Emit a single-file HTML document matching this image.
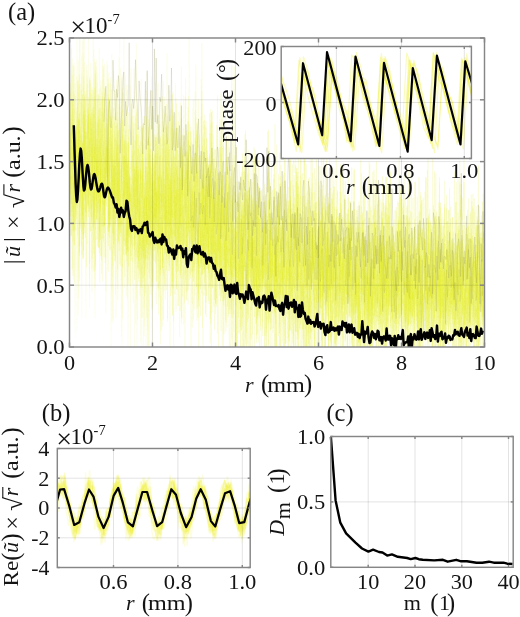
<!DOCTYPE html>
<html><head><meta charset="utf-8"><style>
html,body{margin:0;padding:0;background:#fff;}
svg{display:block;}
</style></head><body>
<svg width="520" height="617" viewBox="0 0 520 617" font-family='"Liberation Serif", "DejaVu Serif", serif'>
<rect x="0" y="0" width="520" height="617" fill="#fff"/>
<defs><clipPath id="ca"><rect x="69.5" y="38.0" width="415.0" height="309.0"/></clipPath></defs>
<g clip-path="url(#ca)" fill="none" stroke-linejoin="round">
<defs><filter id="mb" filterUnits="userSpaceOnUse" x="0" y="0" width="520" height="617"><feGaussianBlur stdDeviation="12"/></filter><mask id="mx" maskUnits="userSpaceOnUse" x="0" y="0" width="520" height="617"><g filter="url(#mb)"><rect x="29.5" y="-2" width="70.5" height="82" fill="#fff" fill-opacity="0.55"/><rect x="100" y="-2" width="50" height="82" fill="#fff" fill-opacity="0.5"/><rect x="150" y="-2" width="50" height="82" fill="#fff" fill-opacity="0.55"/><rect x="200" y="-2" width="80" height="82" fill="#fff" fill-opacity="0.75"/><rect x="280" y="-2" width="100" height="82" fill="#fff" fill-opacity="1"/><rect x="380" y="-2" width="144.5" height="82" fill="#fff" fill-opacity="1"/><rect x="29.5" y="80" width="70.5" height="40" fill="#fff" fill-opacity="0.85"/><rect x="100" y="80" width="50" height="40" fill="#fff" fill-opacity="0.75"/><rect x="150" y="80" width="50" height="40" fill="#fff" fill-opacity="0.75"/><rect x="200" y="80" width="80" height="40" fill="#fff" fill-opacity="0.9"/><rect x="280" y="80" width="100" height="40" fill="#fff" fill-opacity="1"/><rect x="380" y="80" width="144.5" height="40" fill="#fff" fill-opacity="1"/><rect x="29.5" y="120" width="70.5" height="40" fill="#fff" fill-opacity="0.95"/><rect x="100" y="120" width="50" height="40" fill="#fff" fill-opacity="0.9"/><rect x="150" y="120" width="50" height="40" fill="#fff" fill-opacity="0.9"/><rect x="200" y="120" width="80" height="40" fill="#fff" fill-opacity="1"/><rect x="280" y="120" width="100" height="40" fill="#fff" fill-opacity="1"/><rect x="380" y="120" width="144.5" height="40" fill="#fff" fill-opacity="1"/><rect x="29.5" y="160" width="70.5" height="40" fill="#fff" fill-opacity="1"/><rect x="100" y="160" width="50" height="40" fill="#fff" fill-opacity="1"/><rect x="150" y="160" width="50" height="40" fill="#fff" fill-opacity="1"/><rect x="200" y="160" width="80" height="40" fill="#fff" fill-opacity="1"/><rect x="280" y="160" width="100" height="40" fill="#fff" fill-opacity="1"/><rect x="380" y="160" width="144.5" height="40" fill="#fff" fill-opacity="1"/><rect x="29.5" y="200" width="70.5" height="40" fill="#fff" fill-opacity="1"/><rect x="100" y="200" width="50" height="40" fill="#fff" fill-opacity="1"/><rect x="150" y="200" width="50" height="40" fill="#fff" fill-opacity="1"/><rect x="200" y="200" width="80" height="40" fill="#fff" fill-opacity="1"/><rect x="280" y="200" width="100" height="40" fill="#fff" fill-opacity="1"/><rect x="380" y="200" width="144.5" height="40" fill="#fff" fill-opacity="1"/><rect x="29.5" y="240" width="70.5" height="40" fill="#fff" fill-opacity="1"/><rect x="100" y="240" width="50" height="40" fill="#fff" fill-opacity="1"/><rect x="150" y="240" width="50" height="40" fill="#fff" fill-opacity="1"/><rect x="200" y="240" width="80" height="40" fill="#fff" fill-opacity="1"/><rect x="280" y="240" width="100" height="40" fill="#fff" fill-opacity="1"/><rect x="380" y="240" width="144.5" height="40" fill="#fff" fill-opacity="1"/><rect x="29.5" y="280" width="70.5" height="40" fill="#fff" fill-opacity="0.4"/><rect x="100" y="280" width="50" height="40" fill="#fff" fill-opacity="0.6"/><rect x="150" y="280" width="50" height="40" fill="#fff" fill-opacity="0.85"/><rect x="200" y="280" width="80" height="40" fill="#fff" fill-opacity="1"/><rect x="280" y="280" width="100" height="40" fill="#fff" fill-opacity="1"/><rect x="380" y="280" width="144.5" height="40" fill="#fff" fill-opacity="1"/><rect x="29.5" y="320" width="70.5" height="67" fill="#fff" fill-opacity="0.25"/><rect x="100" y="320" width="50" height="67" fill="#fff" fill-opacity="0.4"/><rect x="150" y="320" width="50" height="67" fill="#fff" fill-opacity="0.7"/><rect x="200" y="320" width="80" height="67" fill="#fff" fill-opacity="0.9"/><rect x="280" y="320" width="100" height="67" fill="#fff" fill-opacity="1"/><rect x="380" y="320" width="144.5" height="67" fill="#fff" fill-opacity="1"/></g></mask></defs>
<g mask="url(#mx)" stroke="#e4f028" stroke-opacity="0.14" stroke-width="0.8"><path d="M69.8 184.9l0.6 -37 0.6 75.8 0.6 -29.1 0.6 -33.9 0.6 70.1 0.6 -49.4 0.6 50.4 0.6 -91.5 0.6 -57.7 0.6 15.1 0.6 100.9 0.6 -35.9 0.6 24.8 0.6 1.2 0.6 -64 0.6 127.8 0.6 -102 0.6 45.8 0.6 -62.1 0.6 54.7 0.6 34.3 0.6 -36.4 0.6 -16.8 0.6 26.3 0.6 -15.4 0.6 38.3 0.6 99.3 0.6 -154 0.6 10.4 0.6 19.9 0.6 3.3 0.6 -38.6 0.6 60.1 0.6 11.5 0.6 -21.7 0.6 -55.9 0.6 115.9 0.6 -115.3 0.6 75.7 0.6 23.7 0.6 -102.1 0.6 56.4 0.6 58 0.6 -47.1 0.6 -50.2 0.6 -12.9 0.6 66.4 0.6 -31.6 0.6 -10.9 0.6 52.3 0.6 -39.5 0.6 13.9 0.6 20.3 0.6 -2.2 0.6 -22.3 0.6 1 0.6 23.3 0.6 -6.4 0.6 -64.1 0.6 38.9 0.6 -29.2 0.6 -16.6 0.6 29.5 0.6 -84.4 0.6 138.2 0.6 -67.5 0.6 45.1 0.6 -99.1 0.6 6.7 0.6 172.4 0.6 -56.2 0.6 -67.6 0.6 -7.1 0.6 1.8 0.6 35.2 0.6 -22.8 0.6 -10.6 0.6 32.4 0.6 -52.2 0.6 157.3 0.6 -138.9 0.6 69 0.6 -85.9 0.6 54.4 0.6 24.7 0.6 -50.9 0.6 51.7 0.6 0.1 0.6 30.3 0.6 -62.9 0.6 -25 0.6 -25.8 0.6 55.6 0.6 -56 0.6 51.2 0.6 4.4 0.6 -30.4 0.6 -23.3 0.6 64.3 0.6 -2.8 0.6 -2.2 0.6 -7.7 0.6 38.1 0.6 -81.9 0.6 64.3 0.6 -33.4 0.6 52.9 0.6 -44.6 0.6 0.1 0.6 32.2 0.6 -109.4 0.6 83.3 0.6 -67.6 0.6 42.3 0.6 69.1 0.6 -10.2 0.6 -29 0.6 14.8 0.6 1.8 0.6 14.5 0.6 86.8 0.6 -86.4 0.6 117.4 0.6 -137.6 0.6 47 0.6 0.9 0.6 -21.7 0.6 -18.4 0.6 86.8 0.6 25.2 0.6 -46.6 0.6 64.4 0.6 -68.6 0.6 -113.5 0.6 120.1 0.6 -76.5 0.6 97.9 0.6 -84.5 0.6 25.5 0.6 -11.2 0.6 -23.9 0.6 -54.2 0.6 67.8 0.6 2.4 0.6 50.8 0.6 -68.4 0.6 31.4 0.6 -41.8 0.6 32.3 0.6 -78.4 0.6 188.1 0.6 -101.7 0.6 -47.3 0.6 47.9 0.6 18.7 0.6 -24 0.6 53.1 0.6 -69.3 0.6 -109.3 0.6 62 0.6 96.1 0.6 -12.6 0.6 -20.8 0.6 -60.5 0.6 75.8 0.6 -6.5 0.6 -66.8 0.6 -0.2 0.6 52.1 0.6 29.8 0.6 20.7 0.6 -40.2 0.6 80.2 0.6 -142.7 0.6 57.9 0.6 -46.6 0.6 -68.1 0.6 33 0.6 100.5 0.6 -87.1 0.6 -14.6 0.6 83.8 0.6 7.6 0.6 -31.6 0.6 59.4 0.6 -136.8 0.6 182.7 0.6 -68.9 0.6 -31.2 0.6 -1.5 0.6 -18.8 0.6 -5.1 0.6 23.5 0.6 -65.2 0.6 149.1 0.6 -93.8 0.6 28.7 0.6 -34.5 0.6 -3.9 0.6 46.8 0.6 -9.7 0.6 -63.5 0.6 21.8 0.6 44.2 0.6 -124.8 0.6 -12.5 0.6 170.2 0.6 -72.7 0.6 -105.8 0.6 83.4 0.6 27.5 0.6 20.9 0.6 12.2 0.6 -11.3 0.6 12.4 0.6 -57.3 0.6 52.5 0.6 1.9 0.6 29.5 0.6 -44.1 0.6 32.5 0.6 -25.4 0.6 -58 0.6 32.8 0.6 -6.1 0.6 7.6 0.6 14.7 0.6 9.5 0.6 7 0.6 -48.3 0.6 78.1 0.6 -104.8 0.6 62.9 0.6 30.3 0.6 -9 0.6 7.3 0.6 -32.4 0.6 34.8 0.6 -80.5 0.6 83.8 0.6 74 0.6 -75 0.6 59.5 0.6 -83.4 0.6 -51.7 0.6 20.2 0.6 82.5 0.6 -22.9 0.6 -111.4 0.6 70 0.6 15.6 0.6 -49.2 0.6 -65.4 0.6 55.6 0.6 55.7 0.6 -9.4 0.6 -11.6 0.6 51 0.6 18.2 0.6 -39.8 0.6 36.9 0.6 -31.5 0.6 -4.5 0.6 -105 0.6 140.5 0.6 -25.8 0.6 2.2 0.6 -23.1 0.6 -27.8 0.6 64.6 0.6 13.4 0.6 39.4 0.6 -33.8 0.6 -55.7 0.6 21.1 0.6 40.2 0.6 -24.7 0.6 -13.5 0.6 -18.6 0.6 41.5 0.6 -12.1 0.6 71.3 0.6 -34.9 0.6 -116 0.6 166.7 0.6 -82.3 0.6 -18.6 0.6 20.4 0.6 16.7 0.6 -26.9 0.6 -1.6 0.6 2.9 0.6 79.7 0.6 -76.9 0.6 26.3 0.6 -11.6 0.6 -26.1 0.6 -18.3 0.6 -11.5 0.6 55.5 0.6 -55.9 0.6 -11.2 0.6 2.3 0.6 -11.4 0.6 66 0.6 1.4 0.6 -39.5 0.6 88.4 0.6 -60.1 0.6 25.6 0.6 -5.3 0.6 62.2 0.6 -41.3 0.6 -31.1 0.6 -36.3 0.6 -4 0.6 44.2 0.6 4.2 0.6 24.4 0.6 -42.6 0.6 22 0.6 -29.6 0.6 -52.2 0.6 76.5 0.6 62.8 0.6 -30.3 0.6 30.2 0.6 -12.7 0.6 -99.9 0.6 45.9 0.6 75.1 0.6 -87.7 0.6 -26.8 0.6 63.1 0.6 13.6 0.6 -12.7 0.6 -20.9 0.6 -10.5 0.6 -22.5 0.6 -0.3 0.6 2.3 0.6 -7 0.6 30.7 0.6 83.2 0.6 -55 0.6 -14.8 0.6 26.3 0.6 -43.9 0.6 44.6 0.6 27.1 0.6 -93.2 0.6 31.8 0.6 15.3 0.6 -22.3 0.6 -4.2 0.6 24.1 0.6 64.2 0.6 -22.2 0.6 -9.6 0.6 26.9 0.6 -51.9 0.6 -33.1 0.6 61.3 0.6 28.6 0.6 -126.3 0.6 97.4 0.6 28.9 0.6 -55.6 0.6 -6.2 0.6 46.3 0.6 -57.5 0.6 47.5 0.6 22.2 0.6 -48.8 0.6 -19.5 0.6 53.8 0.6 -39.1 0.6 15.6 0.6 -116.9 0.6 144.3 0.6 -79.1 0.6 50.4 0.6 2.9 0.6 -29.3 0.6 -5.3 0.6 -13.3 0.6 31.3 0.6 36.6 0.6 -3 0.6 -39.6 0.6 -2.3 0.6 -29.4 0.6 34.4 0.6 -19.7 0.6 -20.4 0.6 48.4 0.6 51.3 0.6 0 0.6 0 0.6 -103.5 0.6 93.5 0.6 -77.4 0.6 22.4 0.6 -43.9 0.6 31.6 0.6 35.4 0.6 3.8 0.6 -10.2 0.6 -2.9 0.6 26.9 0.6 -19.3 0.6 -59.1 0.6 102.7 0.6 -52.9 0.6 47.2 0.6 -44.4 0.6 -20 0.6 28.9 0.6 -26.5 0.6 67.7 0.6 -78.2 0.6 59.2 0.6 -43.7 0.6 13.9 0.6 48.8 0.6 -12.1 0.6 -37.8 0.6 -47.7 0.6 45.5 0.6 1 0.6 51.1 0.6 -92.4 0.6 -16.6 0.6 65.1 0.6 8.5 0.6 35.4 0.6 -70.6 0.6 -79.1 0.6 83.5 0.6 -21.1 0.6 25.6 0.6 55.8 0.6 -85.9 0.6 91.8 0.6 -39.2 0.6 -16.3 0.6 -18.7 0.6 13.7 0.6 0.4 0.6 38.8 0.6 21.3 0.6 -51.9 0.6 26.1 0.6 25.8 0.6 -3.2 0.6 -33.2 0.6 36.4 0.6 -2.5 0.6 2.5 0.6 -60.5 0.6 -7.1 0.6 -68.2 0.6 135.3 0.6 -35.2 0.6 -55.3 0.6 38.9 0.6 2.8 0.6 -78.2 0.6 77.6 0.6 28.4 0.6 6.1 0.6 -55.2 0.6 0.6 0.6 55.5 0.6 -15.9 0.6 -50.5 0.6 -2.2 0.6 39.9 0.6 -42.4 0.6 1.9 0.6 83.7 0.6 -54.2 0.6 -23.5 0.6 31.1 0.6 46.6 0.6 -55.7 0.6 -37.3 0.6 -35.5 0.6 128.5 0.6 -172.9 0.6 143.6 0.6 -73.8 0.6 -12 0.6 10.3 0.6 35.1 0.6 40.2 0.6 -61.1 0.6 45.5 0.6 45.1 0.6 -184.7 0.6 89.2 0.6 -47.3 0.6 102.4 0.6 -88.4 0.6 -5.6 0.6 1 0.6 65.7 0.6 35.2 0.6 -31.5 0.6 64 0.6 -14.8 0.6 -60 0.6 33.3 0.6 -24.4 0.6 -1.8 0.6 -85.8 0.6 26.1 0.6 55.6 0.6 -52.8 0.6 74.2 0.6 -12.8 0.6 -50.4 0.6 76.4 0.6 -28.5 0.6 30.4 0.6 -47.1 0.6 -63.4 0.6 92.1 0.6 -34.6 0.6 38.2 0.6 7.2 0.6 2.4 0.6 -100.1 0.6 -37.8 0.6 77.4 0.6 44.4 0.6 -54 0.6 42.7 0.6 -46.9 0.6 21 0.6 0.5 0.6 -13.4 0.6 46.2 0.6 -4.7 0.6 39.9 0.6 -38.5 0.6 28.7 0.6 -39.2 0.6 25.7 0.6 -34.8 0.6 -13.9 0.6 64.1 0.6 -18 0.6 4.1 0.6 -59.7 0.6 -38.5 0.6 35.4 0.6 48 0.6 -71.8 0.6 107.4 0.6 -107.8 0.6 81.8 0.6 52.3 0.6 -179.7 0.6 43.7 0.6 95.3 0.6 -38 0.6 15.2 0.6 -12.5 0.6 49.9 0.6 -24.8 0.6 -40.1 0.6 9.7 0.6 -39.4 0.6 44.9 0.6 -91.4 0.6 116.6 0.6 -33 0.6 72.2 0.6 -23.9 0.6 -91.8 0.6 82.2 0.6 -50.5 0.6 23.5 0.6 29.6 0.6 -19.2 0.6 4.4 0.6 -0.8 0.6 -46.9 0.6 4.1 0.6 45.4 0.6 9.2 0.6 -39.3 0.6 15.6 0.6 -44.8 0.6 -64.7 0.6 72.9 0.6 35.5 0.6 5.9 0.6 19.5 0.6 1.8 0.6 3.2 0.6 -16.7 0.6 1.2 0.6 -42.7 0.6 42.6 0.6 -5 0.6 29.6 0.6 -101.2 0.6 46 0.6 -50.8 0.6 40.2 0.6 -27.3 0.6 67.1 0.6 -35.3 0.6 -79.1 0.6 144.1 0.6 -82.1 0.6 -20.4 0.6 51.5 0.6 -13.4 0.6 -20.1 0.6 69.1 0.6 -33.9 0.6 41 0.6 -5.7 0.6 -1.5 0.6 -13.2 0.6 -8.3 0.6 -12.3 0.6 61.9 0.6 -124.1 0.6 33.8 0.6 17.7 0.6 37.9 0.6 -7.4 0.6 -23.2 0.6 5.5 0.6 71.2 0.6 -84.8 0.6 -89.3 0.6 177.9 0.6 -99.4 0.6 25.5 0.6 16.6 0.6 -58.2 0.6 90.6 0.6 -41.5 0.6 -53.6 0.6 64.3 0.6 6.1 0.6 -15.5 0.6 16.1 0.6 -75.1 0.6 89 0.6 -61.3 0.6 73.2 0.6 -64.6 0.6 29.5 0.6 58.3 0.6 -60.7 0.6 31.8 0.6 -19.2 0.6 -73.9 0.6 95.8 0.6 -1.6 0.6 -88.8 0.6 54.5 0.6 -57.5 0.6 50.7 0.6 37.5 0.6 -24 0.6 -48.7 0.6 12.6 0.6 35.7 0.6 -0.8 0.6 5.1 0.6 14.4 0.6 -91.1 0.6 75 0.6 37.8 0.6 -22.4 0.6 -37.6 0.6 4.3 0.6 24.8 0.6 17.3 0.6 -21 0.6 50 0.6 -2.1 0.6 -71.5 0.6 40.7"/><path d="M69.8 208.1l0.6 28.4 0.6 -61.1 0.6 36.5 0.6 -3.2 0.6 0 0.6 -26 0.6 46.9 0.6 -63.1 0.6 24 0.6 10.9 0.6 3.8 0.6 -18.1 0.6 -18.9 0.6 2.6 0.6 19.6 0.6 -18.2 0.6 26.1 0.6 -47 0.6 50.9 0.6 116.2 0.6 -174.8 0.6 51.2 0.6 55.6 0.6 -45.8 0.6 28.6 0.6 -133.1 0.6 77.6 0.6 89.7 0.6 -93.5 0.6 33.7 0.6 -103.8 0.6 130.3 0.6 73.4 0.6 -119.8 0.6 14.2 0.6 1.8 0.6 88.9 0.6 -122.4 0.6 -62.8 0.6 165 0.6 -142 0.6 74.9 0.6 -135.1 0.6 94 0.6 25.8 0.6 -60.4 0.6 28.1 0.6 45.6 0.6 -55.8 0.6 52.2 0.6 56.2 0.6 -175.4 0.6 112.7 0.6 9.1 0.6 -39 0.6 78.7 0.6 -10 0.6 -34.2 0.6 0.7 0.6 -22.9 0.6 -52.2 0.6 73.5 0.6 -42.2 0.6 -5.3 0.6 71.1 0.6 -52.2 0.6 47.1 0.6 -87.9 0.6 30.6 0.6 22.3 0.6 53.5 0.6 -57.4 0.6 34.8 0.6 -62.8 0.6 40.6 0.6 25.7 0.6 -74.9 0.6 10.9 0.6 57.8 0.6 -77.8 0.6 68.6 0.6 1.2 0.6 -15.2 0.6 33.6 0.6 -10.9 0.6 -9.3 0.6 -78.6 0.6 2.6 0.6 82.2 0.6 -85.4 0.6 79.4 0.6 -16.2 0.6 -23.9 0.6 30.3 0.6 -104.3 0.6 107.9 0.6 59 0.6 -109.3 0.6 76.2 0.6 -3.5 0.6 133.8 0.6 -188.4 0.6 9.7 0.6 1.5 0.6 -8.3 0.6 -34.8 0.6 80.5 0.6 -42.3 0.6 70.7 0.6 -15.7 0.6 -59.7 0.6 33.2 0.6 72.6 0.6 -71.1 0.6 19.8 0.6 26.1 0.6 -48.7 0.6 31.5 0.6 56.6 0.6 -25.4 0.6 -128.6 0.6 150.1 0.6 -75.9 0.6 -17.7 0.6 -1.9 0.6 78 0.6 -39.7 0.6 -17.1 0.6 -31.4 0.6 59.7 0.6 22.1 0.6 -94 0.6 -5.9 0.6 35.2 0.6 38 0.6 -41.7 0.6 13.6 0.6 -36.8 0.6 88.4 0.6 -55.1 0.6 10.9 0.6 35.2 0.6 -54.4 0.6 7.7 0.6 17.4 0.6 -37.4 0.6 75.1 0.6 -55.4 0.6 -24.9 0.6 6.1 0.6 -39.8 0.6 100.2 0.6 12 0.6 -74.2 0.6 -11.5 0.6 -82.1 0.6 72.7 0.6 67.1 0.6 -77.8 0.6 76 0.6 23.8 0.6 -189.6 0.6 110.8 0.6 -19.6 0.6 6.8 0.6 -61.4 0.6 73.9 0.6 -46 0.6 104.4 0.6 13.1 0.6 -129.3 0.6 -2.8 0.6 46.4 0.6 13.4 0.6 2.5 0.6 41.1 0.6 -108.4 0.6 42.5 0.6 7.3 0.6 6.2 0.6 -32.6 0.6 26.3 0.6 -11.6 0.6 89 0.6 -77.4 0.6 -81 0.6 131.3 0.6 -18.5 0.6 -49.1 0.6 -2.8 0.6 16.6 0.6 100 0.6 -93.1 0.6 77.8 0.6 -12.6 0.6 -65.8 0.6 41.4 0.6 -52.8 0.6 -103.2 0.6 105.9 0.6 3.2 0.6 77.5 0.6 -10.6 0.6 17.5 0.6 -21.7 0.6 23.6 0.6 -16.5 0.6 -21.2 0.6 35.8 0.6 15.7 0.6 -1.8 0.6 -79.8 0.6 19.3 0.6 -46 0.6 -0.5 0.6 67 0.6 -48.1 0.6 93.7 0.6 -170.1 0.6 52.8 0.6 68.2 0.6 40.7 0.6 -68 0.6 97 0.6 -40.9 0.6 -71.5 0.6 33 0.6 27.9 0.6 -68 0.6 91.2 0.6 -57.5 0.6 38.4 0.6 14.8 0.6 -58.5 0.6 65.5 0.6 -131.7 0.6 119.4 0.6 -120.9 0.6 141.1 0.6 -72.2 0.6 78.6 0.6 6.8 0.6 -59.3 0.6 -23 0.6 84 0.6 -104.5 0.6 89.4 0.6 -35.6 0.6 -9.9 0.6 -8.3 0.6 103.3 0.6 -148 0.6 52 0.6 43.7 0.6 23.8 0.6 32.6 0.6 -14.9 0.6 -75.9 0.6 37.8 0.6 31.8 0.6 -22.9 0.6 -89.3 0.6 84.2 0.6 10.2 0.6 -80.8 0.6 42.9 0.6 18.1 0.6 23.9 0.6 43.8 0.6 -18.6 0.6 -28 0.6 -8.9 0.6 -19.9 0.6 -8.7 0.6 14.9 0.6 0.5 0.6 45.9 0.6 57.6 0.6 -76.8 0.6 17.6 0.6 -12.2 0.6 -13.7 0.6 39.4 0.6 -6.1 0.6 -38.8 0.6 -7.1 0.6 27.3 0.6 -42.7 0.6 27.3 0.6 30.7 0.6 -39.1 0.6 -83 0.6 108.6 0.6 -74.6 0.6 -9.7 0.6 -5.4 0.6 96.3 0.6 -119.8 0.6 87.2 0.6 12.6 0.6 -0.5 0.6 -31.9 0.6 23.3 0.6 7.9 0.6 -61.7 0.6 81.9 0.6 13.4 0.6 -71 0.6 4.6 0.6 -17.6 0.6 87 0.6 -85.4 0.6 28.4 0.6 -58.9 0.6 125.7 0.6 -54 0.6 16.7 0.6 55.8 0.6 -39.4 0.6 -72.5 0.6 63.9 0.6 9.5 0.6 -60.7 0.6 -5.5 0.6 0.2 0.6 69 0.6 -25.8 0.6 -45.2 0.6 65.8 0.6 3.4 0.6 -60 0.6 -34 0.6 110.1 0.6 39.5 0.6 -26.2 0.6 -19.9 0.6 -31.6 0.6 -29.6 0.6 29.6 0.6 18.6 0.6 -28.5 0.6 37.8 0.6 -31.9 0.6 19.5 0.6 -142 0.6 85.1 0.6 63 0.6 5.8 0.6 -20 0.6 47.5 0.6 -38 0.6 0 0.6 -63.5 0.6 52.7 0.6 12.1 0.6 20.9 0.6 -6.9 0.6 -37.8 0.6 4.6 0.6 -58.3 0.6 71.4 0.6 -68 0.6 36.5 0.6 11.9 0.6 77.3 0.6 -33.5 0.6 -77.4 0.6 -29.6 0.6 54.1 0.6 -25.1 0.6 47.5 0.6 -1.1 0.6 9.4 0.6 -65.2 0.6 28.5 0.6 23.3 0.6 2.8 0.6 -35.9 0.6 10.4 0.6 41.4 0.6 -104.6 0.6 65.5 0.6 10.8 0.6 -66.3 0.6 20.1 0.6 49.6 0.6 -28.4 0.6 59.6 0.6 -14.4 0.6 65.2 0.6 -143 0.6 123.5 0.6 -100.2 0.6 59 0.6 4.5 0.6 -25.5 0.6 -21.1 0.6 -15.8 0.6 -52.2 0.6 62.8 0.6 -23.7 0.6 62 0.6 -55.1 0.6 24.7 0.6 25.9 0.6 -15.5 0.6 -1.9 0.6 -11.6 0.6 -9.7 0.6 39.1 0.6 6.7 0.6 -62.2 0.6 93.3 0.6 -35.3 0.6 -94.7 0.6 167.2 0.6 -70.8 0.6 -58.9 0.6 89.1 0.6 -174.2 0.6 214.4 0.6 -163.2 0.6 -5.5 0.6 28.3 0.6 50.2 0.6 -25.6 0.6 50.8 0.6 -70.8 0.6 77.5 0.6 -29.7 0.6 -55.9 0.6 85.7 0.6 -25.5 0.6 -23.1 0.6 56 0.6 -99.7 0.6 36.4 0.6 69.3 0.6 -51.8 0.6 29.5 0.6 -3.2 0.6 -31 0.6 32.9 0.6 -71 0.6 71.3 0.6 -71.2 0.6 45.2 0.6 -38.7 0.6 61.4 0.6 -0.9 0.6 19.6 0.6 -65.5 0.6 -14.9 0.6 -50.5 0.6 36.9 0.6 46.1 0.6 21 0.6 -25 0.6 19.2 0.6 -63.4 0.6 23.7 0.6 70.3 0.6 -3.5 0.6 -81.2 0.6 47.1 0.6 23.7 0.6 -58.7 0.6 65.1 0.6 -2 0.6 6.3 0.6 56.9 0.6 -104.4 0.6 75.6 0.6 -20.2 0.6 6.8 0.6 -49.4 0.6 31.4 0.6 -1.2 0.6 62.8 0.6 -57.5 0.6 51.5 0.6 -60.5 0.6 -0.5 0.6 12.1 0.6 -79 0.6 65.6 0.6 -1 0.6 13.9 0.6 11.2 0.6 -36.7 0.6 -4.5 0.6 85.5 0.6 -81.4 0.6 19.9 0.6 -14.3 0.6 16.6 0.6 59.2 0.6 0 0.6 -110.4 0.6 58.5 0.6 51.9 0.6 -54.6 0.6 22.4 0.6 32.2 0.6 0 0.6 0 0.6 -53.1 0.6 9.3 0.6 6.1 0.6 -16.8 0.6 -9.2 0.6 63.7 0.6 -37.9 0.6 18.3 0.6 16.6 0.6 -28.6 0.6 -14.6 0.6 3.7 0.6 42.5 0.6 -37.2 0.6 -92.6 0.6 111.1 0.6 18.7 0.6 -63.1 0.6 -12.5 0.6 4.2 0.6 49.3 0.6 -73.9 0.6 59.9 0.6 11.2 0.6 -18.6 0.6 -15.2 0.6 -31.2 0.6 2.7 0.6 24 0.6 -38.8 0.6 34.1 0.6 -34.6 0.6 78.9 0.6 5.6 0.6 -82.3 0.6 73.8 0.6 -33.8 0.6 -6.4 0.6 10.5 0.6 -1.3 0.6 -72.2 0.6 129.7 0.6 -110 0.6 -58.1 0.6 92.5 0.6 1.4 0.6 -30.7 0.6 -45.2 0.6 111.3 0.6 -40.7 0.6 11 0.6 -30.4 0.6 16.2 0.6 -20.3 0.6 42.1 0.6 -17.1 0.6 24 0.6 0 0.6 -15.8 0.6 0.3 0.6 30.8 0.6 -99.5 0.6 69.2 0.6 37.6 0.6 -86.9 0.6 68.2 0.6 -43.6 0.6 21.6 0.6 -10.4 0.6 3.6 0.6 25.4 0.6 -19.4 0.6 -79.5 0.6 152.4 0.6 -72.4 0.6 -14.2 0.6 49 0.6 10.8 0.6 -126.9 0.6 98.1 0.6 -93.7 0.6 62.4 0.6 19.2 0.6 -15.3 0.6 -5.5 0.6 -21 0.6 30.7 0.6 12.5 0.6 -0.3 0.6 -46.1 0.6 22.4 0.6 60.6 0.6 -10.8 0.6 -27.5 0.6 28.6 0.6 -6.6 0.6 18.6 0.6 -20.6 0.6 -19.4 0.6 -22.2 0.6 35.6 0.6 -77.6 0.6 80.6 0.6 -124.5 0.6 87.9 0.6 20.4 0.6 29 0.6 38.2 0.6 -48.2 0.6 -9.1 0.6 -67.1 0.6 117.2 0.6 -117 0.6 78 0.6 -31.3 0.6 77.5 0.6 -57.5 0.6 13 0.6 -32.8 0.6 20.2 0.6 37.3 0.6 -69.5 0.6 9.6 0.6 3.4 0.6 -17 0.6 -4.3 0.6 41.1 0.6 41.3 0.6 0.5 0.6 -95.2 0.6 25 0.6 23.2 0.6 14.1 0.6 -13 0.6 -0.3 0.6 9.3 0.6 9.8 0.6 -105.4 0.6 76.9 0.6 24.5 0.6 21.4 0.6 -18.8 0.6 -49.2 0.6 -2.1 0.6 36.1 0.6 -9 0.6 10.6 0.6 22.6 0.6 -84.8 0.6 36.7 0.6 -84.7 0.6 120.8 0.6 -17.1 0.6 -41.2 0.6 43.6 0.6 33 0.6 -14 0.6 -32.6 0.6 -9.9 0.6 17.4 0.6 -44 0.6 0.4 0.6 26.9 0.6 12 0.6 10.5 0.6 -31 0.6 -14.4 0.6 34.8 0.6 -15.1 0.6 28.9 0.6 32.8 0.6 -12.9 0.6 -59 0.6 13.4 0.6 -45 0.6 62.1 0.6 -31.6 0.6 -17.6 0.6 13.9 0.6 56.5 0.6 -11.1 0.6 -8.6 0.6 32.7 0.6 -45.1 0.6 -21.3"/><path d="M69.8 172.8l0.6 -38.3 0.6 28.9 0.6 -16.7 0.6 122.5 0.6 -147.2 0.6 -56.4 0.6 50.5 0.6 74.3 0.6 20.9 0.6 -40.7 0.6 47.9 0.6 -68.6 0.6 51.2 0.6 -61.3 0.6 -19 0.6 160.3 0.6 -106.1 0.6 36.7 0.6 34.5 0.6 -36 0.6 -14.4 0.6 -52 0.6 113.4 0.6 -112.1 0.6 -47 0.6 71.5 0.6 3.4 0.6 21 0.6 50.4 0.6 -68.3 0.6 5.9 0.6 -14.2 0.6 -90.5 0.6 91.8 0.6 13.3 0.6 -53.8 0.6 130.3 0.6 -11 0.6 -35.2 0.6 11.9 0.6 -52 0.6 38.2 0.6 -90.1 0.6 10.7 0.6 37 0.6 44.8 0.6 -37.9 0.6 -10.2 0.6 77.2 0.6 -57.3 0.6 -16.6 0.6 20.3 0.6 -64.9 0.6 16.8 0.6 86 0.6 -37.1 0.6 35.8 0.6 -57.4 0.6 56.8 0.6 -76.4 0.6 25.3 0.6 -30.3 0.6 49.9 0.6 52.7 0.6 -146.2 0.6 91.7 0.6 -75.2 0.6 45.5 0.6 -13.5 0.6 -58.8 0.6 72.4 0.6 -54.1 0.6 127.3 0.6 -103.9 0.6 53.7 0.6 -6.7 0.6 -8.5 0.6 -18.1 0.6 -66.2 0.6 158.4 0.6 -80.7 0.6 33.3 0.6 -90.9 0.6 78 0.6 -44.4 0.6 41.7 0.6 -53.4 0.6 -17.6 0.6 69.7 0.6 -22.3 0.6 62.3 0.6 -75 0.6 -27.1 0.6 70.3 0.6 -82.7 0.6 144.8 0.6 -10 0.6 -19 0.6 -33.6 0.6 -24.1 0.6 5.9 0.6 0.5 0.6 -38 0.6 60.5 0.6 30.3 0.6 0.5 0.6 -154.5 0.6 211.5 0.6 -95 0.6 -79.1 0.6 50 0.6 59.3 0.6 -31.8 0.6 -40.7 0.6 -15 0.6 96.3 0.6 -70.4 0.6 27 0.6 -40.1 0.6 -12.3 0.6 82.4 0.6 47.7 0.6 -75.6 0.6 -66.4 0.6 55.4 0.6 24 0.6 -105.3 0.6 157.7 0.6 -81.1 0.6 63.5 0.6 -22 0.6 -0.6 0.6 -66.2 0.6 108.4 0.6 -16.3 0.6 52.8 0.6 -90.8 0.6 37 0.6 -32.4 0.6 60.8 0.6 -30.7 0.6 -58.7 0.6 52.5 0.6 -31.4 0.6 5.1 0.6 34.1 0.6 58.5 0.6 -114.3 0.6 37 0.6 -36.8 0.6 144.4 0.6 -24.7 0.6 33.5 0.6 -75.7 0.6 -81.6 0.6 22.7 0.6 24.4 0.6 -6.3 0.6 -29.4 0.6 44.2 0.6 -27.8 0.6 11 0.6 111 0.6 -93.2 0.6 -78.8 0.6 78.1 0.6 -9.7 0.6 16.5 0.6 -5.2 0.6 -72.3 0.6 63.4 0.6 28.4 0.6 99.9 0.6 -118.3 0.6 63.9 0.6 -8.7 0.6 -116 0.6 4 0.6 116.5 0.6 -123.6 0.6 19.1 0.6 52.2 0.6 -65.3 0.6 102.3 0.6 -19.4 0.6 10.9 0.6 -14.2 0.6 -85.2 0.6 95.5 0.6 -7.6 0.6 -7.8 0.6 -45.4 0.6 23.4 0.6 -54.6 0.6 69.2 0.6 24.2 0.6 -30.7 0.6 -19.9 0.6 37.7 0.6 -47.4 0.6 -73.1 0.6 109.8 0.6 -21.9 0.6 -61.8 0.6 89.3 0.6 9.1 0.6 11.8 0.6 -58.8 0.6 -4.2 0.6 29.4 0.6 -5.7 0.6 -55.7 0.6 21 0.6 99.5 0.6 -58.3 0.6 -2.9 0.6 -25.3 0.6 39.6 0.6 18.1 0.6 -6.5 0.6 70.5 0.6 -84.7 0.6 23.7 0.6 -38.9 0.6 61.7 0.6 -25.9 0.6 26.1 0.6 5.9 0.6 -71.8 0.6 45.6 0.6 -33.6 0.6 68.1 0.6 -53.6 0.6 93 0.6 -67.8 0.6 2.1 0.6 -41 0.6 15.2 0.6 14.5 0.6 -36.5 0.6 23.9 0.6 -11.7 0.6 -7.3 0.6 30.9 0.6 10 0.6 -23.7 0.6 30.2 0.6 -31.4 0.6 -27.5 0.6 12.2 0.6 46.9 0.6 48.8 0.6 -61.8 0.6 3.2 0.6 -46.7 0.6 58.2 0.6 -7.2 0.6 -34.5 0.6 46.7 0.6 -13.6 0.6 -76.7 0.6 10.7 0.6 37.4 0.6 12.7 0.6 54.3 0.6 -64.2 0.6 17.8 0.6 -6 0.6 29.5 0.6 -20.9 0.6 6.6 0.6 -18.6 0.6 -46.3 0.6 44.4 0.6 92.9 0.6 -38.6 0.6 35.4 0.6 -45.5 0.6 -52.3 0.6 4.8 0.6 36.6 0.6 -33 0.6 38.3 0.6 32.6 0.6 -2.2 0.6 -28.7 0.6 -94 0.6 115.3 0.6 -109 0.6 -4.9 0.6 62.3 0.6 -5.1 0.6 19.4 0.6 -21.4 0.6 -28.3 0.6 26.2 0.6 -43.6 0.6 -9.5 0.6 38.6 0.6 0.2 0.6 14.8 0.6 -16.6 0.6 54.1 0.6 -57.4 0.6 9.2 0.6 37.9 0.6 -128.3 0.6 132.8 0.6 -3.7 0.6 -41.2 0.6 91.3 0.6 -51.7 0.6 31.2 0.6 -23.4 0.6 -28.5 0.6 -16.6 0.6 -35.3 0.6 14.7 0.6 -16.5 0.6 28.6 0.6 40.9 0.6 -62.9 0.6 65.4 0.6 5.5 0.6 -86.3 0.6 35.5 0.6 25.7 0.6 -21.4 0.6 -4.6 0.6 90.1 0.6 -50.3 0.6 43.7 0.6 -49 0.6 29 0.6 -78.5 0.6 39.3 0.6 47.8 0.6 -29 0.6 49.4 0.6 -50.1 0.6 -15.7 0.6 9.5 0.6 77 0.6 -55.8 0.6 -27.9 0.6 6.6 0.6 -33.9 0.6 98 0.6 -70.8 0.6 40.7 0.6 -30.6 0.6 -6.9 0.6 -10.3 0.6 43.1 0.6 -27 0.6 51.1 0.6 11.1 0.6 -76.5 0.6 19.4 0.6 64 0.6 -37.6 0.6 -31.4 0.6 -66.2 0.6 21.8 0.6 9.7 0.6 101.9 0.6 -68.4 0.6 -23.7 0.6 2.1 0.6 -2.7 0.6 24.1 0.6 -88.1 0.6 11.1 0.6 69.4 0.6 27.2 0.6 -127.4 0.6 111.4 0.6 -75.5 0.6 -33.4 0.6 118.6 0.6 -47.9 0.6 27.7 0.6 -39.8 0.6 7.9 0.6 -73.8 0.6 60.5 0.6 26.4 0.6 -51.3 0.6 62.5 0.6 4.1 0.6 -117 0.6 132.7 0.6 -10.3 0.6 -23.8 0.6 41.7 0.6 38.9 0.6 -125.3 0.6 78.6 0.6 -7.1 0.6 -6.9 0.6 20.5 0.6 3 0.6 -46.9 0.6 -99.7 0.6 74.1 0.6 -0.5 0.6 87.5 0.6 -53.2 0.6 42.4 0.6 -78 0.6 44.5 0.6 -12 0.6 5.6 0.6 21.7 0.6 29 0.6 -80.6 0.6 75.9 0.6 -6.5 0.6 -30.7 0.6 16.5 0.6 -41.3 0.6 -33.1 0.6 33.8 0.6 2.4 0.6 7.9 0.6 -36.7 0.6 104.5 0.6 -82.1 0.6 52.8 0.6 9.4 0.6 -44.8 0.6 17.8 0.6 -42.1 0.6 -22.1 0.6 134.6 0.6 -81.8 0.6 -88.5 0.6 48.7 0.6 -24.6 0.6 59.8 0.6 55.2 0.6 -9.4 0.6 -69.5 0.6 -9.7 0.6 69.6 0.6 -13.5 0.6 -21.9 0.6 72.8 0.6 -44.9 0.6 -82.8 0.6 -23.2 0.6 101.4 0.6 -82.8 0.6 97.6 0.6 9.9 0.6 49 0.6 -111.5 0.6 53 0.6 -109.2 0.6 88.9 0.6 7.9 0.6 70.9 0.6 -123.6 0.6 72.7 0.6 -4.8 0.6 55.7 0.6 -91.3 0.6 -0.8 0.6 56.3 0.6 -21.1 0.6 -7.4 0.6 -19.7 0.6 30.3 0.6 -59.6 0.6 72.9 0.6 14.3 0.6 -4.1 0.6 30.2 0.6 -14.3 0.6 -60.3 0.6 23.6 0.6 40.3 0.6 -41.6 0.6 52.3 0.6 -30.5 0.6 -25.8 0.6 -4.8 0.6 51.2 0.6 -57 0.6 -39.5 0.6 81.8 0.6 -37.8 0.6 62.4 0.6 0 0.6 -59.7 0.6 16.6 0.6 -5.5 0.6 26.2 0.6 -11.5 0.6 -34 0.6 -38.8 0.6 67.9 0.6 38.8 0.6 -91 0.6 25.7 0.6 -2.8 0.6 13.3 0.6 -84.3 0.6 86 0.6 -13 0.6 66.1 0.6 -34.7 0.6 2.9 0.6 -21.5 0.6 -11.2 0.6 32.5 0.6 -90.5 0.6 100.5 0.6 -22 0.6 -20.4 0.6 47.1 0.6 -61.2 0.6 -3.5 0.6 30.2 0.6 -85 0.6 73.3 0.6 -7.5 0.6 37.2 0.6 26.7 0.6 -38.6 0.6 -9.6 0.6 3.2 0.6 -44.5 0.6 96.6 0.6 -33.1 0.6 26 0.6 -116.2 0.6 71.1 0.6 -1.8 0.6 17.2 0.6 -70.5 0.6 49.4 0.6 -22.5 0.6 77.5 0.6 -117.3 0.6 31.5 0.6 -6.8 0.6 -28.4 0.6 58.4 0.6 -1.3 0.6 -36.4 0.6 11.8 0.6 27 0.6 -11.5 0.6 18.5 0.6 -45.9 0.6 -8.9 0.6 37.9 0.6 -76.3 0.6 124.9 0.6 -38.8 0.6 -79 0.6 84.1 0.6 36 0.6 -107 0.6 34.5 0.6 58.9 0.6 -68.1 0.6 62.8 0.6 9.9 0.6 -35.3 0.6 10.1 0.6 17.3 0.6 -20.6 0.6 17.6 0.6 -33.8 0.6 3.1 0.6 -31.2 0.6 45.9 0.6 24.9 0.6 -0.7 0.6 -31.6 0.6 -71.8 0.6 27.2 0.6 55.6 0.6 -60.3 0.6 74.1 0.6 -77.9 0.6 55.6 0.6 -46.7 0.6 5.5 0.6 35.7 0.6 -24.6 0.6 47.7 0.6 -32.3 0.6 -46.7 0.6 -121.1 0.6 135.9 0.6 24.5 0.6 37.3 0.6 -76.3 0.6 95.7 0.6 -25.1 0.6 -42.3 0.6 53.7 0.6 -100.7 0.6 18.1 0.6 65.5 0.6 -0.2 0.6 21.5 0.6 2.8 0.6 -62.2 0.6 -6.9 0.6 11.3 0.6 3.9 0.6 31.4 0.6 -34.3 0.6 61.4 0.6 -46.1 0.6 -58.2 0.6 6.7 0.6 70.3 0.6 -2.9 0.6 -67.4 0.6 -15.6 0.6 118.9 0.6 -31.2 0.6 -22.6 0.6 -38.6 0.6 74.6 0.6 -49.5 0.6 36 0.6 -103.5 0.6 79.1 0.6 22 0.6 5.9 0.6 -50.3 0.6 15.9 0.6 58.3 0.6 -38.4 0.6 48.5 0.6 -19 0.6 18.4 0.6 1.6 0.6 -21 0.6 9.7 0.6 -47.1 0.6 -10.4 0.6 36.2 0.6 27.3 0.6 -62.9 0.6 87 0.6 0 0.6 -83.4 0.6 2.9 0.6 -12.7 0.6 42 0.6 33.1 0.6 -24.8 0.6 -34 0.6 41.6 0.6 -2.1 0.6 24.1 0.6 -8.9 0.6 -66.6 0.6 15.4 0.6 50.4 0.6 -3.1 0.6 -16.6 0.6 -35.6 0.6 54.5 0.6 -30.6 0.6 54.4 0.6 -21.5 0.6 -53.3 0.6 -19.5 0.6 68.3 0.6 -12.7 0.6 -52.7 0.6 41.1 0.6 4 0.6 -35 0.6 12.6 0.6 -37.2 0.6 12.4 0.6 46.8 0.6 -12.7 0.6 -1.8 0.6 38.3 0.6 -13.1 0.6 -66.8"/><path d="M69.8 210.5l0.6 -78.8 0.6 4.7 0.6 -51.3 0.6 -26.6 0.6 63.6 0.6 44.7 0.6 22.1 0.6 -13.7 0.6 -40.3 0.6 87.8 0.6 -90.9 0.6 3.7 0.6 -33.1 0.6 48.1 0.6 -22 0.6 41.2 0.6 -13.7 0.6 51.7 0.6 -81.1 0.6 -70.8 0.6 68.8 0.6 -10 0.6 64.9 0.6 -117.5 0.6 109.3 0.6 -77.5 0.6 34.9 0.6 51.5 0.6 -96.2 0.6 50.8 0.6 -7.4 0.6 -12.9 0.6 24.3 0.6 18.5 0.6 -41 0.6 44.2 0.6 -22.3 0.6 37.4 0.6 30.8 0.6 -28.3 0.6 -7.7 0.6 -24.1 0.6 -56.8 0.6 130 0.6 -75.1 0.6 102 0.6 -48.5 0.6 -18 0.6 73.2 0.6 -18.5 0.6 -83.1 0.6 5.3 0.6 11.1 0.6 29.4 0.6 -138.5 0.6 116.6 0.6 28 0.6 -115.7 0.6 54.5 0.6 47.7 0.6 -72.8 0.6 53.2 0.6 -22.4 0.6 22 0.6 51.6 0.6 -84.6 0.6 42 0.6 46.4 0.6 -8.7 0.6 -72 0.6 59.8 0.6 -13.6 0.6 -26.5 0.6 25.9 0.6 71.5 0.6 -92.2 0.6 -13.6 0.6 4.8 0.6 -36 0.6 63.1 0.6 -19.4 0.6 -39.3 0.6 84.5 0.6 -90.2 0.6 0.8 0.6 47.8 0.6 -51.8 0.6 49.5 0.6 72.2 0.6 -85.6 0.6 38.5 0.6 -2.9 0.6 9.4 0.6 -55.3 0.6 40.1 0.6 48.6 0.6 -45.5 0.6 -12.3 0.6 58.7 0.6 -12.5 0.6 -2.4 0.6 8.7 0.6 -36.1 0.6 -33.6 0.6 -44 0.6 33.8 0.6 7.7 0.6 -6.8 0.6 -10.4 0.6 75.8 0.6 -45.9 0.6 17.4 0.6 17.6 0.6 11.2 0.6 1.2 0.6 -9.3 0.6 38 0.6 -74.2 0.6 25.8 0.6 -6.9 0.6 -12.2 0.6 -19.7 0.6 57.5 0.6 -17.6 0.6 60.1 0.6 34.5 0.6 -17.5 0.6 -159.2 0.6 152.4 0.6 -100.3 0.6 -49.4 0.6 91.3 0.6 -98.6 0.6 -10.5 0.6 44.5 0.6 -69.8 0.6 86.3 0.6 59.4 0.6 -53.9 0.6 44.1 0.6 33.8 0.6 -0.8 0.6 -163.3 0.6 135.3 0.6 -20 0.6 25.1 0.6 -32.4 0.6 17.7 0.6 6.3 0.6 30.9 0.6 9 0.6 -27.2 0.6 -43.3 0.6 -87.2 0.6 50 0.6 -37.7 0.6 65.2 0.6 27.7 0.6 48.2 0.6 -53.2 0.6 93.8 0.6 -80.2 0.6 -94.2 0.6 62.8 0.6 -39.5 0.6 72.5 0.6 36.9 0.6 -34.3 0.6 -3.4 0.6 -78.6 0.6 -38.1 0.6 127.7 0.6 -15.5 0.6 -11.1 0.6 9.2 0.6 34.2 0.6 -57 0.6 -13.7 0.6 -1.8 0.6 69.2 0.6 -46.2 0.6 66.6 0.6 -117.6 0.6 88.8 0.6 -32.2 0.6 8 0.6 6.1 0.6 18.6 0.6 27 0.6 -158.5 0.6 71.2 0.6 -0.5 0.6 -88.7 0.6 106.4 0.6 -31.4 0.6 25.9 0.6 -55.9 0.6 33.5 0.6 9.5 0.6 28.1 0.6 -25.1 0.6 -41.8 0.6 145.1 0.6 -81 0.6 15 0.6 -4.6 0.6 70 0.6 -117.3 0.6 74.6 0.6 -25.9 0.6 14.7 0.6 46.3 0.6 -46.3 0.6 56.7 0.6 -35.3 0.6 -23.4 0.6 -13.5 0.6 -1.4 0.6 10.7 0.6 -107.7 0.6 83.1 0.6 71 0.6 -21.8 0.6 2.7 0.6 -17.2 0.6 17.4 0.6 10.2 0.6 -111.2 0.6 78 0.6 17.5 0.6 -2 0.6 -0.3 0.6 -74.9 0.6 44.7 0.6 -29.8 0.6 178 0.6 -138 0.6 -34 0.6 -42.7 0.6 93.5 0.6 72.3 0.6 -97.3 0.6 50.1 0.6 53.8 0.6 -51.6 0.6 -70.9 0.6 -6 0.6 23.8 0.6 73.3 0.6 -156.4 0.6 163.6 0.6 -40.7 0.6 55.9 0.6 -117.2 0.6 42.5 0.6 -19.8 0.6 37.5 0.6 6.3 0.6 -7.4 0.6 92.1 0.6 -127.7 0.6 4.8 0.6 54.1 0.6 -12.7 0.6 -9.9 0.6 -58.7 0.6 54.6 0.6 14.9 0.6 20.6 0.6 46.7 0.6 -42.1 0.6 -23.8 0.6 11.8 0.6 -11.1 0.6 -26.7 0.6 14.9 0.6 6 0.6 -16 0.6 19.4 0.6 7.5 0.6 -17.8 0.6 93.8 0.6 -130.6 0.6 105.8 0.6 -86.6 0.6 34 0.6 -47.2 0.6 46.2 0.6 36 0.6 -81.7 0.6 40.1 0.6 1.8 0.6 0.9 0.6 -41.7 0.6 7.9 0.6 26.7 0.6 68.7 0.6 -47.6 0.6 -17.7 0.6 -79.8 0.6 64.9 0.6 19.9 0.6 -59.7 0.6 59.2 0.6 -4.1 0.6 -9.6 0.6 61.9 0.6 -101.1 0.6 23.8 0.6 31.1 0.6 28.6 0.6 -52.6 0.6 -55.9 0.6 89.5 0.6 13.7 0.6 -60 0.6 79.2 0.6 28 0.6 -69.5 0.6 7.5 0.6 -16.3 0.6 11.1 0.6 -40.6 0.6 25.1 0.6 15.9 0.6 -6.2 0.6 -50.8 0.6 -15.7 0.6 2.1 0.6 9.1 0.6 151 0.6 -78.8 0.6 -26.8 0.6 -24.2 0.6 71.6 0.6 -127.9 0.6 51.4 0.6 42.5 0.6 -35.9 0.6 23.6 0.6 18 0.6 -56.7 0.6 44.4 0.6 34.4 0.6 -25.3 0.6 -23.3 0.6 38.6 0.6 -100.5 0.6 101.7 0.6 -123.1 0.6 40.1 0.6 79.7 0.6 -43.5 0.6 -47.2 0.6 63.4 0.6 37.7 0.6 -49.8 0.6 -84.6 0.6 146.9 0.6 -79.4 0.6 25.9 0.6 7 0.6 13.7 0.6 -1.9 0.6 -60.3 0.6 21.4 0.6 64.3 0.6 -105.2 0.6 117.8 0.6 -74.4 0.6 23 0.6 -44.5 0.6 39.5 0.6 -30.3 0.6 50.2 0.6 -43.7 0.6 29.7 0.6 -80.1 0.6 120.1 0.6 -74.4 0.6 34.1 0.6 14.1 0.6 25.4 0.6 -35.5 0.6 71.5 0.6 -3.8 0.6 -77 0.6 86.7 0.6 -118 0.6 70.9 0.6 -16.6 0.6 6.5 0.6 -13.6 0.6 24.7 0.6 2.9 0.6 -7.5 0.6 -48.4 0.6 -4 0.6 -6.7 0.6 40.1 0.6 20.1 0.6 53.9 0.6 -88.5 0.6 -9.8 0.6 48.3 0.6 -48.9 0.6 -22.6 0.6 52 0.6 -44.1 0.6 32 0.6 73.1 0.6 -45.2 0.6 -2.8 0.6 -40.8 0.6 52.5 0.6 -13.7 0.6 14.7 0.6 -34.3 0.6 -6.3 0.6 -41.4 0.6 6.5 0.6 26.8 0.6 -4.5 0.6 4.8 0.6 -1.1 0.6 -64.1 0.6 160.8 0.6 -86 0.6 -22 0.6 -36.4 0.6 92.8 0.6 -58.5 0.6 -22.6 0.6 57.8 0.6 49.9 0.6 -53 0.6 30.7 0.6 -73.7 0.6 64.5 0.6 -112.1 0.6 73 0.6 40.1 0.6 -9.2 0.6 19.6 0.6 -55.6 0.6 -46.4 0.6 76.3 0.6 -48 0.6 75.2 0.6 -44.4 0.6 -84.8 0.6 148.9 0.6 -98.1 0.6 4.7 0.6 118.4 0.6 -16.7 0.6 -14.8 0.6 -69.4 0.6 55.2 0.6 -6.3 0.6 -31.6 0.6 26.1 0.6 -1.9 0.6 17.1 0.6 -52 0.6 69.5 0.6 -90 0.6 77.7 0.6 16.7 0.6 -45.7 0.6 8.6 0.6 68.4 0.6 -60.3 0.6 58.1 0.6 -21.9 0.6 -52.7 0.6 55.3 0.6 -39.9 0.6 23 0.6 -85.1 0.6 76.5 0.6 41.2 0.6 -3.1 0.6 -8.6 0.6 -36 0.6 3.9 0.6 -32.1 0.6 26.7 0.6 0.9 0.6 -5.8 0.6 13.1 0.6 -12.8 0.6 -16.6 0.6 -0.6 0.6 41.7 0.6 35.1 0.6 -26.9 0.6 -35.1 0.6 62 0.6 -40.6 0.6 -27.7 0.6 29.3 0.6 19.4 0.6 -106.1 0.6 14.7 0.6 60 0.6 -58.9 0.6 0.1 0.6 85.8 0.6 -145.3 0.6 136.9 0.6 -21.8 0.6 26.1 0.6 -36.6 0.6 43.6 0.6 -42.1 0.6 -44 0.6 35.7 0.6 14.2 0.6 -71 0.6 89.1 0.6 -66.1 0.6 47.6 0.6 -17.4 0.6 7.2 0.6 -4.5 0.6 6.6 0.6 20.3 0.6 -6.5 0.6 -35.1 0.6 21.8 0.6 30.8 0.6 -14.5 0.6 -0.5 0.6 -18.5 0.6 -9.8 0.6 3.4 0.6 23.2 0.6 -20.5 0.6 42.8 0.6 28.9 0.6 -69 0.6 50.5 0.6 -24.2 0.6 8.2 0.6 -62.2 0.6 62.7 0.6 -47.7 0.6 26.5 0.6 22.8 0.6 12.4 0.6 -67.6 0.6 3.6 0.6 -15.2 0.6 -42.4 0.6 64.3 0.6 0.4 0.6 15.6 0.6 -6.7 0.6 14.1 0.6 16.6 0.6 -104.4 0.6 141.7 0.6 -68.9 0.6 -6.6 0.6 12.4 0.6 33.3 0.6 -22.5 0.6 8.6 0.6 20.8 0.6 -30.9 0.6 11.1 0.6 5.3 0.6 -37.1 0.6 56.5 0.6 -44.7 0.6 31 0.6 -29 0.6 10.4 0.6 -3.9 0.6 39.7 0.6 -6.8 0.6 3.9 0.6 -32.2 0.6 -15.5 0.6 -12.5 0.6 50.2 0.6 -17.7 0.6 45.1 0.6 0 0.6 -12.3 0.6 -7.5 0.6 19.8 0.6 0 0.6 -56.2 0.6 41.9 0.6 14.3 0.6 -124.5 0.6 77.8 0.6 14.4 0.6 -28.6 0.6 43.3 0.6 -79.5 0.6 97.1 0.6 0 0.6 -40.5 0.6 19.9 0.6 -73.1 0.6 93.7 0.6 -24.1 0.6 -30 0.6 -9.4 0.6 -18.6 0.6 23.2 0.6 -73.2 0.6 94.5 0.6 -19.1 0.6 -25 0.6 37 0.6 -1.5 0.6 4.1 0.6 4.6 0.6 15.1 0.6 -19.4 0.6 33.5 0.6 -63.1 0.6 62.8 0.6 -131.9 0.6 13.5 0.6 22.8 0.6 48.1 0.6 9.6 0.6 -65.2 0.6 40.7 0.6 -15.9 0.6 41.7 0.6 -63.5 0.6 64.6 0.6 -27.9 0.6 57.6 0.6 -35.3 0.6 -40.2 0.6 33.8 0.6 -0.6 0.6 -46.6 0.6 33.8 0.6 -53 0.6 122.5 0.6 -96.7 0.6 2 0.6 67.6 0.6 -8.4 0.6 -75.4 0.6 67.9 0.6 -12.2 0.6 -45.7 0.6 36.8 0.6 -32.6 0.6 46.9 0.6 -40.2 0.6 -31.6 0.6 30 0.6 85.5 0.6 -98.8 0.6 23.5 0.6 31.7 0.6 -85.1 0.6 110.7 0.6 -130.1 0.6 96.9 0.6 -85.1 0.6 64.3 0.6 40.1 0.6 -45.8 0.6 -9.5 0.6 -8.5 0.6 -20.7 0.6 71.9 0.6 -49.3 0.6 -9.7 0.6 40.2 0.6 20 0.6 0.6 0.6 -60.8 0.6 -1.7 0.6 59.5 0.6 14.9 0.6 -90.9 0.6 98.5 0.6 -54.5 0.6 32.9"/><path d="M69.8 182.1l0.6 -22.1 0.6 14.8 0.6 28.7 0.6 -2.2 0.6 -43.6 0.6 -23.8 0.6 96.2 0.6 -65.8 0.6 -27.9 0.6 19.7 0.6 43.4 0.6 -87.9 0.6 96.6 0.6 -77.3 0.6 -46.4 0.6 162.1 0.6 -96.4 0.6 -2.7 0.6 4.2 0.6 40.6 0.6 -15.4 0.6 39.4 0.6 -60.1 0.6 -19.8 0.6 52.6 0.6 9.1 0.6 -15.6 0.6 -19.8 0.6 -3.4 0.6 7.9 0.6 -8.5 0.6 54 0.6 74.6 0.6 -155.6 0.6 -39.4 0.6 124.3 0.6 -27.9 0.6 -42.6 0.6 -32.2 0.6 14.4 0.6 -31 0.6 64.5 0.6 -23.2 0.6 -0.2 0.6 40.7 0.6 -79.7 0.6 27.9 0.6 -17.4 0.6 66.5 0.6 -69 0.6 93.4 0.6 -61.9 0.6 135.2 0.6 -73.7 0.6 -76.5 0.6 58.4 0.6 -29.4 0.6 74.1 0.6 -138.8 0.6 47.5 0.6 31.5 0.6 -20 0.6 5.8 0.6 -51.1 0.6 60.1 0.6 69.5 0.6 -43.9 0.6 -71.4 0.6 36.9 0.6 45 0.6 -42.3 0.6 26.4 0.6 -21.4 0.6 94.9 0.6 -29.5 0.6 -60.1 0.6 38.7 0.6 -17.8 0.6 -75.1 0.6 102.8 0.6 -17.7 0.6 32.2 0.6 5.5 0.6 -19.9 0.6 69.7 0.6 52.6 0.6 -174.3 0.6 61.7 0.6 -45.1 0.6 40.2 0.6 0.9 0.6 -17.5 0.6 -0.1 0.6 93.6 0.6 -108.2 0.6 98.2 0.6 -57.8 0.6 -100 0.6 108.5 0.6 -61.9 0.6 85.7 0.6 -41.3 0.6 24.6 0.6 -14.6 0.6 67.9 0.6 5.7 0.6 -67.4 0.6 113.1 0.6 -48 0.6 -76 0.6 61.6 0.6 17.8 0.6 15.5 0.6 -74.5 0.6 24.8 0.6 -26.1 0.6 15.1 0.6 -85.7 0.6 96.2 0.6 79.3 0.6 -108.7 0.6 3.5 0.6 -8.1 0.6 100.2 0.6 -139.2 0.6 41.6 0.6 -1.5 0.6 81.9 0.6 -105.2 0.6 18 0.6 -60.2 0.6 69.7 0.6 36.6 0.6 -61.9 0.6 39.1 0.6 -53.2 0.6 55.5 0.6 -40.7 0.6 1.4 0.6 -8.7 0.6 14.9 0.6 8.9 0.6 -28.8 0.6 16.2 0.6 -31.5 0.6 17.2 0.6 81.6 0.6 -95.7 0.6 -71.1 0.6 49.7 0.6 -15.7 0.6 5.3 0.6 42.6 0.6 30.8 0.6 -93.2 0.6 -12 0.6 23 0.6 6.8 0.6 1.8 0.6 20.6 0.6 -13.4 0.6 13.5 0.6 -13.5 0.6 56.3 0.6 -9.6 0.6 -53 0.6 44.8 0.6 90.5 0.6 -107.8 0.6 105.8 0.6 -184.6 0.6 58.7 0.6 5.1 0.6 58.5 0.6 20.2 0.6 -31.5 0.6 -5.6 0.6 30.5 0.6 -30.7 0.6 -21.3 0.6 7.1 0.6 67 0.6 69.3 0.6 -105.7 0.6 27.7 0.6 -38.7 0.6 -51.2 0.6 2.7 0.6 60 0.6 -30.3 0.6 -22.5 0.6 67.1 0.6 -6.6 0.6 -18.5 0.6 33.5 0.6 21.7 0.6 14.2 0.6 -33.4 0.6 29.6 0.6 -56.7 0.6 44.9 0.6 -70.1 0.6 12.4 0.6 110.6 0.6 -104.5 0.6 57.5 0.6 -69.7 0.6 32.3 0.6 21.5 0.6 -27.3 0.6 50.1 0.6 -38.2 0.6 -2.4 0.6 20.2 0.6 -21.3 0.6 61.1 0.6 -68.6 0.6 77.8 0.6 -81.9 0.6 4.1 0.6 -9 0.6 45.8 0.6 -154 0.6 137.4 0.6 -15.2 0.6 33.5 0.6 -89.5 0.6 74.4 0.6 -58.2 0.6 74.3 0.6 -47.5 0.6 22 0.6 -52.9 0.6 47.7 0.6 19.8 0.6 -50.2 0.6 61.2 0.6 -10.7 0.6 -68.3 0.6 107.8 0.6 -108.9 0.6 47.1 0.6 17.7 0.6 -42.9 0.6 -17.7 0.6 48.6 0.6 -13.4 0.6 -42.5 0.6 2.5 0.6 36.7 0.6 24.6 0.6 6.8 0.6 -11.6 0.6 -49.8 0.6 5.6 0.6 13.3 0.6 -47.6 0.6 72.8 0.6 3.6 0.6 1.3 0.6 -95.6 0.6 170.1 0.6 -94.5 0.6 -5.3 0.6 16.9 0.6 -97.6 0.6 53.9 0.6 19.8 0.6 63.8 0.6 -47.5 0.6 31.3 0.6 -12.4 0.6 -3.5 0.6 25.1 0.6 -35.9 0.6 -42.2 0.6 28.4 0.6 32 0.6 89.4 0.6 -117.8 0.6 2.2 0.6 46.4 0.6 12.6 0.6 -38.7 0.6 56.3 0.6 -58.4 0.6 74.9 0.6 -7.1 0.6 -39.2 0.6 68.8 0.6 -67 0.6 -17.7 0.6 80.2 0.6 -92.1 0.6 53 0.6 -41.2 0.6 10.8 0.6 24.7 0.6 2.1 0.6 47.2 0.6 -41.6 0.6 2.2 0.6 -92.7 0.6 26.2 0.6 91.6 0.6 -84.7 0.6 17.7 0.6 19.1 0.6 -28.4 0.6 -13.7 0.6 45.3 0.6 -11.4 0.6 -15 0.6 38.4 0.6 -40.7 0.6 7.3 0.6 18.7 0.6 4.7 0.6 -38.4 0.6 -25.9 0.6 22.6 0.6 38.5 0.6 -58.5 0.6 24.3 0.6 -19.1 0.6 -25.4 0.6 77.4 0.6 -24.4 0.6 13.7 0.6 8.8 0.6 -113.6 0.6 45.9 0.6 101.8 0.6 -79.6 0.6 35.3 0.6 -66 0.6 46 0.6 9.2 0.6 -11 0.6 -10 0.6 15.7 0.6 8 0.6 -1.9 0.6 -24.9 0.6 57.5 0.6 -35 0.6 4 0.6 11.6 0.6 -43.8 0.6 72.7 0.6 -30.7 0.6 16.2 0.6 -46.7 0.6 35.5 0.6 -14.8 0.6 -11.5 0.6 69.9 0.6 -71.4 0.6 39.5 0.6 -15.2 0.6 -3.8 0.6 -33.6 0.6 3.4 0.6 -43.3 0.6 66.2 0.6 19.6 0.6 1 0.6 -38.9 0.6 -40.2 0.6 53.5 0.6 28.1 0.6 -25.3 0.6 0.8 0.6 6.4 0.6 23.5 0.6 53.3 0.6 -60 0.6 -57.2 0.6 35.2 0.6 82 0.6 -76.2 0.6 65.8 0.6 -146.7 0.6 75.5 0.6 43.3 0.6 -69.2 0.6 54.4 0.6 -44.6 0.6 20.8 0.6 37.4 0.6 -62.5 0.6 68.5 0.6 -96.6 0.6 52.6 0.6 33.1 0.6 31.2 0.6 -127.5 0.6 7.2 0.6 98.1 0.6 -105.6 0.6 62.1 0.6 11.2 0.6 -3.5 0.6 5.4 0.6 -64.4 0.6 53.2 0.6 67.7 0.6 -147.9 0.6 50.4 0.6 67.2 0.6 -22.9 0.6 16.6 0.6 -28 0.6 -13.1 0.6 6.3 0.6 25 0.6 6.1 0.6 -56.4 0.6 36.3 0.6 -94.2 0.6 114.8 0.6 -53.9 0.6 29.9 0.6 23.3 0.6 -75.9 0.6 51.5 0.6 29.7 0.6 -16.6 0.6 -47.9 0.6 77.4 0.6 -90.6 0.6 29.5 0.6 33.5 0.6 -59.2 0.6 -15.2 0.6 48.1 0.6 16.5 0.6 -65.9 0.6 15.3 0.6 85 0.6 -21.8 0.6 0.8 0.6 6.2 0.6 39.4 0.6 -81.1 0.6 28.9 0.6 -0.1 0.6 -47.9 0.6 68 0.6 -14.8 0.6 -8.8 0.6 20.4 0.6 -9.2 0.6 -27 0.6 24.5 0.6 -46.9 0.6 70.1 0.6 -28.3 0.6 55.1 0.6 -45.8 0.6 18.3 0.6 -68.9 0.6 25.3 0.6 8.9 0.6 -53 0.6 16.6 0.6 29.7 0.6 42.6 0.6 30 0.6 -49.9 0.6 9.8 0.6 9.6 0.6 -11.2 0.6 45.1 0.6 -105 0.6 90.2 0.6 -17.2 0.6 -36.1 0.6 68.1 0.6 -80.9 0.6 -0.6 0.6 38.4 0.6 26.6 0.6 -21.5 0.6 38 0.6 -99.7 0.6 45.8 0.6 24.3 0.6 6 0.6 -44.5 0.6 -36.8 0.6 95.2 0.6 -26.1 0.6 35.8 0.6 -72.8 0.6 14.9 0.6 -79 0.6 86.2 0.6 8.8 0.6 8.3 0.6 -48.8 0.6 82.4 0.6 -79.5 0.6 16.6 0.6 20.5 0.6 12.1 0.6 -64 0.6 -32.7 0.6 80.9 0.6 -29.2 0.6 -48.8 0.6 81.7 0.6 -10.9 0.6 29.5 0.6 -33.3 0.6 -2.2 0.6 8.7 0.6 8.7 0.6 28.4 0.6 -9.7 0.6 -12.9 0.6 -51.6 0.6 36.9 0.6 9.5 0.6 -48.6 0.6 3.3 0.6 41.5 0.6 -3.8 0.6 -42.4 0.6 11.5 0.6 36.6 0.6 -31.7 0.6 9.9 0.6 -44.1 0.6 67.1 0.6 -57.5 0.6 18 0.6 44.6 0.6 -68 0.6 6.2 0.6 73.4 0.6 -114 0.6 109.5 0.6 -6.6 0.6 -16.4 0.6 -35.5 0.6 8.3 0.6 23.1 0.6 -51.9 0.6 38.6 0.6 -37.8 0.6 -54.5 0.6 101.3 0.6 61.2 0.6 -42.5 0.6 20.5 0.6 -34.3 0.6 0.2 0.6 41.3 0.6 -2.3 0.6 -28.3 0.6 -1.6 0.6 47 0.6 -83.8 0.6 31.1 0.6 1.2 0.6 -8 0.6 39 0.6 -29.9 0.6 -35.9 0.6 -1.7 0.6 23.6 0.6 19.5 0.6 16 0.6 -70.4 0.6 30.3 0.6 26.5 0.6 42.5 0.6 -30.2 0.6 30.2 0.6 -101 0.6 39.5 0.6 24.8 0.6 -13.9 0.6 -106.6 0.6 52.7 0.6 84.2 0.6 -36.8 0.6 31.2 0.6 17.3 0.6 -60.3 0.6 -88.4 0.6 32.5 0.6 58.5 0.6 11.6 0.6 -18.9 0.6 -33 0.6 83.3 0.6 15.4 0.6 -132.3 0.6 62.8 0.6 -51.8 0.6 54 0.6 -48.3 0.6 75.3 0.6 -35.9 0.6 -40.9 0.6 21.5 0.6 52.9 0.6 -46.4 0.6 53.3 0.6 25.3 0.6 -61.2 0.6 -33.5 0.6 22.9 0.6 69.9 0.6 -68.3 0.6 8.8 0.6 36.9 0.6 42.9 0.6 -89.5 0.6 6.2 0.6 16.5 0.6 66.8 0.6 -0.3 0.6 -84.1 0.6 9 0.6 12.7 0.6 20.4 0.6 -17.3 0.6 26.7 0.6 -7 0.6 18.1 0.6 -34.1 0.6 18.9 0.6 -43.5 0.6 8.8 0.6 46.5 0.6 -91.9 0.6 102.2 0.6 -48.4 0.6 -25.9 0.6 -8.7 0.6 97.9 0.6 -88.4 0.6 -9.6 0.6 -9.6 0.6 107.6 0.6 -36.6 0.6 -17.2 0.6 9 0.6 -63.7 0.6 69.1 0.6 -66.6 0.6 25.6 0.6 64.8 0.6 -17.1 0.6 -16.2 0.6 -16.6 0.6 -36.7 0.6 43.8 0.6 -42.2 0.6 83.6 0.6 17 0.6 -56.6 0.6 -29.3 0.6 28.9 0.6 17.7 0.6 -47.3 0.6 -61 0.6 80.9 0.6 17.6 0.6 3.1 0.6 -104.7 0.6 80 0.6 -26.3 0.6 -24.3 0.6 5.7 0.6 71.3 0.6 -66 0.6 4.8 0.6 14.7 0.6 -20.3 0.6 58.3 0.6 -13.8 0.6 13.7 0.6 -45.5 0.6 50.2 0.6 -33.8 0.6 48.3 0.6 -26.9"/><path d="M69.8 188.6l0.6 -13.5 0.6 -49.7 0.6 9.5 0.6 25.7 0.6 -51.2 0.6 54.8 0.6 45.3 0.6 36 0.6 -47.7 0.6 -22.5 0.6 -21.9 0.6 -34.3 0.6 73.2 0.6 8.3 0.6 -67.5 0.6 -20.6 0.6 75.6 0.6 -34.4 0.6 -51.9 0.6 52.3 0.6 18.5 0.6 86.5 0.6 -155.3 0.6 33.9 0.6 25.8 0.6 24.1 0.6 29.9 0.6 -42.4 0.6 0.6 0.6 -59.6 0.6 100.9 0.6 -117.5 0.6 70.2 0.6 -57 0.6 95.7 0.6 -53.4 0.6 -43.2 0.6 55.2 0.6 63.5 0.6 -44.4 0.6 -39.7 0.6 81.1 0.6 2 0.6 -68.5 0.6 47.6 0.6 -70.2 0.6 78.8 0.6 30.2 0.6 -46.3 0.6 -105 0.6 107.3 0.6 -34.3 0.6 -13.3 0.6 49.2 0.6 -93 0.6 44.5 0.6 -14.2 0.6 90 0.6 2.3 0.6 56.7 0.6 -121.3 0.6 1 0.6 -48.4 0.6 -38.9 0.6 85.3 0.6 -0.3 0.6 -36.8 0.6 -54.7 0.6 113.5 0.6 -70.7 0.6 42.4 0.6 3.4 0.6 -58 0.6 78.7 0.6 9.3 0.6 -83 0.6 33.5 0.6 11.2 0.6 -7.1 0.6 -31.9 0.6 42.6 0.6 -56.9 0.6 17.1 0.6 -53.3 0.6 10.5 0.6 20.2 0.6 52.6 0.6 -15.9 0.6 35.5 0.6 -134.9 0.6 117 0.6 -38.2 0.6 -39.3 0.6 129.8 0.6 -20.1 0.6 -20.6 0.6 29.5 0.6 10.4 0.6 -31 0.6 -88.7 0.6 29.4 0.6 35.6 0.6 1.7 0.6 74.1 0.6 -104.3 0.6 15 0.6 71.1 0.6 -56.9 0.6 21.6 0.6 17.8 0.6 19.4 0.6 -9.8 0.6 10.9 0.6 -61.9 0.6 6.5 0.6 3.9 0.6 26.6 0.6 12.4 0.6 -118.9 0.6 180.7 0.6 -135.9 0.6 43 0.6 15.4 0.6 26 0.6 -9.4 0.6 37.1 0.6 9.7 0.6 -48.9 0.6 63.5 0.6 -108.6 0.6 -12.8 0.6 210.2 0.6 -91.2 0.6 -75.8 0.6 3.4 0.6 5.4 0.6 -14.9 0.6 -15.7 0.6 -5.6 0.6 -45.1 0.6 86.6 0.6 -41 0.6 108.9 0.6 -60 0.6 41.2 0.6 -115.9 0.6 -46.1 0.6 87.8 0.6 77.9 0.6 -45.8 0.6 -7 0.6 -8.2 0.6 -43.6 0.6 6.6 0.6 175.7 0.6 -196 0.6 87 0.6 2.2 0.6 -92.1 0.6 81.6 0.6 41.8 0.6 -2.1 0.6 -56.1 0.6 -41.7 0.6 -29.3 0.6 81.1 0.6 12.2 0.6 -100.3 0.6 99.5 0.6 -92.2 0.6 59 0.6 -0.6 0.6 22.5 0.6 -26.3 0.6 36.2 0.6 7.3 0.6 -24.1 0.6 22.5 0.6 -44.7 0.6 10.2 0.6 16.5 0.6 -3.4 0.6 1 0.6 -95.6 0.6 84.4 0.6 28.1 0.6 -14.6 0.6 -46.6 0.6 41.7 0.6 -2.5 0.6 5 0.6 -20.3 0.6 -10.9 0.6 -2.5 0.6 89.8 0.6 -21.7 0.6 71.9 0.6 -156.6 0.6 -14.6 0.6 -9 0.6 56 0.6 -48.1 0.6 57.4 0.6 4.3 0.6 58.9 0.6 -27.9 0.6 -7.3 0.6 -72.3 0.6 -35.2 0.6 102.7 0.6 -40 0.6 5.2 0.6 49.3 0.6 36.7 0.6 -36.4 0.6 25.8 0.6 -43.9 0.6 -7.6 0.6 2.6 0.6 0.3 0.6 -30.4 0.6 64 0.6 -81.6 0.6 112 0.6 -70.7 0.6 -14.7 0.6 53.7 0.6 31.6 0.6 -94.4 0.6 61 0.6 -65.9 0.6 1.6 0.6 38 0.6 0.8 0.6 -46.1 0.6 30.2 0.6 56.4 0.6 -44.2 0.6 -17.2 0.6 17.9 0.6 1.9 0.6 17.3 0.6 0 0.6 31.6 0.6 21.3 0.6 -107.6 0.6 78.9 0.6 -33.1 0.6 70.4 0.6 -64.4 0.6 38.9 0.6 -168.5 0.6 178.6 0.6 -0.8 0.6 -77.4 0.6 -7.5 0.6 148.1 0.6 -103.2 0.6 -27.7 0.6 87.7 0.6 -75.2 0.6 49.2 0.6 20.4 0.6 -24.3 0.6 5.4 0.6 42.4 0.6 -156.4 0.6 117.6 0.6 12.9 0.6 -61.1 0.6 37.8 0.6 -57.4 0.6 66.6 0.6 -20.5 0.6 9.7 0.6 -1.6 0.6 14.3 0.6 -2.9 0.6 -73 0.6 97.6 0.6 -5 0.6 -7.5 0.6 -31.6 0.6 6.1 0.6 -20.5 0.6 95.6 0.6 -69.2 0.6 15.6 0.6 4.3 0.6 -16.2 0.6 84.6 0.6 -88.4 0.6 4.2 0.6 68.5 0.6 -60.6 0.6 -67.6 0.6 77.5 0.6 -34.4 0.6 27.5 0.6 22.3 0.6 4 0.6 -21.7 0.6 -68.5 0.6 21.6 0.6 56.7 0.6 -66.8 0.6 44.7 0.6 19.3 0.6 -40.5 0.6 47.5 0.6 28.9 0.6 -119.1 0.6 130.3 0.6 -97.6 0.6 79.4 0.6 -56.8 0.6 4.8 0.6 7 0.6 74.9 0.6 -87.1 0.6 -3.3 0.6 27.7 0.6 -28.6 0.6 -49.7 0.6 69.7 0.6 -38.1 0.6 51.6 0.6 -59.2 0.6 -12.7 0.6 -84.7 0.6 71 0.6 20.8 0.6 -45.1 0.6 100.3 0.6 -86.2 0.6 71 0.6 2 0.6 -75.4 0.6 38.7 0.6 -49.8 0.6 113.2 0.6 -65.9 0.6 35.4 0.6 -11.1 0.6 59 0.6 -113.5 0.6 32.9 0.6 47.4 0.6 12.1 0.6 -15.5 0.6 -96.6 0.6 67.8 0.6 10.9 0.6 -36.8 0.6 22.2 0.6 -9.3 0.6 -22.4 0.6 19.2 0.6 -23.7 0.6 83.3 0.6 -45.1 0.6 19.6 0.6 -19.6 0.6 7.5 0.6 23.3 0.6 -7.9 0.6 -56.3 0.6 63.9 0.6 23.3 0.6 -68.3 0.6 -15.7 0.6 55.3 0.6 -15.5 0.6 34.7 0.6 -18.8 0.6 -55.9 0.6 14.6 0.6 30.1 0.6 16.5 0.6 48.5 0.6 -69.1 0.6 -5.2 0.6 -25.2 0.6 -41.3 0.6 73.5 0.6 -24.5 0.6 77.8 0.6 -86.5 0.6 15.9 0.6 -20.8 0.6 31.3 0.6 10.7 0.6 -44.1 0.6 82.9 0.6 -44.7 0.6 -18.5 0.6 69 0.6 14.3 0.6 -53 0.6 11.3 0.6 -18 0.6 -1.2 0.6 48.2 0.6 -34.1 0.6 -34.1 0.6 55.3 0.6 -1.9 0.6 29.5 0.6 -68.3 0.6 -49 0.6 127.8 0.6 -75.9 0.6 -6.1 0.6 51.6 0.6 -6 0.6 23.1 0.6 -9.7 0.6 -29.3 0.6 -19 0.6 20.4 0.6 -29.3 0.6 26.7 0.6 44.2 0.6 -96.9 0.6 11.5 0.6 68.7 0.6 -94.2 0.6 55.9 0.6 12.8 0.6 -75.3 0.6 146 0.6 -11.6 0.6 -82.9 0.6 34.3 0.6 21.9 0.6 -91 0.6 43.6 0.6 59 0.6 -21.6 0.6 -53.2 0.6 -40.3 0.6 141.8 0.6 -76.5 0.6 19.3 0.6 49.3 0.6 -55.6 0.6 49 0.6 -38.1 0.6 -82.1 0.6 47 0.6 -11.1 0.6 7.9 0.6 10.6 0.6 -25.9 0.6 75.5 0.6 -25.8 0.6 -43.5 0.6 55.2 0.6 -8.6 0.6 -60.3 0.6 -13.4 0.6 79.7 0.6 7 0.6 -45.4 0.6 13.7 0.6 28.1 0.6 -40.9 0.6 2.3 0.6 17.5 0.6 -116.6 0.6 66.8 0.6 23.4 0.6 -8.3 0.6 -80.6 0.6 78.6 0.6 63.1 0.6 -30.3 0.6 7.2 0.6 19.3 0.6 -23.8 0.6 0.5 0.6 8.8 0.6 13.2 0.6 -42.8 0.6 86.2 0.6 -85.3 0.6 28.2 0.6 -7.1 0.6 64.6 0.6 -119.8 0.6 119.8 0.6 -28.6 0.6 -47.1 0.6 38.7 0.6 -6.1 0.6 43.1 0.6 -41.6 0.6 -18.7 0.6 -14.5 0.6 29.6 0.6 -14.4 0.6 -5.7 0.6 33.5 0.6 3 0.6 -96.5 0.6 100.7 0.6 -70.2 0.6 40.9 0.6 -50.4 0.6 72.6 0.6 -34.3 0.6 5.1 0.6 15.8 0.6 -15.4 0.6 32.8 0.6 -22.2 0.6 9.3 0.6 -36 0.6 26.2 0.6 45.6 0.6 -38 0.6 -8.5 0.6 25.1 0.6 -76.8 0.6 36.8 0.6 -18.2 0.6 51.2 0.6 -12 0.6 -47.7 0.6 83.1 0.6 -58.2 0.6 7.6 0.6 16.2 0.6 -16.9 0.6 34.8 0.6 -38.9 0.6 43.2 0.6 1.9 0.6 -93.3 0.6 73.1 0.6 40.3 0.6 -97 0.6 58.4 0.6 38.6 0.6 -59.2 0.6 -36.4 0.6 23.1 0.6 -55.1 0.6 70.1 0.6 -25.1 0.6 51 0.6 -33.6 0.6 -54.9 0.6 41.2 0.6 13.7 0.6 65.2 0.6 -50.5 0.6 28.7 0.6 -67.7 0.6 49.7 0.6 -32.8 0.6 41.4 0.6 -101.8 0.6 107.9 0.6 -38.2 0.6 -98.4 0.6 96.3 0.6 31.1 0.6 -46.5 0.6 -14.7 0.6 5 0.6 90.5 0.6 -64.1 0.6 64.1 0.6 -130.4 0.6 70.6 0.6 14.5 0.6 -36.2 0.6 7.4 0.6 51.9 0.6 -96.6 0.6 67.9 0.6 50.9 0.6 -109.6 0.6 -5.2 0.6 11 0.6 28 0.6 44.2 0.6 -59.5 0.6 -36.3 0.6 41.3 0.6 -31.1 0.6 82.1 0.6 -59.1 0.6 3.2 0.6 81 0.6 5.5 0.6 -32.8 0.6 -22.5 0.6 -13.4 0.6 21 0.6 -4.6 0.6 0.9 0.6 -5.6 0.6 -19.5 0.6 2.9 0.6 19.1 0.6 -11 0.6 20.8 0.6 -43.3 0.6 43.9 0.6 -78.6 0.6 65.1 0.6 -11.9 0.6 31.2 0.6 -11.7 0.6 -16.3 0.6 5.5 0.6 17.7 0.6 16 0.6 -35.1 0.6 -4.5 0.6 -15.7 0.6 -27.7 0.6 58.5 0.6 56.1 0.6 -60.3 0.6 54.7 0.6 -21 0.6 -77.8 0.6 18.8 0.6 40.2 0.6 0.1 0.6 -14.4 0.6 53.9 0.6 -73.6 0.6 27.9 0.6 -80.6 0.6 102.8 0.6 -68.1 0.6 57.4 0.6 -56.5 0.6 67.1 0.6 -54.1 0.6 38.8 0.6 12.3 0.6 -19.1 0.6 -18.3 0.6 3.8 0.6 -45.8 0.6 31.1 0.6 80.7 0.6 -40.5 0.6 40.5 0.6 -39.6 0.6 -28.9 0.6 64.3 0.6 -5.8 0.6 -42.5 0.6 12.6 0.6 -63.6 0.6 47.3 0.6 -5.3 0.6 -47.3 0.6 77.3 0.6 -14.8 0.6 32.9 0.6 -39.7 0.6 -25.9 0.6 -13.2 0.6 47.4 0.6 21.4 0.6 1.9 0.6 21.5 0.6 -49.4 0.6 -42.9 0.6 92.3 0.6 0 0.6 -94.8 0.6 94.8 0.6 -56.3 0.6 51.9 0.6 -67.4 0.6 -0.6 0.6 19 0.6 -22.1 0.6 24.3 0.6 -15.5 0.6 -51.2 0.6 28 0.6 56.8"/><path d="M69.8 177l0.6 -23.6 0.6 -22.6 0.6 29.4 0.6 48 0.6 -26.4 0.6 -58 0.6 -15.5 0.6 99.9 0.6 -38.2 0.6 50.8 0.6 -42.8 0.6 -142 0.6 112.8 0.6 20.5 0.6 9.5 0.6 22.4 0.6 27.6 0.6 -76.6 0.6 11.2 0.6 -89.7 0.6 142.4 0.6 -91.4 0.6 -47 0.6 150.3 0.6 -117.9 0.6 100.6 0.6 -96.2 0.6 -49.6 0.6 73.7 0.6 -16.1 0.6 48.5 0.6 -51.1 0.6 -44 0.6 65.5 0.6 -3.3 0.6 -28 0.6 -22.9 0.6 114.3 0.6 -77.3 0.6 37.1 0.6 -60.5 0.6 -27.9 0.6 36.3 0.6 -50 0.6 115.5 0.6 -29.7 0.6 29.4 0.6 -53.2 0.6 -1.7 0.6 15.1 0.6 50.2 0.6 -55.6 0.6 18.9 0.6 -52.3 0.6 45.1 0.6 -71.9 0.6 48.1 0.6 95.7 0.6 -73.2 0.6 58.5 0.6 -114.3 0.6 -22.6 0.6 75.2 0.6 -22.6 0.6 89.3 0.6 35 0.6 -69.8 0.6 -13.8 0.6 55.6 0.6 -70.2 0.6 -9.7 0.6 -15.1 0.6 -44.4 0.6 39.2 0.6 61.4 0.6 -22.2 0.6 -23.4 0.6 78.4 0.6 -111.7 0.6 23.4 0.6 59 0.6 19.9 0.6 -158.7 0.6 89.9 0.6 -3.3 0.6 -41.9 0.6 43.2 0.6 40.7 0.6 -23.5 0.6 74.2 0.6 -71.7 0.6 101.7 0.6 -84 0.6 -5.4 0.6 94.7 0.6 -161.1 0.6 144.1 0.6 -97.2 0.6 73.9 0.6 -34.3 0.6 41.2 0.6 -149.6 0.6 75.2 0.6 -38.5 0.6 53 0.6 5.2 0.6 28.4 0.6 15.5 0.6 -37.5 0.6 23.2 0.6 12.4 0.6 52.4 0.6 -46.1 0.6 -40 0.6 46.6 0.6 -33.3 0.6 21.3 0.6 35.6 0.6 -5.6 0.6 -6.9 0.6 -17.5 0.6 -1.1 0.6 -65.2 0.6 98.3 0.6 52.9 0.6 -130 0.6 50.7 0.6 -12.5 0.6 -133.1 0.6 54.4 0.6 43.8 0.6 -18.4 0.6 41.3 0.6 -42.8 0.6 71.4 0.6 3.6 0.6 -9.7 0.6 -98.9 0.6 0.4 0.6 102.2 0.6 -83.9 0.6 65.5 0.6 -62.9 0.6 68.5 0.6 -64.3 0.6 52.8 0.6 8 0.6 -14.1 0.6 -9.8 0.6 33.9 0.6 30.1 0.6 -143 0.6 104.2 0.6 57.9 0.6 24 0.6 35 0.6 -109 0.6 -97.7 0.6 137.6 0.6 -53.8 0.6 63.1 0.6 -134.6 0.6 37 0.6 2.1 0.6 -51.3 0.6 -14.7 0.6 30.9 0.6 80.6 0.6 28.3 0.6 -10.7 0.6 29.6 0.6 -165.2 0.6 100.1 0.6 -15.5 0.6 -2.9 0.6 -90.5 0.6 129.5 0.6 -86.6 0.6 44.5 0.6 23.3 0.6 76.4 0.6 -128.5 0.6 80.6 0.6 -10.5 0.6 -33.4 0.6 7.1 0.6 -50.5 0.6 87.4 0.6 -38.3 0.6 -5 0.6 13.2 0.6 -31.8 0.6 47.3 0.6 -71.8 0.6 92.1 0.6 29.7 0.6 -57.6 0.6 -60 0.6 83.2 0.6 4.6 0.6 -9.9 0.6 -24.7 0.6 17.6 0.6 -23.5 0.6 89.2 0.6 -146.9 0.6 45.9 0.6 65.3 0.6 -103.3 0.6 46.1 0.6 -50.2 0.6 121.6 0.6 -130.1 0.6 80.1 0.6 94.2 0.6 -128.8 0.6 52.3 0.6 27 0.6 -31 0.6 74.4 0.6 -113.6 0.6 39.5 0.6 2.8 0.6 -83 0.6 68.2 0.6 30.4 0.6 11.1 0.6 -36.2 0.6 -55.3 0.6 78.4 0.6 17.2 0.6 -87.9 0.6 42.7 0.6 4.4 0.6 -103.4 0.6 152.5 0.6 -59.1 0.6 85 0.6 -59.6 0.6 -43.2 0.6 -25.9 0.6 107.3 0.6 -92.4 0.6 3 0.6 44.7 0.6 -126.2 0.6 120.8 0.6 36.6 0.6 -56.7 0.6 99.6 0.6 -154.4 0.6 28.2 0.6 67.6 0.6 -48.7 0.6 4.1 0.6 -67.9 0.6 121.2 0.6 25.7 0.6 35.3 0.6 -72.2 0.6 49.7 0.6 -54.8 0.6 -27.9 0.6 40.8 0.6 18.4 0.6 -95.5 0.6 68.3 0.6 -20.4 0.6 -34.3 0.6 98.5 0.6 -14.5 0.6 -157.4 0.6 129.4 0.6 33.8 0.6 -28.2 0.6 12 0.6 24.6 0.6 -29.6 0.6 -17 0.6 0 0.6 -26.5 0.6 96.5 0.6 -10.8 0.6 -97.1 0.6 57.8 0.6 -78 0.6 44.3 0.6 70.2 0.6 -81 0.6 65.7 0.6 -52 0.6 -46.6 0.6 -42.3 0.6 105.2 0.6 -36.8 0.6 19.3 0.6 -23.3 0.6 153.2 0.6 -96.6 0.6 -31.8 0.6 -8.2 0.6 53.3 0.6 -69.6 0.6 -12.8 0.6 50.2 0.6 14.9 0.6 6.4 0.6 -22.5 0.6 -48.9 0.6 -14.3 0.6 92.3 0.6 16.6 0.6 -4 0.6 -76 0.6 37.7 0.6 -2.4 0.6 -7.4 0.6 6.3 0.6 25 0.6 33 0.6 -14.4 0.6 -26.1 0.6 -11.5 0.6 32.2 0.6 2.5 0.6 -77 0.6 80.6 0.6 -23.8 0.6 20.6 0.6 20.4 0.6 30.5 0.6 -40.4 0.6 11.6 0.6 -64.6 0.6 80.7 0.6 -28.2 0.6 -39.3 0.6 31.1 0.6 -20.7 0.6 -14.6 0.6 107.1 0.6 -56.8 0.6 23.7 0.6 -91.8 0.6 61.2 0.6 -19 0.6 -53.6 0.6 85 0.6 -14.2 0.6 -9.9 0.6 24.5 0.6 -57 0.6 21.7 0.6 -7.3 0.6 35.1 0.6 15.6 0.6 1.4 0.6 1.2 0.6 43.2 0.6 -68.6 0.6 -14 0.6 27.8 0.6 19.7 0.6 -21 0.6 -6.4 0.6 -3.4 0.6 -59.7 0.6 107.2 0.6 -49 0.6 -10.6 0.6 19.8 0.6 11 0.6 34.7 0.6 -21.3 0.6 -46.4 0.6 -33.8 0.6 80.4 0.6 -41.1 0.6 -2.2 0.6 -20.8 0.6 27.9 0.6 -6.9 0.6 -19.5 0.6 77 0.6 -47.8 0.6 67 0.6 0 0.6 -40.3 0.6 30.6 0.6 -80 0.6 -23.9 0.6 49.5 0.6 -6.5 0.6 1.6 0.6 -0.5 0.6 -15 0.6 -11.7 0.6 29 0.6 9 0.6 -9.7 0.6 -56.3 0.6 50.8 0.6 -83.6 0.6 74.5 0.6 -74.2 0.6 102.8 0.6 -16.8 0.6 -50.8 0.6 -2 0.6 27.5 0.6 -99.8 0.6 86.9 0.6 -10.9 0.6 37.4 0.6 -100.6 0.6 35 0.6 19.1 0.6 79.2 0.6 -78.1 0.6 36.6 0.6 -38.6 0.6 -23.4 0.6 74 0.6 -42.9 0.6 -29.1 0.6 32.2 0.6 22.3 0.6 29.5 0.6 -13.1 0.6 20.4 0.6 -92.2 0.6 40.1 0.6 52.5 0.6 -45.6 0.6 49.3 0.6 55.8 0.6 -155.4 0.6 2.8 0.6 105.9 0.6 -22.2 0.6 -37.5 0.6 27.1 0.6 16.9 0.6 -9.1 0.6 -10.3 0.6 13.1 0.6 -30.3 0.6 20.7 0.6 18.3 0.6 -26.9 0.6 59 0.6 -118.4 0.6 123.9 0.6 -54.5 0.6 -17 0.6 -1.9 0.6 8 0.6 -42.3 0.6 91.3 0.6 -31.5 0.6 -7.7 0.6 21.6 0.6 3.7 0.6 -71.3 0.6 76.6 0.6 -6.5 0.6 -5.3 0.6 -1.2 0.6 -10.1 0.6 11.1 0.6 -18.4 0.6 9.7 0.6 -12.8 0.6 -37.5 0.6 81.8 0.6 -92.6 0.6 80.4 0.6 -37.1 0.6 19.9 0.6 13.4 0.6 52.6 0.6 -125.2 0.6 87.6 0.6 1 0.6 -65.1 0.6 38.6 0.6 -74.6 0.6 9.1 0.6 41.1 0.6 18.7 0.6 -21.7 0.6 71.6 0.6 -48.4 0.6 0.4 0.6 17.5 0.6 -21.7 0.6 55.9 0.6 -84.1 0.6 -16.6 0.6 92.7 0.6 -45.4 0.6 -59.2 0.6 47 0.6 46.6 0.6 -1.7 0.6 -64 0.6 -41.2 0.6 108 0.6 -33.7 0.6 23.3 0.6 -14.4 0.6 -19.7 0.6 13.1 0.6 18.5 0.6 -105.7 0.6 90.9 0.6 0.8 0.6 -49.4 0.6 44.6 0.6 6.2 0.6 -42.7 0.6 68.7 0.6 -59.4 0.6 -11.1 0.6 15.8 0.6 30.2 0.6 -4.3 0.6 58.8 0.6 -54.6 0.6 -12 0.6 -23.2 0.6 28.8 0.6 15.1 0.6 14.3 0.6 -23.2 0.6 -4.6 0.6 -41.3 0.6 45.4 0.6 14.9 0.6 -11.1 0.6 11.2 0.6 -7 0.6 49.9 0.6 -0.9 0.6 -16.6 0.6 -52 0.6 16.2 0.6 -6.1 0.6 -37.9 0.6 74.5 0.6 -73.6 0.6 30.6 0.6 31.5 0.6 -76.3 0.6 102.2 0.6 -12.2 0.6 -29.6 0.6 -17.9 0.6 17 0.6 51.1 0.6 -48.8 0.6 -6.2 0.6 -101.2 0.6 46.4 0.6 48.1 0.6 35.3 0.6 -43.9 0.6 45.4 0.6 -41.1 0.6 -7.1 0.6 23.1 0.6 -19.7 0.6 16.9 0.6 6.3 0.6 -76.1 0.6 37.3 0.6 30.4 0.6 12.4 0.6 -28.2 0.6 -15.8 0.6 -11.6 0.6 -24.8 0.6 39.9 0.6 49.9 0.6 -112 0.6 34.3 0.6 13.2 0.6 -19.8 0.6 97.4 0.6 -33.8 0.6 4.1 0.6 -60.1 0.6 80.9 0.6 -24.7 0.6 -67.3 0.6 35 0.6 35.3 0.6 -82.6 0.6 112.9 0.6 -55.2 0.6 22.5 0.6 -23.5 0.6 25.6 0.6 16.6 0.6 -28.8 0.6 46.1 0.6 -57.7 0.6 26.6 0.6 -41.4 0.6 45.4 0.6 6.7 0.6 -31 0.6 -32.9 0.6 101.3 0.6 -59.3 0.6 -18.3 0.6 65.7 0.6 -19.6 0.6 -47.7 0.6 45.3 0.6 -6.1 0.6 -83 0.6 91.5 0.6 -3 0.6 34.5 0.6 -28.1 0.6 4.1 0.6 -102.8 0.6 18.9 0.6 83.2 0.6 -114.1 0.6 46.5 0.6 34.3 0.6 -37.1 0.6 16.2 0.6 35.4 0.6 32.8 0.6 -29.5 0.6 -25.9 0.6 9.9 0.6 10 0.6 -60 0.6 68.8 0.6 -66.3 0.6 49.4 0.6 -19.1 0.6 36.9 0.6 -32.5 0.6 22.5 0.6 31 0.6 -53.2 0.6 1.3 0.6 -34.7 0.6 21.6 0.6 40.9 0.6 -11.2 0.6 50.8 0.6 -35.8 0.6 -83.3 0.6 -8.1 0.6 30.2 0.6 18.7 0.6 -10.6 0.6 4.6 0.6 73.3 0.6 -28.9 0.6 -70.1 0.6 0.8 0.6 37.7 0.6 17.7 0.6 2.5 0.6 4.8 0.6 11.7 0.6 34.8 0.6 -64 0.6 16.8 0.6 -6.1 0.6 -70.7 0.6 44.8 0.6 40.7 0.6 -39.3 0.6 67.9 0.6 -85.8 0.6 31.4 0.6 12.7 0.6 -24.4 0.6 -34.9 0.6 67 0.6 16.1 0.6 -109.1 0.6 79.8"/><path d="M69.8 70.8l0.6 111.4 0.6 -45.8 0.6 98.7 0.6 -19.8 0.6 -32.6 0.6 -8.8 0.6 45.6 0.6 -32.2 0.6 -49.8 0.6 51 0.6 -10.8 0.6 26.8 0.6 -103.2 0.6 -20.7 0.6 79.4 0.6 14.9 0.6 -90.4 0.6 59.5 0.6 49.2 0.6 26.7 0.6 -30.8 0.6 -136.2 0.6 134.9 0.6 -151.8 0.6 125 0.6 9.5 0.6 -79.6 0.6 78.5 0.6 -33.1 0.6 61.7 0.6 6.9 0.6 -19.7 0.6 -46.5 0.6 42.2 0.6 50.7 0.6 -109.8 0.6 31.3 0.6 4.6 0.6 15.7 0.6 66.6 0.6 -180.9 0.6 104.3 0.6 -52.2 0.6 -44.8 0.6 12.7 0.6 46.5 0.6 9.3 0.6 -15.5 0.6 -30.9 0.6 16.5 0.6 52.2 0.6 -45.6 0.6 3.8 0.6 -15.8 0.6 25.3 0.6 -58.7 0.6 60.1 0.6 -34.2 0.6 43.8 0.6 32.4 0.6 18.4 0.6 -37.5 0.6 -34.3 0.6 -36.1 0.6 70.3 0.6 23.2 0.6 0.9 0.6 -90.1 0.6 61.7 0.6 32.5 0.6 -61.6 0.6 96.5 0.6 -61.5 0.6 9.8 0.6 6.4 0.6 44.2 0.6 -97.6 0.6 -33.9 0.6 142.6 0.6 -59.7 0.6 -25 0.6 -80.3 0.6 135.8 0.6 21.2 0.6 -36.7 0.6 -101 0.6 100.5 0.6 -8.3 0.6 -75.4 0.6 190.4 0.6 3.7 0.6 -146.1 0.6 7.9 0.6 96.8 0.6 -81.8 0.6 25.1 0.6 -8.2 0.6 41.8 0.6 -13.3 0.6 17.3 0.6 -35.1 0.6 10.7 0.6 -92.9 0.6 53.9 0.6 98.6 0.6 -87.4 0.6 -51.5 0.6 58.5 0.6 -40.7 0.6 55.9 0.6 -36.5 0.6 71.3 0.6 -75.4 0.6 96 0.6 -121.6 0.6 128.6 0.6 36.3 0.6 -126 0.6 33.4 0.6 -12 0.6 -15.7 0.6 23.1 0.6 32.9 0.6 -44.1 0.6 -6.5 0.6 -7 0.6 -75 0.6 128.3 0.6 -30.5 0.6 -24.3 0.6 45 0.6 31.8 0.6 -26.1 0.6 -73.6 0.6 63.6 0.6 -39.2 0.6 58.4 0.6 -48.4 0.6 47.5 0.6 7.7 0.6 -35.7 0.6 2.9 0.6 -69.3 0.6 145.3 0.6 -94.7 0.6 -54.3 0.6 13.7 0.6 80.7 0.6 13.1 0.6 -6.7 0.6 -29.2 0.6 5.3 0.6 -5.4 0.6 -11.3 0.6 71.8 0.6 4.2 0.6 6.5 0.6 7.7 0.6 -56.6 0.6 -14.3 0.6 -108.5 0.6 101 0.6 20.6 0.6 -63.1 0.6 95.9 0.6 -42.6 0.6 -28.8 0.6 9.9 0.6 18 0.6 29.2 0.6 44.4 0.6 -51.7 0.6 18.8 0.6 -52 0.6 32.8 0.6 -26.6 0.6 101.6 0.6 -122.7 0.6 78 0.6 39.5 0.6 -12.5 0.6 -39.1 0.6 -76.5 0.6 19.4 0.6 80.6 0.6 -54.5 0.6 6.3 0.6 66.7 0.6 -31.9 0.6 59.8 0.6 -67.3 0.6 91.7 0.6 -96.8 0.6 5.2 0.6 -6.8 0.6 0.3 0.6 -89 0.6 69.1 0.6 -25.6 0.6 -26.3 0.6 -8 0.6 10.2 0.6 54.7 0.6 21.1 0.6 -13.4 0.6 -11.8 0.6 -20.1 0.6 4.1 0.6 -58.5 0.6 58.9 0.6 -93.4 0.6 37.6 0.6 71.4 0.6 -62.7 0.6 179.8 0.6 -204.5 0.6 47.9 0.6 1.3 0.6 91.2 0.6 -194 0.6 136.3 0.6 -3.9 0.6 -61.3 0.6 65.2 0.6 25.2 0.6 -64.5 0.6 72.9 0.6 -74.7 0.6 30.7 0.6 -47.2 0.6 103.7 0.6 -107.1 0.6 47.6 0.6 -80.9 0.6 121.1 0.6 -113.1 0.6 57.4 0.6 -3.1 0.6 65.4 0.6 -52 0.6 -4.4 0.6 63.3 0.6 15.2 0.6 -16 0.6 -97.2 0.6 64.1 0.6 -37 0.6 32.2 0.6 8.1 0.6 -3.5 0.6 23.5 0.6 -70.8 0.6 50.8 0.6 -1.5 0.6 66.1 0.6 -69.2 0.6 37.4 0.6 -6.6 0.6 -65 0.6 90.4 0.6 -35.7 0.6 -34.2 0.6 -25.1 0.6 71.6 0.6 -31.1 0.6 1.8 0.6 55.2 0.6 58 0.6 -14 0.6 -114.1 0.6 23 0.6 57.4 0.6 -30.5 0.6 -8.8 0.6 -1.3 0.6 -11.2 0.6 -104.5 0.6 132.7 0.6 -33 0.6 33.4 0.6 -5.1 0.6 10.6 0.6 -24 0.6 12.2 0.6 -32.9 0.6 7.2 0.6 41 0.6 -121.1 0.6 134.8 0.6 -58.3 0.6 -85.9 0.6 126.7 0.6 -84.7 0.6 -3.6 0.6 52.4 0.6 96.8 0.6 -146.9 0.6 60.6 0.6 23.3 0.6 -75.2 0.6 83.1 0.6 -72.2 0.6 65.8 0.6 -40.1 0.6 62.5 0.6 -27.8 0.6 20.5 0.6 -8.6 0.6 -32.1 0.6 11.8 0.6 -12.2 0.6 -51.3 0.6 60.7 0.6 76.2 0.6 -71.1 0.6 -12.8 0.6 -44 0.6 -1.7 0.6 2.9 0.6 50.4 0.6 -38.2 0.6 82.9 0.6 -115.8 0.6 39.3 0.6 -4.5 0.6 36.6 0.6 -17.8 0.6 25.8 0.6 -52.3 0.6 74.7 0.6 -96.1 0.6 19 0.6 -70.7 0.6 96 0.6 1.6 0.6 -14.4 0.6 6.5 0.6 5.9 0.6 36.8 0.6 -0.4 0.6 -18.2 0.6 -12.3 0.6 32.1 0.6 -1.2 0.6 -32.5 0.6 -48.2 0.6 43.5 0.6 -40.6 0.6 -13.7 0.6 9.7 0.6 55.8 0.6 -0.5 0.6 53.7 0.6 -41.8 0.6 -51 0.6 65.1 0.6 -104.9 0.6 -2.9 0.6 84.9 0.6 -59 0.6 97.2 0.6 -12.2 0.6 -21.2 0.6 -16.4 0.6 10.5 0.6 25 0.6 -121.5 0.6 79.2 0.6 2 0.6 -16.4 0.6 25.3 0.6 18.8 0.6 11.7 0.6 43.3 0.6 -127 0.6 100.6 0.6 33.5 0.6 -34.5 0.6 35.4 0.6 -148.3 0.6 76.9 0.6 -46.2 0.6 -0.2 0.6 42.5 0.6 1.6 0.6 47 0.6 -21.2 0.6 19.3 0.6 -21.2 0.6 27.2 0.6 -73.9 0.6 24.3 0.6 31.1 0.6 57.9 0.6 -82.1 0.6 -8.1 0.6 34 0.6 50.9 0.6 -65.6 0.6 -23.5 0.6 94.4 0.6 -73.3 0.6 73.3 0.6 -56.9 0.6 -65.5 0.6 66.1 0.6 -11.9 0.6 27.3 0.6 -10.8 0.6 -95.1 0.6 46.5 0.6 60.6 0.6 2.8 0.6 -14.2 0.6 -87 0.6 80.9 0.6 -31.8 0.6 51.8 0.6 37.2 0.6 -98.8 0.6 50.9 0.6 27.1 0.6 -4.3 0.6 -1.3 0.6 -3 0.6 29.4 0.6 -95.7 0.6 31.4 0.6 -22.3 0.6 45 0.6 -22.8 0.6 5 0.6 -39 0.6 15.3 0.6 16.3 0.6 32.2 0.6 22.2 0.6 -18.1 0.6 -7.1 0.6 -4.1 0.6 26.9 0.6 -113.4 0.6 59.3 0.6 68.9 0.6 -24.6 0.6 9.8 0.6 -55.3 0.6 -36.4 0.6 74.9 0.6 -56.4 0.6 31.5 0.6 -56 0.6 -9.9 0.6 46.2 0.6 -18.2 0.6 28.6 0.6 10.9 0.6 27.1 0.6 -49.9 0.6 13.7 0.6 9.5 0.6 -9 0.6 3.3 0.6 28.2 0.6 -17.2 0.6 -62.4 0.6 54 0.6 -64 0.6 96.2 0.6 8.9 0.6 -49.8 0.6 -25.3 0.6 50.5 0.6 -42.1 0.6 -12.4 0.6 -5.1 0.6 45.2 0.6 -1 0.6 56.5 0.6 -57.2 0.6 -6.7 0.6 -44.7 0.6 101.4 0.6 -17.2 0.6 7.4 0.6 -64.7 0.6 81.7 0.6 -10.1 0.6 -118.4 0.6 60.8 0.6 67.7 0.6 -45.2 0.6 -27 0.6 10 0.6 24.3 0.6 22.2 0.6 -53 0.6 25.2 0.6 -23.8 0.6 12.1 0.6 28.7 0.6 -66 0.6 67.5 0.6 -30.7 0.6 35.7 0.6 -15.2 0.6 0.4 0.6 14.9 0.6 -31.3 0.6 -37.9 0.6 -24 0.6 17.1 0.6 55.2 0.6 -58.1 0.6 38.9 0.6 -55.6 0.6 112.6 0.6 -101.9 0.6 72.4 0.6 -61.6 0.6 54.7 0.6 -47.5 0.6 39.3 0.6 47.6 0.6 -27.6 0.6 -24.8 0.6 -8.7 0.6 61.1 0.6 -25.5 0.6 -17.2 0.6 -16.4 0.6 -16 0.6 31.4 0.6 22.6 0.6 -62.1 0.6 22.3 0.6 -49.4 0.6 53 0.6 -45.4 0.6 54.2 0.6 -40.7 0.6 6.4 0.6 -15.7 0.6 48.8 0.6 -26.5 0.6 23.3 0.6 -22.4 0.6 -32.5 0.6 -97.4 0.6 121.7 0.6 -27.8 0.6 25.2 0.6 -41.5 0.6 28.3 0.6 -23.2 0.6 29.3 0.6 -82.8 0.6 43.1 0.6 112.4 0.6 -65.6 0.6 10.5 0.6 75.6 0.6 -43.7 0.6 -10.3 0.6 9 0.6 -24.4 0.6 65.5 0.6 -86.8 0.6 0.8 0.6 19.1 0.6 22.2 0.6 -7.9 0.6 14.7 0.6 -53.3 0.6 27.8 0.6 -58.2 0.6 86.4 0.6 -60.8 0.6 70.3 0.6 -11.5 0.6 31.9 0.6 -49.2 0.6 17.3 0.6 -18 0.6 -31.7 0.6 52.4 0.6 -11.8 0.6 -13.6 0.6 27.8 0.6 17.3 0.6 -28.6 0.6 -3.6 0.6 -7.2 0.6 -1.2 0.6 47.6 0.6 -36.8 0.6 -24.5 0.6 53.4 0.6 -26.8 0.6 32.3 0.6 -27.1 0.6 -53.5 0.6 52.5 0.6 40.3 0.6 -46.3 0.6 3.1 0.6 -28.6 0.6 73.7 0.6 -9.1 0.6 -30.5 0.6 39.6 0.6 -80.4 0.6 80.4 0.6 -18.8 0.6 18.8 0.6 -27.6 0.6 -46.4 0.6 6.6 0.6 -14.5 0.6 11.5 0.6 70.4 0.6 -61.9 0.6 61.9 0.6 -41.7 0.6 -4.2 0.6 3.4 0.6 -33.3 0.6 39.5 0.6 -91.5 0.6 44.4 0.6 -24.3 0.6 16.1 0.6 -6.2 0.6 36.1 0.6 -80.5 0.6 108.2 0.6 -49.2 0.6 17.9 0.6 6.5 0.6 -19.9 0.6 33.9 0.6 -56.5 0.6 3.2 0.6 27.5 0.6 -25.7 0.6 59.7 0.6 27.6 0.6 -40.9 0.6 -9.2 0.6 -107.4 0.6 107.2 0.6 -48.4 0.6 7.6 0.6 -50.5 0.6 80.1 0.6 -21.3 0.6 32.4 0.6 19 0.6 4.6 0.6 -6.4 0.6 -78.5 0.6 46.4 0.6 15.8 0.6 -4.1 0.6 16.2 0.6 -13.9 0.6 0.6 0.6 -25.3 0.6 -9.6 0.6 88.1 0.6 -59.4 0.6 -45 0.6 83.2 0.6 -22.8 0.6 -10.8 0.6 -35.7 0.6 20.9 0.6 26.7 0.6 -21.6 0.6 -20.9 0.6 26.4 0.6 -58.3 0.6 57.9 0.6 45 0.6 -8.9 0.6 -19.3 0.6 2.2 0.6 -25 0.6 10.2 0.6 -53.5 0.6 36.5"/><path d="M69.8 200l0.6 -117 0.6 120.4 0.6 -42.3 0.6 -62.5 0.6 29.5 0.6 4.7 0.6 25.3 0.6 -23.1 0.6 53.9 0.6 -90 0.6 -22.1 0.6 2.8 0.6 38.7 0.6 -58.7 0.6 36.9 0.6 -22.3 0.6 27.8 0.6 18.1 0.6 38.7 0.6 73.6 0.6 -137.5 0.6 37.2 0.6 -96.1 0.6 173.8 0.6 -119.1 0.6 85.7 0.6 -43 0.6 42.9 0.6 -56.9 0.6 19.4 0.6 -41.5 0.6 35.9 0.6 -14.2 0.6 -36.3 0.6 37.3 0.6 32.2 0.6 -63.5 0.6 65.2 0.6 -23.2 0.6 35.7 0.6 15.9 0.6 105.6 0.6 -165.7 0.6 79.4 0.6 -79 0.6 -49.5 0.6 137 0.6 -91.4 0.6 46.9 0.6 -25.1 0.6 68 0.6 -46.3 0.6 -5.1 0.6 -59.3 0.6 -32.9 0.6 87.1 0.6 32.1 0.6 -120.5 0.6 110.4 0.6 -1.8 0.6 -6.9 0.6 -16.6 0.6 -11.1 0.6 56.7 0.6 -17.2 0.6 -93.6 0.6 13.4 0.6 54.8 0.6 8.4 0.6 24 0.6 -59.1 0.6 69.3 0.6 -26.4 0.6 24.8 0.6 5.8 0.6 -26 0.6 1.8 0.6 23.5 0.6 -19.5 0.6 -5.9 0.6 22.8 0.6 6.7 0.6 -18.1 0.6 -38.9 0.6 -18.3 0.6 44.2 0.6 21.2 0.6 -9 0.6 -90.5 0.6 48.2 0.6 78.7 0.6 -30.5 0.6 17.5 0.6 -4.6 0.6 54.3 0.6 -65.2 0.6 52.9 0.6 -29.3 0.6 -89.1 0.6 26.1 0.6 77.8 0.6 8.3 0.6 -3.6 0.6 50.3 0.6 -44.2 0.6 -26.2 0.6 32.3 0.6 -69.5 0.6 33.5 0.6 19 0.6 -94.2 0.6 50.7 0.6 25.5 0.6 -75.8 0.6 26.7 0.6 83.1 0.6 -37.8 0.6 29.2 0.6 50.7 0.6 -145.4 0.6 20 0.6 120.4 0.6 -74.4 0.6 100.7 0.6 -122 0.6 43.5 0.6 10.3 0.6 -59.4 0.6 49.2 0.6 11.5 0.6 -41.9 0.6 45.2 0.6 -42.5 0.6 31.4 0.6 -28.8 0.6 7.2 0.6 -5.2 0.6 75.3 0.6 -124 0.6 84.1 0.6 -78.2 0.6 97.3 0.6 -14.5 0.6 -0.6 0.6 -54.6 0.6 61.1 0.6 -32.9 0.6 94.3 0.6 -60.5 0.6 -28.2 0.6 11.8 0.6 93.9 0.6 -117 0.6 58.2 0.6 -124.6 0.6 89 0.6 -106 0.6 73.7 0.6 7.1 0.6 33.2 0.6 -14.5 0.6 -20.4 0.6 108.6 0.6 -135.5 0.6 88 0.6 -38.8 0.6 116.6 0.6 -143.5 0.6 -14.3 0.6 20.8 0.6 -2 0.6 24.2 0.6 -18.4 0.6 -48.2 0.6 68.3 0.6 -35.3 0.6 -10.5 0.6 39.4 0.6 -16.1 0.6 1 0.6 25.4 0.6 -128 0.6 126.5 0.6 -91.7 0.6 30.5 0.6 140.9 0.6 -101.8 0.6 -35.7 0.6 10.6 0.6 69.3 0.6 -42.5 0.6 57 0.6 -6.8 0.6 -31.3 0.6 -14.3 0.6 -63.9 0.6 59 0.6 -32.2 0.6 94.3 0.6 -1.4 0.6 -28.1 0.6 -94.3 0.6 133.9 0.6 14.3 0.6 -66.6 0.6 -52.4 0.6 124.4 0.6 -63.7 0.6 49.8 0.6 -119.7 0.6 35.9 0.6 17.7 0.6 11.8 0.6 7.5 0.6 -12.9 0.6 30.4 0.6 11.1 0.6 11.7 0.6 -46.5 0.6 32.8 0.6 -65.3 0.6 138.9 0.6 -123.3 0.6 1.8 0.6 -30.6 0.6 59.6 0.6 60.5 0.6 -30.6 0.6 -83 0.6 57.3 0.6 4.6 0.6 7.6 0.6 -20.1 0.6 6.4 0.6 64.9 0.6 -49.4 0.6 -62.3 0.6 -20.2 0.6 64.5 0.6 15.6 0.6 -75 0.6 62.2 0.6 44.2 0.6 -45.7 0.6 -29.2 0.6 -39.8 0.6 83.3 0.6 -36.7 0.6 30.6 0.6 -57.6 0.6 36.7 0.6 0 0.6 48.5 0.6 -28 0.6 0.1 0.6 83.1 0.6 -127.9 0.6 33.3 0.6 6.9 0.6 5.4 0.6 -13.8 0.6 -7.4 0.6 61.4 0.6 -57.8 0.6 0.2 0.6 2.7 0.6 62.1 0.6 -56.9 0.6 45.4 0.6 -62.4 0.6 -44.8 0.6 19.9 0.6 47.1 0.6 6.8 0.6 0.4 0.6 -32.8 0.6 35.5 0.6 -5.2 0.6 81.9 0.6 -71.4 0.6 -3 0.6 -9.2 0.6 -72.8 0.6 103.2 0.6 -1.8 0.6 -75.1 0.6 60.3 0.6 -28.2 0.6 -14 0.6 6.8 0.6 26.9 0.6 -68.6 0.6 -26.6 0.6 102.8 0.6 -24.7 0.6 -53.2 0.6 51.2 0.6 26.4 0.6 -19.2 0.6 -53.6 0.6 72.8 0.6 -46.4 0.6 -5.6 0.6 40.7 0.6 -48.6 0.6 -4.4 0.6 -14.7 0.6 3.2 0.6 96.1 0.6 -93.7 0.6 14.5 0.6 -17.5 0.6 74.3 0.6 -70.1 0.6 24.5 0.6 57.5 0.6 -97.1 0.6 84.7 0.6 8.4 0.6 -52.5 0.6 39.4 0.6 -36.8 0.6 26.3 0.6 -21.8 0.6 -23.4 0.6 38.6 0.6 -40 0.6 1.5 0.6 66.4 0.6 -65.6 0.6 11.2 0.6 22.3 0.6 -43.3 0.6 -23.3 0.6 40.8 0.6 85.3 0.6 -69.8 0.6 24.6 0.6 4.8 0.6 -22.6 0.6 25.6 0.6 -81.2 0.6 61.2 0.6 11.3 0.6 -32.2 0.6 0.2 0.6 -16.1 0.6 25.3 0.6 27.7 0.6 -4.6 0.6 85.9 0.6 -27.7 0.6 -94.8 0.6 53.4 0.6 -85.9 0.6 1.3 0.6 120.4 0.6 -53 0.6 -113 0.6 149.4 0.6 -38.1 0.6 20.3 0.6 0.8 0.6 1.7 0.6 -7.7 0.6 -28.3 0.6 55.4 0.6 -43 0.6 40.2 0.6 -40.1 0.6 8.1 0.6 35.7 0.6 -29.9 0.6 28.9 0.6 4.5 0.6 -73.3 0.6 114.7 0.6 -87.4 0.6 -6.2 0.6 44.1 0.6 -60.3 0.6 8.1 0.6 80.7 0.6 -63.6 0.6 2.7 0.6 38.4 0.6 -42.9 0.6 -7.6 0.6 50.1 0.6 43.9 0.6 -79.2 0.6 36.2 0.6 43 0.6 -55.2 0.6 55.2 0.6 -56.5 0.6 -69.6 0.6 126.1 0.6 -80.7 0.6 44.7 0.6 -17.8 0.6 17.5 0.6 -51.7 0.6 22.2 0.6 25.1 0.6 21.3 0.6 -32.9 0.6 -56.7 0.6 86.4 0.6 -53.9 0.6 2.6 0.6 73.9 0.6 -104.3 0.6 42.7 0.6 -90.2 0.6 21.9 0.6 76.2 0.6 -2.5 0.6 30.4 0.6 16.7 0.6 -76.8 0.6 34.8 0.6 5.5 0.6 -7 0.6 -25.6 0.6 -10.6 0.6 32.4 0.6 6.5 0.6 -8.7 0.6 -76.7 0.6 135.3 0.6 -12.5 0.6 -55.8 0.6 9.5 0.6 -39.3 0.6 -3.7 0.6 -28.7 0.6 102.8 0.6 -44.9 0.6 24.7 0.6 -40.8 0.6 27.4 0.6 -24.9 0.6 53.6 0.6 -29.4 0.6 20.3 0.6 -8.7 0.6 5.5 0.6 19.8 0.6 -76.2 0.6 32.5 0.6 -33.2 0.6 72.4 0.6 29.6 0.6 -43.3 0.6 -15.8 0.6 -34.8 0.6 -12.3 0.6 -8 0.6 -14.6 0.6 33.3 0.6 24.9 0.6 24.7 0.6 -51 0.6 41.5 0.6 8.3 0.6 -48.8 0.6 14.4 0.6 -27.8 0.6 56.6 0.6 -71.8 0.6 33.3 0.6 21.2 0.6 16 0.6 9.2 0.6 8.8 0.6 -103 0.6 103.6 0.6 -72.6 0.6 36.2 0.6 9.4 0.6 -3.1 0.6 -14 0.6 -42.3 0.6 14.1 0.6 23.4 0.6 44.3 0.6 14.2 0.6 -136.8 0.6 111.2 0.6 17.9 0.6 -97.9 0.6 95.6 0.6 -79.5 0.6 -7.6 0.6 28.7 0.6 -29.4 0.6 85.2 0.6 -5.1 0.6 -30.9 0.6 -7.5 0.6 3.9 0.6 -22.3 0.6 44.2 0.6 48.6 0.6 -88.6 0.6 26.7 0.6 -42.4 0.6 -51.7 0.6 83 0.6 -20.1 0.6 52 0.6 -64.5 0.6 23.9 0.6 4.2 0.6 -26.9 0.6 72.3 0.6 -56.9 0.6 4.8 0.6 -45.9 0.6 123.7 0.6 -54.2 0.6 -92.7 0.6 102.3 0.6 1.1 0.6 -85.2 0.6 -29 0.6 98 0.6 25.4 0.6 -3 0.6 -5.1 0.6 13.3 0.6 -0.7 0.6 -28.9 0.6 6 0.6 -17.2 0.6 18.4 0.6 36.7 0.6 -64.1 0.6 20.4 0.6 25.1 0.6 -8.4 0.6 -18.5 0.6 9.6 0.6 5.7 0.6 -32.4 0.6 -11.9 0.6 49.6 0.6 -7.8 0.6 31.7 0.6 -27.9 0.6 -22.1 0.6 -15.8 0.6 27.7 0.6 7.5 0.6 17.2 0.6 -27.6 0.6 38.7 0.6 -35.9 0.6 3.7 0.6 25.4 0.6 -38.2 0.6 18.3 0.6 -29.9 0.6 36.6 0.6 -32.6 0.6 -43.3 0.6 54.5 0.6 -24.6 0.6 49 0.6 -8 0.6 48.7 0.6 -54.5 0.6 26.8 0.6 -37.7 0.6 70.9 0.6 -42 0.6 -28.8 0.6 -12.4 0.6 65.6 0.6 -37.4 0.6 -114.3 0.6 69.3 0.6 24.4 0.6 78.4 0.6 -45.1 0.6 -48.2 0.6 11 0.6 -8.8 0.6 -19.9 0.6 33.7 0.6 -29.5 0.6 88.9 0.6 -153.5 0.6 109.4 0.6 9.2 0.6 -78.8 0.6 35.5 0.6 -14.1 0.6 57.6 0.6 -29.5 0.6 -16.3 0.6 61.6 0.6 -24.7 0.6 1.1 0.6 1.7 0.6 11.3 0.6 17.2 0.6 -52.3 0.6 8.2 0.6 -34.7 0.6 47.9 0.6 16.7 0.6 25.7 0.6 -44.5 0.6 11.1 0.6 -84.5 0.6 -9.8 0.6 29 0.6 85.6 0.6 18.1 0.6 -36 0.6 20.1 0.6 -76.4 0.6 49 0.6 14.9 0.6 -10.2 0.6 -43.4 0.6 72.9 0.6 -40.9 0.6 57.1 0.6 -37.2 0.6 14.4 0.6 -27.4 0.6 4.8 0.6 -34.7 0.6 20.6 0.6 37.7 0.6 27.8 0.6 -19.8 0.6 -12.7 0.6 -5.8 0.6 17.4 0.6 -57.4 0.6 6 0.6 36 0.6 7.1 0.6 -8 0.6 -5.6 0.6 -0.6 0.6 44 0.6 -32 0.6 32 0.6 -46 0.6 -17.2 0.6 53 0.6 -39.9 0.6 22.9 0.6 2.4 0.6 -90.5 0.6 41.5 0.6 13.8 0.6 24.9 0.6 -24 0.6 15.7 0.6 -17.9 0.6 38.7 0.6 -26.1 0.6 8.4 0.6 34.4 0.6 -107.9 0.6 33.1 0.6 49 0.6 23.3 0.6 -27.2 0.6 2.5 0.6 -7.9 0.6 29.3 0.6 -24.8 0.6 -25.4 0.6 -14.5 0.6 76.4 0.6 -62.9 0.6 25.9 0.6 0.6 0.6 -21 0.6 8.8 0.6 -48.5 0.6 -1.4 0.6 37.3 0.6 8.1"/><path d="M69.8 137.2l0.6 79 0.6 -101.9 0.6 21.8 0.6 -71.5 0.6 2.3 0.6 39.4 0.6 -43.3 0.6 70.9 0.6 -1.1 0.6 39.5 0.6 -25.6 0.6 -25.1 0.6 -40.9 0.6 88 0.6 -74.4 0.6 -58.3 0.6 156.2 0.6 -44.2 0.6 -12.9 0.6 -47.3 0.6 -47.2 0.6 37.7 0.6 63 0.6 38.5 0.6 -35.7 0.6 0.1 0.6 -12.9 0.6 52.9 0.6 -113.6 0.6 109.2 0.6 -66 0.6 23.9 0.6 57.4 0.6 -48 0.6 3.5 0.6 11.4 0.6 -47.3 0.6 63.9 0.6 -142.6 0.6 67.2 0.6 93.8 0.6 74.4 0.6 -169.6 0.6 50.7 0.6 10 0.6 43.2 0.6 20.1 0.6 21.7 0.6 -199.9 0.6 48.8 0.6 100.5 0.6 -110.6 0.6 169.9 0.6 -108.9 0.6 1.3 0.6 66.3 0.6 -13.9 0.6 24.1 0.6 -39.2 0.6 -59.6 0.6 17.1 0.6 29.7 0.6 -33.1 0.6 131.6 0.6 -173.5 0.6 98 0.6 53.4 0.6 -39.6 0.6 11.4 0.6 -26.8 0.6 -6.8 0.6 136 0.6 -179.5 0.6 -21.9 0.6 122.3 0.6 -107.8 0.6 11.8 0.6 13.1 0.6 -29.4 0.6 137.2 0.6 -90.5 0.6 72.1 0.6 -151 0.6 151.2 0.6 14.8 0.6 -101.6 0.6 25.4 0.6 21.9 0.6 -3.2 0.6 -16.2 0.6 -52.8 0.6 107.2 0.6 -6.3 0.6 1.7 0.6 -20.8 0.6 -2.5 0.6 65.1 0.6 -74.6 0.6 75.5 0.6 -49.6 0.6 -1.8 0.6 0.5 0.6 -71.7 0.6 -7 0.6 28.3 0.6 -24.4 0.6 79.7 0.6 -70 0.6 60.9 0.6 -10.7 0.6 -1.3 0.6 81.6 0.6 -42.8 0.6 -20.7 0.6 -20.6 0.6 19.4 0.6 35 0.6 17.9 0.6 -58.7 0.6 59.5 0.6 -0.9 0.6 -54.8 0.6 -11.5 0.6 44.2 0.6 61 0.6 -110.5 0.6 -20.5 0.6 47 0.6 -2.1 0.6 108.7 0.6 -160.9 0.6 84.7 0.6 -77.5 0.6 50.6 0.6 -19.1 0.6 1 0.6 82.7 0.6 -219.7 0.6 201.1 0.6 -77.9 0.6 35.8 0.6 -24.4 0.6 -72.2 0.6 151.1 0.6 -84.4 0.6 -26.1 0.6 15.6 0.6 -12.4 0.6 44.3 0.6 42.9 0.6 -18.2 0.6 -39.1 0.6 -49.1 0.6 31.2 0.6 -73.7 0.6 73 0.6 -4.2 0.6 -0.3 0.6 83.5 0.6 -101.5 0.6 70.1 0.6 -29.2 0.6 -125.7 0.6 162.4 0.6 -52.9 0.6 -7.3 0.6 8.4 0.6 5.2 0.6 21.6 0.6 -113.8 0.6 190.8 0.6 -54.1 0.6 -108.4 0.6 46.7 0.6 53.5 0.6 7.1 0.6 -25.5 0.6 -131.4 0.6 105.5 0.6 62.8 0.6 -50.4 0.6 34.4 0.6 -90.1 0.6 56.9 0.6 -42.6 0.6 49.5 0.6 -84.5 0.6 77.6 0.6 5.7 0.6 56.8 0.6 -27.5 0.6 -30.4 0.6 35.6 0.6 -131.5 0.6 113 0.6 33.5 0.6 -71.7 0.6 61.9 0.6 -37 0.6 19.3 0.6 28.2 0.6 -89.4 0.6 54.9 0.6 -39.9 0.6 57.8 0.6 58.7 0.6 -11.7 0.6 -38.5 0.6 -14.3 0.6 -9.4 0.6 -16.7 0.6 78.8 0.6 -68.5 0.6 66.6 0.6 -28.9 0.6 -144.5 0.6 61.8 0.6 67.6 0.6 -93 0.6 17.7 0.6 25.1 0.6 -28 0.6 72.3 0.6 -5 0.6 31.2 0.6 -57.5 0.6 77.2 0.6 -36.8 0.6 -36.2 0.6 35.6 0.6 -32.1 0.6 -69.3 0.6 121.6 0.6 -102.3 0.6 87.7 0.6 10.8 0.6 -45.7 0.6 -36.6 0.6 71.3 0.6 0.2 0.6 -11.9 0.6 10.8 0.6 -33.9 0.6 32.9 0.6 -17.8 0.6 -22.7 0.6 28.2 0.6 -66.9 0.6 76.4 0.6 3.6 0.6 -122.6 0.6 25.1 0.6 66.7 0.6 -34.6 0.6 23.3 0.6 32.1 0.6 -47.7 0.6 17.9 0.6 -45.9 0.6 138.6 0.6 -115.2 0.6 30.7 0.6 30.7 0.6 -9.1 0.6 -0.4 0.6 38.3 0.6 -31 0.6 -54 0.6 96.6 0.6 -48.1 0.6 88 0.6 -79.4 0.6 -34.8 0.6 17.6 0.6 -2.4 0.6 45.2 0.6 -65.1 0.6 57.4 0.6 -71.3 0.6 32 0.6 21.4 0.6 -77.5 0.6 79.6 0.6 -55.8 0.6 39.9 0.6 4.3 0.6 -40.3 0.6 27.2 0.6 15.5 0.6 4.5 0.6 -10.6 0.6 4.9 0.6 15.1 0.6 30.2 0.6 42.4 0.6 -78.7 0.6 5.1 0.6 -57.7 0.6 35.1 0.6 -30.8 0.6 -27.5 0.6 77.8 0.6 28.8 0.6 -63.2 0.6 52.9 0.6 -12.9 0.6 -69.1 0.6 41 0.6 -25.6 0.6 99.8 0.6 -56.8 0.6 -45.3 0.6 96.6 0.6 -57.6 0.6 -7.8 0.6 95.9 0.6 -152.8 0.6 93.8 0.6 -21 0.6 -79.9 0.6 146.8 0.6 -93 0.6 32.9 0.6 -16.9 0.6 28 0.6 -91 0.6 100.1 0.6 -56.6 0.6 -9.7 0.6 27.7 0.6 5.1 0.6 -1.3 0.6 -59.5 0.6 24.9 0.6 23.2 0.6 34.8 0.6 -48.4 0.6 -18.3 0.6 24.9 0.6 -68.4 0.6 137.8 0.6 -187.8 0.6 122.2 0.6 34.5 0.6 21.8 0.6 -105.9 0.6 13.3 0.6 35.9 0.6 -7.8 0.6 -10.1 0.6 27.1 0.6 -72 0.6 24.2 0.6 34.3 0.6 56.3 0.6 -123.6 0.6 84.8 0.6 18.9 0.6 -98.3 0.6 36.7 0.6 99.7 0.6 -13.9 0.6 -42.8 0.6 29.4 0.6 -38.6 0.6 -124.8 0.6 -15.5 0.6 138.2 0.6 -37.2 0.6 -2.9 0.6 46.9 0.6 48.6 0.6 -100.2 0.6 57.9 0.6 -27.3 0.6 -10.3 0.6 61.3 0.6 -102.9 0.6 74.1 0.6 -5.5 0.6 26.1 0.6 -45.5 0.6 -12.4 0.6 64.5 0.6 -42.9 0.6 40.7 0.6 28.4 0.6 -30.1 0.6 -35.7 0.6 3.6 0.6 -22.7 0.6 68.8 0.6 -11.2 0.6 -10.7 0.6 -22.4 0.6 29.4 0.6 28.4 0.6 26.1 0.6 -105.5 0.6 5.7 0.6 65.9 0.6 -82.9 0.6 64.6 0.6 -17.4 0.6 -35.4 0.6 67.4 0.6 10.7 0.6 42.6 0.6 -76.4 0.6 -5.7 0.6 -18 0.6 11.8 0.6 18.9 0.6 -42.7 0.6 81.1 0.6 -47 0.6 -5.3 0.6 21.4 0.6 -75.1 0.6 57.3 0.6 -40.3 0.6 20.2 0.6 40.3 0.6 -86.1 0.6 36.6 0.6 43.8 0.6 4.2 0.6 31.3 0.6 -30.2 0.6 2.7 0.6 -13.1 0.6 19.1 0.6 -33.3 0.6 23 0.6 55.8 0.6 -42.6 0.6 13.5 0.6 15 0.6 -36.5 0.6 -43.2 0.6 73.1 0.6 26.4 0.6 -59 0.6 -131.6 0.6 145 0.6 -26.1 0.6 20.3 0.6 -45.7 0.6 -25.4 0.6 63.5 0.6 -52 0.6 83.3 0.6 -41.7 0.6 49.5 0.6 -48.6 0.6 24.4 0.6 -25.6 0.6 44.2 0.6 -43.7 0.6 3.5 0.6 20.8 0.6 8 0.6 14.6 0.6 -27.9 0.6 -24.5 0.6 16.8 0.6 -8.3 0.6 -45.6 0.6 59.8 0.6 -17.9 0.6 -22.6 0.6 13.5 0.6 5.5 0.6 9.8 0.6 -76.4 0.6 80.7 0.6 9.1 0.6 -32.9 0.6 -45.2 0.6 9.1 0.6 55.7 0.6 -31.4 0.6 13.8 0.6 15.6 0.6 -23.1 0.6 0.9 0.6 19.4 0.6 -67.7 0.6 81.7 0.6 -68.9 0.6 -30.7 0.6 -1.2 0.6 77.7 0.6 15.2 0.6 46.8 0.6 -51.3 0.6 -105.9 0.6 153.4 0.6 -1.7 0.6 -86.1 0.6 8.5 0.6 86.7 0.6 -59.8 0.6 -17.6 0.6 62.5 0.6 -90.2 0.6 82.1 0.6 -90.7 0.6 38.5 0.6 31.3 0.6 28.9 0.6 -39.5 0.6 -10 0.6 1.2 0.6 15.3 0.6 -12.4 0.6 -45.5 0.6 66.6 0.6 -21.4 0.6 -28 0.6 20.2 0.6 -36.9 0.6 -28.6 0.6 79.6 0.6 -23.2 0.6 89.5 0.6 -65.8 0.6 -41.5 0.6 64.2 0.6 -90.7 0.6 118.5 0.6 -118.3 0.6 74.3 0.6 14.9 0.6 -15.1 0.6 -5.7 0.6 21.6 0.6 12.1 0.6 -25.9 0.6 -56.1 0.6 22.6 0.6 -38.5 0.6 75 0.6 -7 0.6 -0.5 0.6 -17.8 0.6 -13.2 0.6 -53.3 0.6 43.2 0.6 21.9 0.6 -49.1 0.6 80 0.6 16 0.6 -68.7 0.6 20 0.6 1.5 0.6 -33.7 0.6 50.9 0.6 -9.4 0.6 -20.6 0.6 -11.6 0.6 -14.2 0.6 34.7 0.6 -6.6 0.6 91.9 0.6 -132.1 0.6 99.8 0.6 -49.5 0.6 -105.2 0.6 115.4 0.6 37.8 0.6 -117.3 0.6 87.1 0.6 -16.2 0.6 -0.4 0.6 -36.6 0.6 -2 0.6 36 0.6 -49.9 0.6 77.1 0.6 -59.9 0.6 52 0.6 -53.1 0.6 54.5 0.6 -9 0.6 -76.8 0.6 98 0.6 1.5 0.6 -62.9 0.6 34 0.6 6.8 0.6 -11.1 0.6 -90.3 0.6 121.1 0.6 -24.3 0.6 -16.9 0.6 39.7 0.6 -30.4 0.6 -20.1 0.6 51.1 0.6 -75 0.6 82.6 0.6 -30.5 0.6 -18.5 0.6 -113.2 0.6 184.1 0.6 -66.3 0.6 -88.8 0.6 122 0.6 -62.9 0.6 36 0.6 53.5 0.6 -58.8 0.6 43.6 0.6 -29.2 0.6 50.3 0.6 -74 0.6 97.2 0.6 -60.3 0.6 -55.9 0.6 32 0.6 30.9 0.6 -2.4 0.6 5.9 0.6 -118.2 0.6 109.6 0.6 -0.4 0.6 21 0.6 -7 0.6 -33.8 0.6 39.2 0.6 6.9 0.6 -7.3 0.6 -5.1 0.6 -13.8 0.6 19 0.6 -7.9 0.6 17.6 0.6 -65.5 0.6 42 0.6 11.9 0.6 -16.2 0.6 9.6 0.6 48.2 0.6 -43.4 0.6 -63.5 0.6 45.6 0.6 -25.5 0.6 60.6 0.6 26.2 0.6 -24.6 0.6 -67.7 0.6 79.4 0.6 -7.7 0.6 -61.4 0.6 43.5 0.6 -1.6 0.6 -16.3 0.6 8 0.6 11.2 0.6 -16.1 0.6 29.3 0.6 -21.5 0.6 -20 0.6 53.3 0.6 -29.4 0.6 31.7 0.6 -61.4 0.6 4.5 0.6 -13.8 0.6 -4.4 0.6 -0.6 0.6 11.4 0.6 45.5 0.6 -56.2 0.6 59 0.6 -117 0.6 80.4 0.6 -12.9 0.6 57.3 0.6 -78.6 0.6 -5.1 0.6 93.9 0.6 -35.8 0.6 -3.2 0.6 4.5 0.6 -72.6 0.6 -32.3 0.6 115.7 0.6 -72.8 0.6 48.2"/><path d="M69.8 184.2l0.6 -91.3 0.6 64.7 0.6 -28.2 0.6 87.3 0.6 -13.2 0.6 -0.2 0.6 -110 0.6 190 0.6 -31.5 0.6 -112.5 0.6 31.4 0.6 160.8 0.6 -142 0.6 -3 0.6 -67.1 0.6 136.6 0.6 -61.2 0.6 -67.9 0.6 14.9 0.6 68.2 0.6 -22.6 0.6 47.5 0.6 -120.7 0.6 79.2 0.6 -73.8 0.6 23.4 0.6 68.6 0.6 -26.2 0.6 -33.5 0.6 10.5 0.6 -51.7 0.6 20.3 0.6 38.7 0.6 -17 0.6 56.1 0.6 -3.8 0.6 -46.4 0.6 13.4 0.6 55 0.6 -38.3 0.6 26.6 0.6 -8.9 0.6 -77.6 0.6 93.9 0.6 -11.1 0.6 -46.2 0.6 21.3 0.6 -2.6 0.6 64.5 0.6 -57.1 0.6 12.5 0.6 17.3 0.6 -9.3 0.6 -9.3 0.6 -45.4 0.6 -49.4 0.6 82.3 0.6 -62 0.6 62.9 0.6 66.8 0.6 -63.8 0.6 -53.5 0.6 -5 0.6 96 0.6 -134.6 0.6 129.9 0.6 0.6 0.6 -7.7 0.6 -81.5 0.6 50 0.6 -22.3 0.6 153.5 0.6 -113.3 0.6 2.9 0.6 -28.9 0.6 44.2 0.6 -66.1 0.6 77.2 0.6 36.9 0.6 16.5 0.6 -130.1 0.6 25.2 0.6 60.3 0.6 -75.1 0.6 50.8 0.6 -1.1 0.6 66.6 0.6 -47.5 0.6 -25.5 0.6 -2.8 0.6 31.3 0.6 -59.8 0.6 -20.6 0.6 94.6 0.6 -49.2 0.6 93.2 0.6 -92.4 0.6 59.8 0.6 -37.3 0.6 -12.2 0.6 16.9 0.6 -48.2 0.6 74.2 0.6 -14.5 0.6 -31.5 0.6 13.9 0.6 -10.6 0.6 18.5 0.6 28.1 0.6 -60.3 0.6 21.3 0.6 -29 0.6 -20.3 0.6 67.2 0.6 18.2 0.6 -13.7 0.6 9.1 0.6 86.1 0.6 -181.9 0.6 52.4 0.6 -85.6 0.6 123.8 0.6 -44.8 0.6 10.9 0.6 12.5 0.6 -39.9 0.6 36.4 0.6 2.8 0.6 -9.2 0.6 129.1 0.6 -94.5 0.6 0.3 0.6 -100.3 0.6 48.9 0.6 -9.1 0.6 6.8 0.6 28.7 0.6 -78.2 0.6 78 0.6 54.7 0.6 -86.1 0.6 -26.5 0.6 45.2 0.6 -9.2 0.6 -27.2 0.6 -27.4 0.6 44.1 0.6 -52.2 0.6 63.7 0.6 -84.2 0.6 150.7 0.6 -97.5 0.6 30 0.6 5.4 0.6 54.9 0.6 -98.4 0.6 53.4 0.6 30.2 0.6 -15.2 0.6 -15 0.6 -11.9 0.6 36.1 0.6 0 0.6 -52.2 0.6 20 0.6 -94.3 0.6 105.3 0.6 -49.8 0.6 -47.6 0.6 87.9 0.6 -54.5 0.6 30.9 0.6 10.7 0.6 -73.6 0.6 111 0.6 -14.8 0.6 45.9 0.6 -65.6 0.6 -52.6 0.6 56.8 0.6 -51.1 0.6 68 0.6 -84.7 0.6 57.8 0.6 15.8 0.6 -98.7 0.6 76.2 0.6 -27.7 0.6 20.6 0.6 -27.5 0.6 26.7 0.6 53.6 0.6 -61.5 0.6 -9.2 0.6 4.1 0.6 28.5 0.6 -94.6 0.6 116.3 0.6 -37.7 0.6 -3.9 0.6 54.4 0.6 4.1 0.6 -78.5 0.6 -0.2 0.6 25.3 0.6 70.6 0.6 -49.7 0.6 -23.8 0.6 -16.9 0.6 -25.4 0.6 34.7 0.6 -22.6 0.6 -31.2 0.6 174.9 0.6 -142.1 0.6 67 0.6 -41.3 0.6 13.8 0.6 50.8 0.6 -3.2 0.6 -54.3 0.6 29.7 0.6 -40.6 0.6 51.6 0.6 -114 0.6 111.6 0.6 -105.5 0.6 124.9 0.6 -52.8 0.6 -24.6 0.6 101.6 0.6 -12.3 0.6 -52.3 0.6 -32.6 0.6 -8.7 0.6 38.4 0.6 -21.3 0.6 90.8 0.6 -26.4 0.6 -78.8 0.6 85.2 0.6 -9.8 0.6 61.7 0.6 -61.7 0.6 56.4 0.6 -75.9 0.6 -49.6 0.6 53.6 0.6 7.5 0.6 19.7 0.6 -35.4 0.6 63.8 0.6 -24.3 0.6 -110.3 0.6 145.3 0.6 -29.4 0.6 35 0.6 -105.7 0.6 61 0.6 41 0.6 -0.2 0.6 -93.3 0.6 20.4 0.6 -4.9 0.6 34.9 0.6 -38 0.6 -18.1 0.6 29.9 0.6 91.7 0.6 22 0.6 -28 0.6 -66.4 0.6 69.4 0.6 -19.3 0.6 -41.1 0.6 33.3 0.6 18.1 0.6 -87.3 0.6 21.5 0.6 -13.1 0.6 -5.7 0.6 -23.4 0.6 61.4 0.6 4.9 0.6 67.3 0.6 -65.4 0.6 12.3 0.6 -63.1 0.6 16.5 0.6 -36.3 0.6 16.8 0.6 -4.7 0.6 29.1 0.6 15.7 0.6 16.5 0.6 -12 0.6 31.8 0.6 -47.9 0.6 17.6 0.6 79.6 0.6 11.6 0.6 -70.4 0.6 -9 0.6 -5.5 0.6 -66.4 0.6 76.8 0.6 23.5 0.6 -60.3 0.6 -27.9 0.6 -29 0.6 106.3 0.6 -25.4 0.6 5.3 0.6 -81.3 0.6 35.9 0.6 29.7 0.6 -31.4 0.6 44.2 0.6 -5 0.6 -6.6 0.6 15.4 0.6 -7.9 0.6 -25.7 0.6 4.7 0.6 -55.2 0.6 27.3 0.6 41.2 0.6 80.1 0.6 -32.1 0.6 -33.3 0.6 -3.6 0.6 30.2 0.6 -30.4 0.6 -19.6 0.6 27.5 0.6 -16.2 0.6 -2 0.6 20.7 0.6 5.1 0.6 -24 0.6 -17.3 0.6 47.4 0.6 39.2 0.6 -41.7 0.6 -54.6 0.6 78.3 0.6 -96.2 0.6 61.6 0.6 -26.2 0.6 32.4 0.6 -51.7 0.6 23.5 0.6 -13.7 0.6 85.8 0.6 -100.6 0.6 89.7 0.6 -44.7 0.6 -35.4 0.6 31 0.6 -29.8 0.6 14.5 0.6 3.5 0.6 31.3 0.6 -70.7 0.6 -5 0.6 67.7 0.6 10.9 0.6 -38.8 0.6 34.5 0.6 -31.7 0.6 -29.3 0.6 6.6 0.6 -35.1 0.6 43.7 0.6 54.6 0.6 -5.8 0.6 -51.9 0.6 -58.7 0.6 96.2 0.6 16.5 0.6 -90.4 0.6 65.1 0.6 -34.8 0.6 -16.2 0.6 79.1 0.6 -18.2 0.6 5.8 0.6 -42.5 0.6 -5.2 0.6 46.4 0.6 -42.1 0.6 83.9 0.6 -75.1 0.6 0.2 0.6 14.4 0.6 47.8 0.6 -43.9 0.6 31.3 0.6 -97.5 0.6 73.1 0.6 -4 0.6 -4.5 0.6 -28 0.6 18.9 0.6 -19.9 0.6 54.9 0.6 -80 0.6 66.1 0.6 -53.1 0.6 21.1 0.6 -35.7 0.6 47.3 0.6 47 0.6 -10 0.6 -32.7 0.6 -67.9 0.6 74.7 0.6 -20.4 0.6 -50.5 0.6 75.1 0.6 -36.7 0.6 0.6 0.6 36.3 0.6 -34.9 0.6 -34.2 0.6 -0.3 0.6 57.2 0.6 -134.9 0.6 106.1 0.6 25.8 0.6 18.4 0.6 9.9 0.6 -73.6 0.6 136.6 0.6 -96.4 0.6 44.2 0.6 -43.2 0.6 -5.5 0.6 47.3 0.6 -8.6 0.6 -91.4 0.6 75.3 0.6 -21.9 0.6 13.2 0.6 -46.5 0.6 -15.4 0.6 13 0.6 15.6 0.6 0.2 0.6 66.9 0.6 -96 0.6 77 0.6 12.4 0.6 -18.4 0.6 16.9 0.6 -47.4 0.6 -11.8 0.6 -21.8 0.6 56.9 0.6 21.3 0.6 -11.9 0.6 29.2 0.6 -11.2 0.6 -107.6 0.6 109.7 0.6 -8.2 0.6 -43.2 0.6 16 0.6 -19.8 0.6 60.8 0.6 6.2 0.6 -86.8 0.6 77 0.6 -18.5 0.6 -11.9 0.6 67.7 0.6 -50.3 0.6 14.2 0.6 -42.1 0.6 33.6 0.6 62.4 0.6 -105.8 0.6 113 0.6 -66.3 0.6 7.5 0.6 -2.1 0.6 -19.5 0.6 -38.5 0.6 65.1 0.6 -7.1 0.6 -49.8 0.6 9.3 0.6 -8.4 0.6 15.2 0.6 22.8 0.6 7.4 0.6 -0.5 0.6 -53 0.6 -23.6 0.6 -19.4 0.6 110.8 0.6 -23.2 0.6 -9.7 0.6 6.5 0.6 28.4 0.6 -121.4 0.6 26.5 0.6 66.1 0.6 10.6 0.6 -16.8 0.6 37.2 0.6 -24 0.6 -43.8 0.6 -34.6 0.6 30.4 0.6 -15.8 0.6 84.1 0.6 49.6 0.6 -136 0.6 47.2 0.6 10.8 0.6 -68.4 0.6 95.8 0.6 0.2 0.6 -5.4 0.6 -86.3 0.6 27 0.6 92.4 0.6 -118.8 0.6 65.2 0.6 -15.4 0.6 40.4 0.6 -95.4 0.6 57.2 0.6 -33.4 0.6 80.5 0.6 -54.5 0.6 24.6 0.6 10.9 0.6 16.4 0.6 -2.4 0.6 14.6 0.6 -14.3 0.6 -16.2 0.6 -21.5 0.6 69 0.6 -17.3 0.6 -11.9 0.6 35.1 0.6 -42.6 0.6 0 0.6 -1.3 0.6 -16.7 0.6 -19.7 0.6 6.4 0.6 20.3 0.6 -10.6 0.6 41.3 0.6 5.4 0.6 -46.6 0.6 3.8 0.6 -62.1 0.6 85.5 0.6 23.8 0.6 -36.6 0.6 20.4 0.6 14.4 0.6 -71.9 0.6 -21.1 0.6 58.1 0.6 28.7 0.6 -25.2 0.6 8.4 0.6 44.7 0.6 -70.4 0.6 16 0.6 -31.6 0.6 56.7 0.6 -15.4 0.6 2.8 0.6 45 0.6 -136.5 0.6 136.5 0.6 -12.1 0.6 -26.3 0.6 38.4 0.6 -59.5 0.6 23.6 0.6 -15.2 0.6 -4.4 0.6 3.8 0.6 -1 0.6 6.2 0.6 -15.3 0.6 -14.5 0.6 31.4 0.6 4.9 0.6 -1.7 0.6 -19.1 0.6 17.3 0.6 -0.1 0.6 36.8 0.6 -117.2 0.6 105.6 0.6 -97.3 0.6 33.1 0.6 -9.2 0.6 28.7 0.6 -9.4 0.6 7.3 0.6 -12 0.6 -9.9 0.6 -26.5 0.6 83 0.6 -44.1 0.6 -43.5 0.6 8.2 0.6 79.6 0.6 -38.5 0.6 1.2 0.6 1.1 0.6 66.6 0.6 -90.5 0.6 80.3 0.6 -131.2 0.6 58.9 0.6 25.8 0.6 -24.8 0.6 18.8 0.6 17.7 0.6 -11.6 0.6 -13.5 0.6 33.2 0.6 -47 0.6 -15.3 0.6 1.8 0.6 -3.8 0.6 -4.4 0.6 23.1 0.6 -23 0.6 46.4 0.6 -11.2 0.6 -38.8 0.6 -19.9 0.6 81.3 0.6 35.3 0.6 -124 0.6 38.3 0.6 -25.7 0.6 35.7 0.6 25.6 0.6 23.5 0.6 10.1 0.6 -80.1 0.6 18.1 0.6 25.8 0.6 41.3 0.6 -18.4 0.6 2.7 0.6 -9 0.6 48.5 0.6 -62.5 0.6 -52 0.6 72 0.6 -15.5 0.6 -7.6 0.6 35.9 0.6 -42.9 0.6 36.3 0.6 -11.2 0.6 -20 0.6 9 0.6 -4.4 0.6 27.2 0.6 -53.2 0.6 57.1 0.6 -63.2 0.6 44.7 0.6 19.9 0.6 -31.2 0.6 26 0.6 -15.4 0.6 -10.4 0.6 -36.2 0.6 -1.2 0.6 11.6 0.6 27.4 0.6 35.4 0.6 -37.7 0.6 2.1 0.6 -6.4"/><path d="M69.8 174.6l0.6 5.7 0.6 4.5 0.6 51.4 0.6 -135 0.6 83.7 0.6 -61.1 0.6 121.4 0.6 -88.2 0.6 68.8 0.6 5.3 0.6 -60.7 0.6 -37.9 0.6 -16.7 0.6 1.7 0.6 72 0.6 -45.2 0.6 57 0.6 -2.2 0.6 -28.4 0.6 13.3 0.6 -43.6 0.6 118.3 0.6 -132.9 0.6 74.5 0.6 -91.6 0.6 16.4 0.6 98.3 0.6 -41.8 0.6 -33.5 0.6 60.4 0.6 -1.9 0.6 -15.9 0.6 -45.8 0.6 -8 0.6 58.3 0.6 -54.2 0.6 -31.8 0.6 27.5 0.6 70.6 0.6 4.6 0.6 -42.9 0.6 -26.1 0.6 19.9 0.6 33.7 0.6 21.3 0.6 -94.5 0.6 66.7 0.6 -94.4 0.6 134.8 0.6 -31.7 0.6 12.5 0.6 -110 0.6 31.2 0.6 76.3 0.6 72.8 0.6 -140.7 0.6 48.9 0.6 51.7 0.6 21.7 0.6 -79 0.6 22.7 0.6 -11.3 0.6 -7.4 0.6 29.4 0.6 -2.4 0.6 -33 0.6 29.4 0.6 7.9 0.6 -32.3 0.6 134.3 0.6 -160.3 0.6 35.9 0.6 50.8 0.6 -25.6 0.6 -55.8 0.6 30.1 0.6 121 0.6 -51.1 0.6 -54.7 0.6 -69.1 0.6 49.1 0.6 36.3 0.6 -29.4 0.6 20.9 0.6 13.3 0.6 -27 0.6 143.2 0.6 -167.9 0.6 18.7 0.6 38.2 0.6 19.9 0.6 19.4 0.6 -69 0.6 4.2 0.6 -1.5 0.6 -68.3 0.6 204.4 0.6 -100 0.6 2 0.6 -71.3 0.6 47.2 0.6 30.8 0.6 -48.8 0.6 -7.4 0.6 -57.1 0.6 61.8 0.6 26 0.6 2.2 0.6 13.2 0.6 -50.9 0.6 -16.6 0.6 41.7 0.6 -3.8 0.6 -67 0.6 57.9 0.6 -15.6 0.6 63.4 0.6 -21.9 0.6 85.3 0.6 -50.1 0.6 -72.2 0.6 -43.3 0.6 66.1 0.6 39.1 0.6 -52.2 0.6 -49 0.6 57.9 0.6 -47.3 0.6 43.6 0.6 47.7 0.6 -15.1 0.6 -25.6 0.6 -117.3 0.6 82.8 0.6 34.2 0.6 -19.6 0.6 4 0.6 23.7 0.6 -12 0.6 5.5 0.6 -42.1 0.6 -39.6 0.6 11.5 0.6 73.4 0.6 -35.4 0.6 51.4 0.6 16.1 0.6 -45.3 0.6 -24.1 0.6 29.3 0.6 -39.7 0.6 0.1 0.6 3.5 0.6 39.9 0.6 49.9 0.6 -140.5 0.6 102.3 0.6 -51 0.6 11.5 0.6 34 0.6 -99.8 0.6 55.1 0.6 31.7 0.6 13.8 0.6 20.5 0.6 12 0.6 -77.2 0.6 43 0.6 -0.3 0.6 -42.6 0.6 37.5 0.6 -46.7 0.6 55.6 0.6 -5 0.6 -66.6 0.6 70.9 0.6 -58.2 0.6 4.1 0.6 22.9 0.6 66.8 0.6 -15.4 0.6 -8.9 0.6 6.9 0.6 -94.3 0.6 77.8 0.6 13.2 0.6 -27.1 0.6 -20.1 0.6 63.2 0.6 -97.8 0.6 -6 0.6 62.6 0.6 -67.3 0.6 102.4 0.6 -37.9 0.6 -18.7 0.6 -11.1 0.6 -51.4 0.6 70.6 0.6 28.4 0.6 -53.9 0.6 3.3 0.6 -13.5 0.6 37.8 0.6 -23.4 0.6 36 0.6 -53 0.6 58.6 0.6 -0.6 0.6 -83.5 0.6 90.2 0.6 -32.6 0.6 -25.4 0.6 43.3 0.6 -56.4 0.6 70.2 0.6 -72.6 0.6 112.3 0.6 -7.1 0.6 -54.8 0.6 -62.4 0.6 -6.6 0.6 111.1 0.6 -29.7 0.6 19.7 0.6 75.8 0.6 -124.6 0.6 49.8 0.6 -75.7 0.6 53.6 0.6 33 0.6 7.9 0.6 -16.5 0.6 -23.6 0.6 37.9 0.6 -143.7 0.6 122.5 0.6 54.3 0.6 -46.7 0.6 -43.9 0.6 35 0.6 28.4 0.6 15 0.6 7.2 0.6 21.1 0.6 -30.1 0.6 -28.1 0.6 32.6 0.6 -89 0.6 55.2 0.6 31.4 0.6 -15.5 0.6 -60.3 0.6 146.2 0.6 -94.2 0.6 -107.2 0.6 78.3 0.6 76.3 0.6 -42.7 0.6 13.3 0.6 -129.9 0.6 147.6 0.6 -16.9 0.6 1.9 0.6 51.9 0.6 23.5 0.6 -80.3 0.6 -26.5 0.6 32.7 0.6 -33 0.6 -12.5 0.6 1.6 0.6 101.1 0.6 -140.7 0.6 29 0.6 1.5 0.6 31.4 0.6 -0.4 0.6 17.8 0.6 -36.1 0.6 -24.7 0.6 58.7 0.6 -56.7 0.6 50.9 0.6 -43.5 0.6 30.9 0.6 -46.2 0.6 -50.7 0.6 77.1 0.6 27.5 0.6 -3 0.6 -46.5 0.6 47.2 0.6 -65.8 0.6 30.4 0.6 -28.9 0.6 63.9 0.6 12.9 0.6 -7.4 0.6 -48.6 0.6 49.5 0.6 -63.7 0.6 112 0.6 -52.1 0.6 -20.2 0.6 62.7 0.6 -43.2 0.6 31 0.6 -52.3 0.6 8.9 0.6 -43.9 0.6 67.8 0.6 29.7 0.6 -37.1 0.6 -26.4 0.6 3.5 0.6 -1.4 0.6 -46.1 0.6 71.4 0.6 -3 0.6 22.4 0.6 -6.7 0.6 -64.5 0.6 33.7 0.6 104.9 0.6 -138.1 0.6 138 0.6 -68.3 0.6 -50.9 0.6 37.1 0.6 -12.9 0.6 -11.5 0.6 24.7 0.6 62.7 0.6 -61.4 0.6 40.1 0.6 40.5 0.6 -52.8 0.6 -27.1 0.6 15.4 0.6 5.3 0.6 -64.9 0.6 58.2 0.6 -19.5 0.6 19.6 0.6 -48.9 0.6 76.7 0.6 -54.1 0.6 -28.3 0.6 84.1 0.6 -49.3 0.6 85.6 0.6 -62.3 0.6 -13.8 0.6 60.5 0.6 15.6 0.6 -54.5 0.6 13.7 0.6 -19.9 0.6 -4.4 0.6 -17.7 0.6 -32.8 0.6 43.3 0.6 72.3 0.6 -81.8 0.6 7.5 0.6 6.4 0.6 -58.5 0.6 52.3 0.6 18.9 0.6 -27.4 0.6 76.9 0.6 -102.2 0.6 33.6 0.6 -70.2 0.6 42.8 0.6 11.8 0.6 6.5 0.6 44.1 0.6 -38.1 0.6 -16.1 0.6 -32 0.6 23.1 0.6 -13 0.6 -0.7 0.6 47 0.6 -32 0.6 21.6 0.6 32.5 0.6 9.2 0.6 -88.5 0.6 -27 0.6 0.6 0.6 91.7 0.6 -94.7 0.6 -2.2 0.6 94.9 0.6 -46.6 0.6 -53.2 0.6 71.8 0.6 -47.3 0.6 73.5 0.6 -7.8 0.6 -49.7 0.6 45.9 0.6 -11.1 0.6 2.5 0.6 37.2 0.6 -96.6 0.6 70.6 0.6 6.4 0.6 4.2 0.6 -14.8 0.6 31.6 0.6 -64.8 0.6 47.5 0.6 -42.5 0.6 60.7 0.6 5.5 0.6 -2.9 0.6 -36 0.6 51.8 0.6 -77.5 0.6 44.3 0.6 -45.9 0.6 48 0.6 -43.6 0.6 65.3 0.6 2.9 0.6 -57.7 0.6 39.6 0.6 -59.2 0.6 64.3 0.6 -39.8 0.6 44.4 0.6 37.5 0.6 -121 0.6 65 0.6 -44.5 0.6 33.8 0.6 66.6 0.6 -74.7 0.6 -29.3 0.6 -8.9 0.6 -14.6 0.6 53.9 0.6 16.3 0.6 -4.7 0.6 40.1 0.6 -65.2 0.6 0.9 0.6 16.4 0.6 34.8 0.6 -46.7 0.6 39.9 0.6 -65 0.6 67.4 0.6 -2.3 0.6 -6.1 0.6 24.2 0.6 -4.7 0.6 -19.8 0.6 52.7 0.6 -140.5 0.6 69.5 0.6 2.4 0.6 36.2 0.6 -33.3 0.6 5.6 0.6 -3.1 0.6 54.4 0.6 -48.7 0.6 57.5 0.6 -55.7 0.6 21.5 0.6 -9.8 0.6 -9.2 0.6 -41.7 0.6 -16.9 0.6 46.9 0.6 33.5 0.6 -94.5 0.6 104.9 0.6 -30.2 0.6 -10.6 0.6 14.4 0.6 -78.2 0.6 37.7 0.6 -29.8 0.6 53.6 0.6 -47.8 0.6 41.4 0.6 -1.8 0.6 -20.2 0.6 -5.4 0.6 -9 0.6 31.5 0.6 39.1 0.6 -37.4 0.6 73.7 0.6 -77.5 0.6 16.8 0.6 -65.2 0.6 125.9 0.6 -177.1 0.6 97 0.6 39.4 0.6 -72.6 0.6 -3.2 0.6 2.2 0.6 -73.3 0.6 123.1 0.6 -45.3 0.6 5.9 0.6 34.4 0.6 -40.3 0.6 -40 0.6 85.8 0.6 -51.7 0.6 -22.6 0.6 15.1 0.6 82 0.6 -65.4 0.6 28.4 0.6 -65.6 0.6 56.6 0.6 -85.1 0.6 123.7 0.6 -61.6 0.6 52.8 0.6 -103 0.6 9.3 0.6 97.2 0.6 -61.5 0.6 33.6 0.6 51.8 0.6 -17.6 0.6 -36.8 0.6 -16 0.6 36.4 0.6 -25.2 0.6 0.3 0.6 2.1 0.6 48.9 0.6 -40.7 0.6 -15 0.6 68.6 0.6 -107.5 0.6 4.2 0.6 53.4 0.6 -77.2 0.6 108.1 0.6 4.9 0.6 -9 0.6 3.1 0.6 -93.5 0.6 73.2 0.6 3.4 0.6 -15.1 0.6 -48.9 0.6 57.8 0.6 16.2 0.6 -19.4 0.6 -39.2 0.6 54.8 0.6 -60 0.6 44.8 0.6 15.4 0.6 -22 0.6 -59 0.6 83.7 0.6 -58.9 0.6 32.9 0.6 16.1 0.6 3.1 0.6 -28.1 0.6 8.6 0.6 10.2 0.6 -10.9 0.6 48 0.6 -6.1 0.6 11.6 0.6 -19.7 0.6 -3.3 0.6 4.7 0.6 -26.4 0.6 45.2 0.6 -21.1 0.6 -35.6 0.6 -31.8 0.6 60.4 0.6 -40.3 0.6 -6.2 0.6 80.2 0.6 -37.5 0.6 39.4 0.6 -21.5 0.6 -21.5 0.6 52.5 0.6 -55.9 0.6 18.7 0.6 3.1 0.6 -21.1 0.6 39.7 0.6 24.3 0.6 -49.9 0.6 22.5 0.6 -16 0.6 29.9 0.6 -6.1 0.6 3.5 0.6 10 0.6 -17.8 0.6 -1 0.6 -24.6 0.6 -116.9 0.6 135.9 0.6 30.5 0.6 -64.6 0.6 56.5 0.6 -13.1 0.6 -17.9 0.6 -10.9 0.6 -0.9 0.6 -4.7 0.6 9.7 0.6 -40.1 0.6 10.4 0.6 42 0.6 -9.9 0.6 39.3 0.6 -64.7 0.6 25 0.6 -73.9 0.6 88.2 0.6 -72.9 0.6 81.2 0.6 21.3 0.6 -23.2 0.6 -35.1 0.6 -23.9 0.6 60.1 0.6 -57.6 0.6 46.4 0.6 0 0.6 -6.2 0.6 -65.6 0.6 52.7 0.6 -3 0.6 55.4 0.6 -50.9 0.6 -2.6 0.6 -47.6 0.6 83.9 0.6 -5.3 0.6 8.5 0.6 -9.1 0.6 -37.9 0.6 44.5 0.6 -65.7 0.6 39.9 0.6 32.4 0.6 -9.4 0.6 19.3 0.6 0 0.6 -73.5 0.6 10.9 0.6 59.1 0.6 -20 0.6 -65.9 0.6 76.6 0.6 -31 0.6 -7.7 0.6 20.6 0.6 -0.4 0.6 4.8 0.6 -14.4 0.6 40.9 0.6 -39.4 0.6 -4.3 0.6 43.7 0.6 -52.1 0.6 43.9 0.6 8.2 0.6 0 0.6 -45.2 0.6 -13.3 0.6 26.9 0.6 31.6 0.6 -41.9 0.6 -34.2"/><path d="M69.8 142.7l0.6 -41.5 0.6 83.6 0.6 0.7 0.6 -51.1 0.6 106.9 0.6 -35.3 0.6 3.5 0.6 63.6 0.6 64.6 0.6 -143.9 0.6 -54.9 0.6 10.9 0.6 -29.8 0.6 195.3 0.6 -133.2 0.6 -68.3 0.6 92.5 0.6 16.9 0.6 -65 0.6 15.1 0.6 -31.2 0.6 30.1 0.6 -61.4 0.6 25.5 0.6 20.2 0.6 26.3 0.6 -50 0.6 58.5 0.6 -72.6 0.6 -10.2 0.6 9 0.6 93.8 0.6 -71 0.6 2.6 0.6 -25 0.6 102.4 0.6 -35.5 0.6 -22.9 0.6 -71.9 0.6 93.6 0.6 -70.4 0.6 35.7 0.6 -86.8 0.6 77.4 0.6 79.9 0.6 -50.9 0.6 -25.9 0.6 -49 0.6 29.4 0.6 46 0.6 37.8 0.6 -52.4 0.6 7.9 0.6 -69.9 0.6 20.2 0.6 101.8 0.6 42.8 0.6 -77.2 0.6 -32.3 0.6 53.7 0.6 -14.9 0.6 -80.2 0.6 23 0.6 106 0.6 -84.7 0.6 10.5 0.6 19 0.6 -35.8 0.6 0.5 0.6 -90.7 0.6 111.2 0.6 40.4 0.6 -6.9 0.6 -52 0.6 -57.1 0.6 66.4 0.6 5.3 0.6 15.2 0.6 29.3 0.6 -16.6 0.6 51.1 0.6 -78.7 0.6 15.3 0.6 14.8 0.6 40.6 0.6 -21.8 0.6 13.5 0.6 -30.5 0.6 22.5 0.6 -21.7 0.6 -24 0.6 -14.7 0.6 98.9 0.6 -29.5 0.6 36.5 0.6 -98.9 0.6 89.2 0.6 -91.5 0.6 77.6 0.6 -59.8 0.6 63.5 0.6 -12.9 0.6 -12.8 0.6 1.8 0.6 9.7 0.6 -29.5 0.6 -23.5 0.6 16.4 0.6 51.8 0.6 81.8 0.6 -106 0.6 130.5 0.6 -150.7 0.6 1.7 0.6 78.7 0.6 -77.8 0.6 47.9 0.6 -80.2 0.6 84 0.6 2.6 0.6 -9 0.6 -35.6 0.6 52.4 0.6 -146.3 0.6 115 0.6 -92.3 0.6 87.7 0.6 0.7 0.6 15.3 0.6 1.5 0.6 -45.8 0.6 -37.4 0.6 48.3 0.6 37.8 0.6 -42.4 0.6 36.8 0.6 107.1 0.6 -142.2 0.6 80.6 0.6 -53.9 0.6 -25.2 0.6 15.7 0.6 -5.3 0.6 -81.7 0.6 27.9 0.6 -27.2 0.6 62.1 0.6 -1.1 0.6 -74.1 0.6 105.7 0.6 -37.5 0.6 9.3 0.6 -7.8 0.6 -14.6 0.6 22.7 0.6 -33 0.6 69 0.6 -53.9 0.6 62.1 0.6 -89.4 0.6 5 0.6 54.2 0.6 11 0.6 -16.5 0.6 -26.5 0.6 86.1 0.6 -22.2 0.6 -80.4 0.6 52.1 0.6 42.3 0.6 53 0.6 -85.4 0.6 58.6 0.6 -77.4 0.6 8.2 0.6 -87.5 0.6 134.6 0.6 -75.9 0.6 75.1 0.6 -6.6 0.6 -31.2 0.6 24.9 0.6 -113.9 0.6 85.8 0.6 26.6 0.6 -132.8 0.6 136.3 0.6 -15.6 0.6 -5.1 0.6 22.6 0.6 -52.7 0.6 -26.8 0.6 105.8 0.6 -34.6 0.6 -3.4 0.6 46.6 0.6 -3.4 0.6 -41.4 0.6 22.6 0.6 -45.8 0.6 -21.5 0.6 26.9 0.6 -3 0.6 47 0.6 -13.4 0.6 -35.9 0.6 -7.2 0.6 24.5 0.6 -22.5 0.6 29.1 0.6 39.7 0.6 -59.1 0.6 26.7 0.6 63.3 0.6 -112 0.6 20.3 0.6 -14.9 0.6 46 0.6 -80.8 0.6 46.6 0.6 -23 0.6 64.5 0.6 -13.3 0.6 -65.6 0.6 55.2 0.6 -1.8 0.6 -63.5 0.6 15.1 0.6 41 0.6 -76.2 0.6 145.3 0.6 -59.6 0.6 17.2 0.6 -84.1 0.6 -5.2 0.6 85.7 0.6 -21.9 0.6 -35.8 0.6 18.6 0.6 11.2 0.6 -34 0.6 -44 0.6 82.9 0.6 43.6 0.6 -36.6 0.6 -2.7 0.6 11.1 0.6 -44.6 0.6 -2.1 0.6 -8.4 0.6 19 0.6 9.3 0.6 47.4 0.6 -24.2 0.6 17.4 0.6 -45.4 0.6 19.4 0.6 -4.1 0.6 -26.1 0.6 35.4 0.6 -61 0.6 0.4 0.6 81.2 0.6 -94.2 0.6 73.5 0.6 12.2 0.6 -13.9 0.6 32.2 0.6 -62.5 0.6 -39.2 0.6 110.1 0.6 -75.7 0.6 -7.3 0.6 -3.6 0.6 0.5 0.6 9.2 0.6 40.3 0.6 -60.9 0.6 25 0.6 -20.7 0.6 21.8 0.6 25.8 0.6 -9.5 0.6 -29 0.6 -19 0.6 118.5 0.6 -23.7 0.6 13 0.6 -36.7 0.6 4.7 0.6 -36.5 0.6 22.8 0.6 -72.3 0.6 85.9 0.6 3.4 0.6 4.1 0.6 -18.3 0.6 -19.8 0.6 29.4 0.6 14.5 0.6 15.6 0.6 -56.7 0.6 31.7 0.6 14.6 0.6 -22.8 0.6 -25.5 0.6 -74.7 0.6 20 0.6 104.9 0.6 -12.8 0.6 56 0.6 1.8 0.6 -3.8 0.6 -105.9 0.6 48.3 0.6 45.7 0.6 -27.2 0.6 -4.4 0.6 6 0.6 -84.4 0.6 137.2 0.6 -56.7 0.6 -23.1 0.6 -9.2 0.6 107.3 0.6 -92.4 0.6 50 0.6 -24.1 0.6 39.8 0.6 -88.2 0.6 -102.3 0.6 92.8 0.6 51.2 0.6 56.9 0.6 -100.9 0.6 -14.1 0.6 86.6 0.6 -75.2 0.6 105.8 0.6 -23.7 0.6 -48 0.6 52.5 0.6 -79.2 0.6 -29.8 0.6 58.1 0.6 -18.4 0.6 -49.1 0.6 46.4 0.6 -35.3 0.6 -6.5 0.6 94.5 0.6 -129.6 0.6 42.6 0.6 43.5 0.6 -30.5 0.6 20.6 0.6 2.4 0.6 42.2 0.6 -19.2 0.6 -2.9 0.6 -63 0.6 24.8 0.6 1.6 0.6 21.1 0.6 -61 0.6 143.7 0.6 -57.1 0.6 -77.6 0.6 57.5 0.6 -47 0.6 -42 0.6 32.5 0.6 87.9 0.6 -46.1 0.6 34.9 0.6 -67.2 0.6 -25.2 0.6 53.9 0.6 -33.1 0.6 29.8 0.6 -91.7 0.6 76.1 0.6 -4.7 0.6 -14.7 0.6 -21.3 0.6 15.3 0.6 30.8 0.6 -3.6 0.6 -19.3 0.6 -3.3 0.6 41.5 0.6 9 0.6 -14.1 0.6 -29.2 0.6 39.4 0.6 27.6 0.6 -30.9 0.6 7.5 0.6 -45.6 0.6 48.6 0.6 -3.4 0.6 -95.7 0.6 61.8 0.6 59.2 0.6 -88.5 0.6 67.7 0.6 20.4 0.6 -60.2 0.6 79.8 0.6 -46.5 0.6 -24.8 0.6 -6.1 0.6 55.4 0.6 0.6 0.6 -15.8 0.6 -52.8 0.6 113.1 0.6 -93 0.6 23.6 0.6 -43.1 0.6 95.7 0.6 -83.1 0.6 78 0.6 -38.8 0.6 27.6 0.6 68.6 0.6 -76.3 0.6 -17.4 0.6 -18.1 0.6 55.3 0.6 17.9 0.6 -62.7 0.6 39.7 0.6 -51.7 0.6 -14.9 0.6 64.9 0.6 -1.3 0.6 16.4 0.6 48.2 0.6 -68.2 0.6 -28 0.6 -13.7 0.6 42.5 0.6 -75.1 0.6 89.2 0.6 -14.1 0.6 14.5 0.6 -3.1 0.6 -4.9 0.6 11.7 0.6 -8.2 0.6 -22.2 0.6 6.6 0.6 33.5 0.6 -50.9 0.6 42.8 0.6 -42 0.6 15.2 0.6 65 0.6 -33.5 0.6 -69.9 0.6 57.1 0.6 -0.2 0.6 -6.7 0.6 -18.9 0.6 -19.8 0.6 33.4 0.6 -80.4 0.6 87 0.6 -3.3 0.6 -9 0.6 -15 0.6 -53.5 0.6 -36.8 0.6 109 0.6 -7.4 0.6 -33.2 0.6 30.2 0.6 -40.4 0.6 69 0.6 -69.5 0.6 107.1 0.6 -94.4 0.6 -6.1 0.6 -74.1 0.6 131.6 0.6 -59.1 0.6 1.8 0.6 58.1 0.6 -42.2 0.6 39.6 0.6 9.1 0.6 10.6 0.6 -39.2 0.6 25.9 0.6 33.9 0.6 -79.2 0.6 66.8 0.6 -82.3 0.6 18.8 0.6 37.8 0.6 23.4 0.6 -20 0.6 13.6 0.6 -26.9 0.6 0.3 0.6 -112.9 0.6 169.5 0.6 -48.8 0.6 -40.7 0.6 -18 0.6 -11.7 0.6 84.1 0.6 -60.5 0.6 105.3 0.6 -63.8 0.6 -40.6 0.6 6.7 0.6 71.5 0.6 -18 0.6 44.2 0.6 -45.3 0.6 21.4 0.6 -50.3 0.6 31.5 0.6 -42.6 0.6 25.8 0.6 6.7 0.6 -76.4 0.6 25 0.6 85.5 0.6 -92.2 0.6 25.9 0.6 -21.6 0.6 36.1 0.6 70.5 0.6 -45.1 0.6 45.1 0.6 -7.4 0.6 -25.2 0.6 -64.2 0.6 43.8 0.6 -4 0.6 -15.4 0.6 51.6 0.6 -64.2 0.6 30.7 0.6 38.3 0.6 -13.1 0.6 -9.9 0.6 -23 0.6 -29.9 0.6 57.1 0.6 -2 0.6 -67.5 0.6 -54.6 0.6 56.1 0.6 56.1 0.6 17.4 0.6 -29.8 0.6 10.7 0.6 36.6 0.6 -69.5 0.6 -46.1 0.6 119 0.6 -1.9 0.6 -10.7 0.6 21 0.6 -60.3 0.6 60.3 0.6 -56.6 0.6 7 0.6 -9.5 0.6 59.1 0.6 -43.5 0.6 -4 0.6 -16.9 0.6 13.2 0.6 28.6 0.6 -54.3 0.6 -10.5 0.6 0.3 0.6 66.8 0.6 -38.6 0.6 42.6 0.6 -25.3 0.6 -27.7 0.6 69.3 0.6 -151.3 0.6 59.7 0.6 63.5 0.6 -7.4 0.6 -15.1 0.6 0.9 0.6 32.6 0.6 -34.5 0.6 45.3 0.6 -33.5 0.6 -85.6 0.6 68.7 0.6 7.8 0.6 -71.3 0.6 48.3 0.6 -13.1 0.6 38.3 0.6 -58.7 0.6 51 0.6 -44 0.6 8.5 0.6 -43.5 0.6 28.3 0.6 39.4 0.6 29.1 0.6 -21.4 0.6 10.2 0.6 -80.7 0.6 73.6 0.6 54.9 0.6 -83.9 0.6 -17.1 0.6 58.7 0.6 -55 0.6 67.5 0.6 -48.8 0.6 15.9 0.6 -18.5 0.6 -4.2 0.6 36.6 0.6 -51.5 0.6 47.1 0.6 -19.4 0.6 -51.3 0.6 82.9 0.6 -29.2 0.6 -60.2 0.6 13.6 0.6 69.5 0.6 -1.6 0.6 -39.3 0.6 40.4 0.6 -21.5 0.6 43.3 0.6 -65.6 0.6 74.1 0.6 -54.4 0.6 -22.7 0.6 46.8 0.6 28.4 0.6 -10.7 0.6 23.7 0.6 -132.9 0.6 132.5 0.6 -24 0.6 -51.9 0.6 10.5 0.6 -39.6 0.6 -12.1 0.6 33.7 0.6 19.7 0.6 15.2 0.6 -12.1 0.6 -45.8 0.6 12.5 0.6 -1.4 0.6 77 0.6 -28.1 0.6 -2.6 0.6 -4.4 0.6 13.5 0.6 -62.1 0.6 -15.7 0.6 -30.8 0.6 92.8 0.6 -17.1 0.6 -8 0.6 3.9 0.6 28.9 0.6 -61.1 0.6 98 0.6 -46.6 0.6 42.8 0.6 -86.2 0.6 70.1 0.6 -6.4 0.6 -36.1 0.6 34 0.6 -42.7 0.6 26.4 0.6 -92.6 0.6 117.3 0.6 -10.7"/><path d="M69.8 195.1l0.6 -18.4 0.6 17.2 0.6 -17.3 0.6 -29.3 0.6 33.5 0.6 7.4 0.6 -14.6 0.6 -18.9 0.6 18.7 0.6 -25.8 0.6 -1.8 0.6 14.4 0.6 -21.2 0.6 34.3 0.6 -55.5 0.6 35.8 0.6 -21.7 0.6 47.7 0.6 46.5 0.6 -38.4 0.6 -18.5 0.6 -16.8 0.6 19.1 0.6 -74.8 0.6 120.6 0.6 20.6 0.6 -62.8 0.6 16.7 0.6 -29.1 0.6 -31.7 0.6 -95 0.6 176.5 0.6 -10 0.6 -40.4 0.6 54.6 0.6 -27.2 0.6 -95.7 0.6 64.9 0.6 -2.3 0.6 -56.1 0.6 122.5 0.6 -75.6 0.6 7.8 0.6 -15.9 0.6 55.2 0.6 -21.6 0.6 -16.2 0.6 -40.9 0.6 69.4 0.6 -63.4 0.6 118.3 0.6 -108.6 0.6 -16.6 0.6 77.9 0.6 -24.8 0.6 -13.4 0.6 -13.4 0.6 -43.4 0.6 50.1 0.6 21.1 0.6 -0.4 0.6 -21.7 0.6 -23.5 0.6 26.5 0.6 38.5 0.6 -7.3 0.6 17.5 0.6 3.8 0.6 -12.2 0.6 3.9 0.6 -59.9 0.6 84.4 0.6 -48.1 0.6 49.6 0.6 -81.8 0.6 25 0.6 -45 0.6 36 0.6 65.7 0.6 -38.3 0.6 25.8 0.6 -2.7 0.6 20 0.6 -25.2 0.6 -13.2 0.6 -4.3 0.6 -107.9 0.6 124.9 0.6 -7.4 0.6 7.2 0.6 6.8 0.6 2.8 0.6 -11.4 0.6 9.8 0.6 -37 0.6 16 0.6 50.7 0.6 -32.7 0.6 -9.6 0.6 21.3 0.6 -0.7 0.6 -4.1 0.6 -25.7 0.6 17.8 0.6 27.2 0.6 -17.9 0.6 -53.3 0.6 91.3 0.6 -62.3 0.6 33.9 0.6 -178.4 0.6 147.2 0.6 21.4 0.6 6 0.6 64.5 0.6 -48.9 0.6 -107.7 0.6 76.1 0.6 22.8 0.6 -10.2 0.6 -2.1 0.6 38.9 0.6 -41.4 0.6 -15 0.6 81.3 0.6 -55.1 0.6 128 0.6 -63.5 0.6 -109 0.6 -19.2 0.6 -30.4 0.6 134.2 0.6 -48.7 0.6 8.2 0.6 -59.4 0.6 34.1 0.6 9.4 0.6 -24.1 0.6 41.5 0.6 -60.6 0.6 55.4 0.6 -63 0.6 42 0.6 -3 0.6 51.2 0.6 16.8 0.6 0.4 0.6 -83.9 0.6 112 0.6 -154.4 0.6 76.1 0.6 36.9 0.6 -67.3 0.6 62.2 0.6 -48.9 0.6 13.7 0.6 -68.4 0.6 13.6 0.6 -2 0.6 62.9 0.6 -77.5 0.6 61.2 0.6 -8.7 0.6 -15 0.6 8 0.6 63.8 0.6 -80.8 0.6 91.4 0.6 -82.8 0.6 25.2 0.6 -6.5 0.6 45.5 0.6 -87.7 0.6 53.3 0.6 -45.9 0.6 68.4 0.6 -0.3 0.6 -31.5 0.6 -44.2 0.6 97.9 0.6 -26.4 0.6 -2.6 0.6 -9.2 0.6 7.6 0.6 -70 0.6 16.7 0.6 31.4 0.6 -38 0.6 -8.8 0.6 73.6 0.6 3.6 0.6 -62.4 0.6 -66.1 0.6 195.5 0.6 -71.1 0.6 -63.6 0.6 69.5 0.6 -73.9 0.6 29.4 0.6 59.9 0.6 -28.4 0.6 -38.4 0.6 54.5 0.6 -64.1 0.6 12.9 0.6 28.4 0.6 -31.5 0.6 34.7 0.6 -26.2 0.6 51.2 0.6 -105 0.6 77.3 0.6 -64.7 0.6 -44.3 0.6 26.4 0.6 73.7 0.6 -7.3 0.6 10 0.6 -15.3 0.6 49 0.6 38.1 0.6 -84.6 0.6 13.6 0.6 -66.8 0.6 -11.3 0.6 136 0.6 -15 0.6 -70 0.6 -17.1 0.6 49.2 0.6 4.4 0.6 76 0.6 -174.9 0.6 131.8 0.6 -50.6 0.6 11.4 0.6 49.3 0.6 -70 0.6 -26.1 0.6 69.8 0.6 -7.5 0.6 -22.1 0.6 -13.4 0.6 6.5 0.6 70.9 0.6 2.7 0.6 -12.8 0.6 95.9 0.6 -64.3 0.6 -41 0.6 17.1 0.6 7.3 0.6 -66.5 0.6 25.9 0.6 -21 0.6 41.4 0.6 9.2 0.6 17.1 0.6 -37.9 0.6 83.4 0.6 -43 0.6 -53.4 0.6 -11.1 0.6 37.7 0.6 41 0.6 -64 0.6 48.2 0.6 -21 0.6 31.2 0.6 -112.4 0.6 15.3 0.6 93.3 0.6 13.7 0.6 -41.2 0.6 -25.5 0.6 -27.8 0.6 54.4 0.6 44.7 0.6 -55.3 0.6 1.3 0.6 72 0.6 -54.2 0.6 1.7 0.6 25.8 0.6 -41.7 0.6 -35.1 0.6 2.5 0.6 72.6 0.6 -11.1 0.6 -45.7 0.6 37.5 0.6 1 0.6 -104.8 0.6 182.7 0.6 -66.2 0.6 7.2 0.6 -27.3 0.6 -72.8 0.6 76.2 0.6 4.8 0.6 -14 0.6 15 0.6 -22.1 0.6 -96.3 0.6 131.9 0.6 -16.5 0.6 -4.2 0.6 84.3 0.6 -109.3 0.6 24.9 0.6 78.6 0.6 -71.9 0.6 -13.5 0.6 35.3 0.6 -74.9 0.6 64.1 0.6 35.7 0.6 -87.4 0.6 36.6 0.6 -8.7 0.6 63.6 0.6 -11 0.6 -15.5 0.6 -29.2 0.6 -0.9 0.6 -63.9 0.6 -7.7 0.6 61.3 0.6 7.3 0.6 -86.6 0.6 80.1 0.6 -42.8 0.6 59.1 0.6 -12.4 0.6 4.7 0.6 12.2 0.6 -40.2 0.6 43.1 0.6 -23.9 0.6 -23.9 0.6 -75.4 0.6 159.8 0.6 -72.6 0.6 -26.5 0.6 42.9 0.6 -54.3 0.6 13.9 0.6 0.7 0.6 38.5 0.6 -10 0.6 -0.6 0.6 26.3 0.6 -46.4 0.6 46.9 0.6 -4.5 0.6 13.2 0.6 -100.2 0.6 71.4 0.6 11.4 0.6 -72.5 0.6 51.6 0.6 -33.7 0.6 21.2 0.6 -24.4 0.6 6.4 0.6 87 0.6 -144.3 0.6 19.1 0.6 99.9 0.6 -96.8 0.6 47.4 0.6 -15.6 0.6 -51.1 0.6 11.8 0.6 0.2 0.6 -44.9 0.6 39.1 0.6 72.3 0.6 28.4 0.6 -90.9 0.6 103.1 0.6 -52.7 0.6 0.1 0.6 14.5 0.6 -88.3 0.6 44.2 0.6 23.3 0.6 -47.9 0.6 56 0.6 -68.6 0.6 -35.7 0.6 93.3 0.6 2 0.6 -55.6 0.6 124.4 0.6 -20.4 0.6 -8.9 0.6 20.9 0.6 -62.5 0.6 -11.7 0.6 15 0.6 1.3 0.6 -38.7 0.6 -5.2 0.6 -5.6 0.6 60.4 0.6 -5 0.6 -59.9 0.6 46.9 0.6 -36.5 0.6 78 0.6 -16.1 0.6 27.3 0.6 -24.1 0.6 -16.8 0.6 39 0.6 -99.6 0.6 135 0.6 -84.6 0.6 75.4 0.6 -47.4 0.6 41 0.6 -27.6 0.6 2 0.6 30.5 0.6 14.4 0.6 -14.3 0.6 -21.1 0.6 -31.5 0.6 -31.7 0.6 124.3 0.6 -73 0.6 32.7 0.6 -12.5 0.6 -10.7 0.6 -18.8 0.6 17.1 0.6 15.9 0.6 -62.5 0.6 54 0.6 9.3 0.6 -44 0.6 79.6 0.6 -6.8 0.6 -85 0.6 62.6 0.6 55.9 0.6 -91.1 0.6 -17 0.6 69.1 0.6 18.1 0.6 -39.7 0.6 -13.9 0.6 28.5 0.6 9.3 0.6 -46.9 0.6 -1.3 0.6 69.7 0.6 -18.1 0.6 -24.4 0.6 7.7 0.6 -27.4 0.6 -13.5 0.6 -56.2 0.6 60 0.6 -24.2 0.6 84.8 0.6 -27.6 0.6 -66.4 0.6 87.4 0.6 -101.2 0.6 31.1 0.6 15.7 0.6 9.1 0.6 32 0.6 -3.2 0.6 -15.7 0.6 -4.9 0.6 -68.3 0.6 84.3 0.6 -11.2 0.6 31 0.6 -64.5 0.6 5.9 0.6 -44.9 0.6 -33.9 0.6 55.2 0.6 54.2 0.6 -42.7 0.6 -2.7 0.6 13.4 0.6 37 0.6 -53.7 0.6 56.9 0.6 -39.9 0.6 8.6 0.6 75.3 0.6 -111.8 0.6 -60.8 0.6 99.7 0.6 10.2 0.6 -61.8 0.6 83.1 0.6 -46.9 0.6 -8.8 0.6 32 0.6 -19.4 0.6 30.8 0.6 -10.6 0.6 -49.3 0.6 60.8 0.6 -11.6 0.6 5.1 0.6 -47.7 0.6 35.2 0.6 19 0.6 -46.5 0.6 79.3 0.6 -3.2 0.6 -73.4 0.6 -61.6 0.6 93.1 0.6 -32.2 0.6 60.7 0.6 -51.2 0.6 -2.4 0.6 -14.4 0.6 52.3 0.6 -104.5 0.6 110.8 0.6 -93.2 0.6 97.1 0.6 -67.4 0.6 -20.8 0.6 -31.8 0.6 90.1 0.6 48.4 0.6 -84.5 0.6 59.7 0.6 10.1 0.6 -12.2 0.6 8.9 0.6 -59.4 0.6 23.2 0.6 -18.4 0.6 -5.9 0.6 49.2 0.6 -41.4 0.6 -18.9 0.6 -24.1 0.6 66.3 0.6 17.5 0.6 19 0.6 -13.5 0.6 -13.4 0.6 -8.5 0.6 49.9 0.6 -25.4 0.6 -4.5 0.6 10.6 0.6 1 0.6 -30.2 0.6 41.3 0.6 -44.5 0.6 48.6 0.6 -37.3 0.6 39.3 0.6 -75 0.6 17.4 0.6 -22.4 0.6 73.8 0.6 14.9 0.6 0.4 0.6 -30.7 0.6 -45.5 0.6 13.9 0.6 1.7 0.6 59.2 0.6 -74.2 0.6 13.6 0.6 41.1 0.6 47.4 0.6 -40.3 0.6 -17.6 0.6 -62.2 0.6 51.5 0.6 8.8 0.6 -61.3 0.6 1.1 0.6 44.4 0.6 -9.5 0.6 -24.3 0.6 65.6 0.6 -34.1 0.6 25.8 0.6 14.5 0.6 -44.9 0.6 -23.4 0.6 -29.4 0.6 41.3 0.6 -14.2 0.6 48.2 0.6 37.4 0.6 -26 0.6 -32.7 0.6 31.1 0.6 -89.4 0.6 26.3 0.6 52.5 0.6 -72.6 0.6 41.1 0.6 -38 0.6 68.6 0.6 -36.2 0.6 37.3 0.6 -8.1 0.6 -43.4 0.6 -29.3 0.6 68.1 0.6 -6.5 0.6 36 0.6 -17.5 0.6 -26 0.6 54.3 0.6 -22.5 0.6 18.7 0.6 -38.7 0.6 -26.4 0.6 21.2 0.6 21.7 0.6 19.6 0.6 19.2 0.6 -47.7 0.6 -57.2 0.6 66.3 0.6 -5.4 0.6 10 0.6 18.9 0.6 -71.8 0.6 13.7 0.6 69.4 0.6 -7.6 0.6 -85.9 0.6 75.4 0.6 -22.2 0.6 26.5 0.6 -40.5 0.6 33.7 0.6 -4.9 0.6 14.4 0.6 -103.1 0.6 -26.6 0.6 91 0.6 -16.9 0.6 4 0.6 21.8 0.6 3.3 0.6 7.1 0.6 -39.2 0.6 64.2 0.6 -11.4 0.6 -48.5 0.6 66.9 0.6 -100.8 0.6 68.8 0.6 -12.7 0.6 -43 0.6 51.4 0.6 -4 0.6 19.5 0.6 -32.1 0.6 -5.7 0.6 48.9 0.6 -45 0.6 -10.7 0.6 20.7 0.6 35.6 0.6 -50.2 0.6 -15 0.6 61.2 0.6 35.6 0.6 -25.8 0.6 -20.1 0.6 -39.1 0.6 5.9 0.6 19.7 0.6 40.1 0.6 -39.5 0.6 22.2 0.6 36.6 0.6 0"/><path d="M69.8 159.9l0.6 -44.3 0.6 -13.4 0.6 -53.8 0.6 117.3 0.6 -65.5 0.6 179.4 0.6 -213.2 0.6 94.1 0.6 -64.6 0.6 74.5 0.6 -38.9 0.6 -4.4 0.6 56.4 0.6 -1.3 0.6 116.4 0.6 -168 0.6 35.7 0.6 3.8 0.6 -71.6 0.6 43.9 0.6 6.4 0.6 90.3 0.6 -85 0.6 22.6 0.6 -61.7 0.6 70.3 0.6 28.2 0.6 -35.3 0.6 -101 0.6 126 0.6 -94.8 0.6 72.5 0.6 82.8 0.6 -116.5 0.6 -84.2 0.6 96.9 0.6 63.3 0.6 -31.2 0.6 27.5 0.6 -170.4 0.6 117.7 0.6 151.1 0.6 -159.7 0.6 21.1 0.6 60.4 0.6 -16.9 0.6 -19.6 0.6 -77.9 0.6 100 0.6 12.8 0.6 -68.1 0.6 66.3 0.6 23.5 0.6 -42.1 0.6 -34 0.6 25.7 0.6 23.3 0.6 -74 0.6 3.7 0.6 150.9 0.6 -30.9 0.6 -13.6 0.6 -36.1 0.6 -15.8 0.6 11 0.6 -6 0.6 -14.5 0.6 90.2 0.6 51.4 0.6 -135.3 0.6 -36.9 0.6 40.7 0.6 26.6 0.6 -41.1 0.6 35.8 0.6 55.8 0.6 -54.6 0.6 -46.3 0.6 15.2 0.6 -13.7 0.6 46.4 0.6 -43.5 0.6 -40.5 0.6 72.9 0.6 6.3 0.6 -73.2 0.6 46.7 0.6 57.2 0.6 -38.6 0.6 -74.6 0.6 43 0.6 -73 0.6 59.8 0.6 14.4 0.6 -37.6 0.6 69 0.6 -72.1 0.6 49.9 0.6 5.3 0.6 -25.2 0.6 31.9 0.6 27.7 0.6 -11.4 0.6 -58.2 0.6 10 0.6 8.7 0.6 -31.2 0.6 66.8 0.6 -19.4 0.6 -94.6 0.6 114.9 0.6 -98.8 0.6 71.7 0.6 -35.6 0.6 13.8 0.6 20.5 0.6 -15.3 0.6 -42.1 0.6 72.9 0.6 9.6 0.6 -78.6 0.6 57.5 0.6 -8.1 0.6 0.5 0.6 8.3 0.6 58.7 0.6 -71 0.6 13.5 0.6 34.7 0.6 -31.3 0.6 -34 0.6 -73.4 0.6 106.5 0.6 -87.8 0.6 84.5 0.6 -42 0.6 34.7 0.6 -49.2 0.6 29.5 0.6 24.1 0.6 44.6 0.6 -111 0.6 108.7 0.6 -35.1 0.6 -112.3 0.6 74.4 0.6 7.3 0.6 -2.2 0.6 -5.9 0.6 28.5 0.6 -33.3 0.6 24.6 0.6 8.3 0.6 -38.9 0.6 -7.8 0.6 13.8 0.6 -28.9 0.6 -44.3 0.6 7.5 0.6 78.6 0.6 49.8 0.6 -99.7 0.6 50.3 0.6 -31.5 0.6 54.9 0.6 -58.1 0.6 86.8 0.6 -52.8 0.6 62.9 0.6 -151.2 0.6 110.2 0.6 77.2 0.6 -150.2 0.6 15.1 0.6 -18.9 0.6 111.6 0.6 -63 0.6 -44.9 0.6 72.3 0.6 -27.1 0.6 29.3 0.6 4.7 0.6 -80.6 0.6 98.2 0.6 -33.7 0.6 -25.8 0.6 25.5 0.6 -38.3 0.6 122.7 0.6 -137.3 0.6 102 0.6 -37.7 0.6 5.8 0.6 -39.1 0.6 31 0.6 11.1 0.6 -53.4 0.6 -65.6 0.6 125.8 0.6 1.8 0.6 -2.8 0.6 22.6 0.6 -0.2 0.6 -27.8 0.6 -56.4 0.6 57.9 0.6 12.2 0.6 -31.1 0.6 30.3 0.6 -163.3 0.6 55.5 0.6 71.7 0.6 70.8 0.6 -42.1 0.6 13.2 0.6 -0.7 0.6 53.6 0.6 -66 0.6 3.9 0.6 3.3 0.6 22.5 0.6 -68.8 0.6 54.5 0.6 59.4 0.6 -51.8 0.6 -79.2 0.6 -17.5 0.6 103 0.6 -36.6 0.6 -32.6 0.6 -15.7 0.6 65.5 0.6 -33.3 0.6 34.5 0.6 54.6 0.6 -113.8 0.6 47.8 0.6 -21.1 0.6 31 0.6 24.8 0.6 -12.3 0.6 -32.7 0.6 64.9 0.6 -117.6 0.6 -32.7 0.6 208.7 0.6 -141.9 0.6 58.6 0.6 -41.1 0.6 21.2 0.6 14.8 0.6 -45.3 0.6 37.9 0.6 -62.5 0.6 55 0.6 70.6 0.6 -50.9 0.6 -4.9 0.6 21 0.6 27.9 0.6 -134.1 0.6 90.4 0.6 -0.9 0.6 67.4 0.6 -89.4 0.6 26.2 0.6 -50.2 0.6 -27.3 0.6 97.4 0.6 3.4 0.6 -75.2 0.6 4 0.6 35.5 0.6 -18.9 0.6 40.5 0.6 -9.7 0.6 -0.5 0.6 96.4 0.6 -126.4 0.6 -1.8 0.6 65.6 0.6 -14.4 0.6 -28.8 0.6 -19.3 0.6 29.4 0.6 16.1 0.6 -31.3 0.6 12.2 0.6 39.8 0.6 -24.8 0.6 1.8 0.6 -39.6 0.6 76.5 0.6 -20.9 0.6 -14.9 0.6 -13.6 0.6 -104.7 0.6 111.5 0.6 -51.3 0.6 12.7 0.6 -23.4 0.6 -19.9 0.6 52.6 0.6 57.5 0.6 -21.7 0.6 -77.7 0.6 -29.6 0.6 39.8 0.6 -50.9 0.6 77.9 0.6 57.7 0.6 -30.7 0.6 -8.7 0.6 -28.4 0.6 3.3 0.6 67.2 0.6 -81.1 0.6 70.6 0.6 -29.1 0.6 -16.6 0.6 -1.8 0.6 8.8 0.6 39.7 0.6 -12.8 0.6 -43.9 0.6 55.5 0.6 26.9 0.6 45 0.6 -85.2 0.6 31.7 0.6 -29.9 0.6 38 0.6 -22.4 0.6 -1.5 0.6 -49.8 0.6 69.5 0.6 13.9 0.6 -46.2 0.6 -27.6 0.6 64.7 0.6 -48.6 0.6 17.6 0.6 -15 0.6 90.8 0.6 -76 0.6 12.2 0.6 -14.1 0.6 31.4 0.6 -19.2 0.6 65.7 0.6 -67.1 0.6 -52 0.6 47 0.6 5 0.6 -7.8 0.6 -41.2 0.6 79.7 0.6 36.4 0.6 -13.6 0.6 -19.2 0.6 -28.1 0.6 -22 0.6 56.6 0.6 15 0.6 -71 0.6 -5.6 0.6 68.2 0.6 -56 0.6 32.7 0.6 13.5 0.6 -14 0.6 33.4 0.6 10.1 0.6 0 0.6 -13 0.6 -42.9 0.6 -2.9 0.6 -14.3 0.6 63.6 0.6 -33.4 0.6 42.9 0.6 0 0.6 -77.5 0.6 38.7 0.6 -75.1 0.6 46.6 0.6 41.5 0.6 9.7 0.6 16.1 0.6 -90.9 0.6 12.5 0.6 -115.4 0.6 66.7 0.6 67.2 0.6 54.7 0.6 5.2 0.6 -37 0.6 -13.8 0.6 50.8 0.6 -75.1 0.6 -11.6 0.6 69.2 0.6 -30.3 0.6 47.8 0.6 -93.8 0.6 66.9 0.6 9.2 0.6 17.7 0.6 -25.4 0.6 25.4 0.6 -104.3 0.6 17.4 0.6 64.7 0.6 -15 0.6 -28 0.6 -6.3 0.6 37.2 0.6 -92.4 0.6 30.2 0.6 -62.4 0.6 158.9 0.6 -18.7 0.6 -86.2 0.6 21 0.6 17.3 0.6 27.3 0.6 -59.6 0.6 37.8 0.6 -76.8 0.6 10.6 0.6 7.9 0.6 104.7 0.6 -79 0.6 -63.6 0.6 -3.8 0.6 26 0.6 4.6 0.6 75.2 0.6 -89.6 0.6 -18.1 0.6 64.1 0.6 -3.7 0.6 29.2 0.6 -14.4 0.6 19.8 0.6 -31.8 0.6 28.5 0.6 43.8 0.6 -30.2 0.6 -37.4 0.6 9.2 0.6 -54.1 0.6 22 0.6 -14 0.6 59.1 0.6 -48.4 0.6 68.8 0.6 -0.8 0.6 -59 0.6 28.8 0.6 34.7 0.6 -65 0.6 -21.5 0.6 30.3 0.6 -23.4 0.6 17.1 0.6 0.5 0.6 64 0.6 41.5 0.6 -55.1 0.6 60.4 0.6 -53.7 0.6 18.4 0.6 -38.7 0.6 25.6 0.6 -20.8 0.6 27 0.6 -19.4 0.6 -70.7 0.6 95.1 0.6 28.5 0.6 -119.4 0.6 27.7 0.6 33.5 0.6 10.7 0.6 -23.5 0.6 22.8 0.6 -50.6 0.6 49 0.6 9.9 0.6 -40.4 0.6 46.3 0.6 -46 0.6 59.3 0.6 -21.1 0.6 -21.7 0.6 27 0.6 -60.6 0.6 42.9 0.6 -9.5 0.6 72.4 0.6 -86.7 0.6 19.7 0.6 67 0.6 -72.5 0.6 -3.3 0.6 33.1 0.6 13.1 0.6 12.5 0.6 -46.7 0.6 0 0.6 7 0.6 -88.3 0.6 83.2 0.6 -4.9 0.6 58.2 0.6 -63.9 0.6 -26 0.6 63.1 0.6 -111.8 0.6 101.4 0.6 -20.2 0.6 14.5 0.6 0.5 0.6 51 0.6 -95.5 0.6 95.5 0.6 -111.7 0.6 83.5 0.6 -19.1 0.6 -117.3 0.6 131.2 0.6 -22.9 0.6 32.7 0.6 -33.8 0.6 -20.4 0.6 -48 0.6 125.8 0.6 -60.6 0.6 -25 0.6 -12.3 0.6 57.6 0.6 -24.4 0.6 -73.1 0.6 61.9 0.6 -71.8 0.6 122.5 0.6 -16.3 0.6 -21.1 0.6 31.7 0.6 -54.9 0.6 58.7 0.6 -45.3 0.6 60.7 0.6 -23.6 0.6 -32.5 0.6 -13.7 0.6 50.7 0.6 21.1 0.6 -69 0.6 50.2 0.6 -43 0.6 -36.4 0.6 26.9 0.6 73.6 0.6 -97.2 0.6 5.2 0.6 59.1 0.6 -4.9 0.6 -66.1 0.6 45.1 0.6 -4.3 0.6 -26.8 0.6 22.5 0.6 -92.1 0.6 57.9 0.6 48.4 0.6 0.9 0.6 11.4 0.6 -53.7 0.6 82.4 0.6 -69.2 0.6 49 0.6 39.8 0.6 -93 0.6 22.1 0.6 5.6 0.6 16.8 0.6 -8.1 0.6 17.1 0.6 -69.3 0.6 -1.5 0.6 53.4 0.6 -1.8 0.6 -9.4 0.6 -25.3 0.6 26.7 0.6 19.4 0.6 -6.6 0.6 -16.7 0.6 13.5 0.6 6.2 0.6 -59.8 0.6 32.1 0.6 -20.5 0.6 60.9 0.6 -58.8 0.6 32.1 0.6 7.8 0.6 11.6 0.6 -1.5 0.6 -4.9 0.6 -18.3 0.6 7.7 0.6 -84 0.6 61.3 0.6 9.5 0.6 13.2 0.6 19.4 0.6 0.5 0.6 -37.3 0.6 61.1 0.6 -111.5 0.6 2.5 0.6 108.4 0.6 -93.4 0.6 4.8 0.6 -0.6 0.6 18.7 0.6 -38.2 0.6 88.6 0.6 -9.6 0.6 -35.3 0.6 22.5 0.6 46.2 0.6 -74.8 0.6 -7.4 0.6 45.5 0.6 -17.7 0.6 -22.2 0.6 92.3 0.6 -39.8 0.6 10.9 0.6 -21.1 0.6 36.7 0.6 2.5 0.6 -46.7 0.6 -60.7 0.6 109.5 0.6 -98.2 0.6 27.2 0.6 -0.7 0.6 -11.4 0.6 58.7 0.6 -48.7 0.6 81.8 0.6 -17.1 0.6 -35 0.6 -11.4 0.6 63.5 0.6 0 0.6 -51.9 0.6 3.8 0.6 -10.5 0.6 22.4 0.6 36.2 0.6 -72 0.6 12.7 0.6 17.1 0.6 -70.9 0.6 69.2 0.6 -42.2 0.6 53.7 0.6 32.4 0.6 0 0.6 0 0.6 -29.7 0.6 -43.9 0.6 73.6 0.6 -58.6 0.6 28.9 0.6 -35.1 0.6 14.5 0.6 46.1 0.6 -52.7 0.6 16.8 0.6 -28.2 0.6 -42.8 0.6 73.8 0.6 -63.5 0.6 59.1"/><path d="M69.8 161.2l0.6 32.7 0.6 -70.4 0.6 0.9 0.6 -49.9 0.6 70.2 0.6 -40 0.6 73.5 0.6 -45.2 0.6 58.7 0.6 -48.4 0.6 26.6 0.6 -62.6 0.6 128.2 0.6 -74.6 0.6 5.9 0.6 -47.3 0.6 62.6 0.6 -10.6 0.6 -82 0.6 89.2 0.6 -9.7 0.6 -74.3 0.6 140.9 0.6 -105.5 0.6 2.9 0.6 3.8 0.6 83.9 0.6 -14.6 0.6 -20.9 0.6 0.9 0.6 -69.6 0.6 53.7 0.6 -90.3 0.6 70 0.6 -30.9 0.6 61 0.6 -2.2 0.6 -49.6 0.6 -21.3 0.6 73.7 0.6 -93 0.6 74 0.6 -87 0.6 126.7 0.6 -33.4 0.6 -47.7 0.6 35.4 0.6 25 0.6 -58.3 0.6 -13.6 0.6 66.1 0.6 -55.5 0.6 59 0.6 14.1 0.6 -94.6 0.6 88.8 0.6 -1.4 0.6 -57.9 0.6 77.1 0.6 -0.1 0.6 -22.7 0.6 -15.3 0.6 -38.9 0.6 55.9 0.6 17.4 0.6 25.5 0.6 -34.2 0.6 6.3 0.6 -68.4 0.6 118.2 0.6 10.7 0.6 7 0.6 -68.4 0.6 -26 0.6 -55.2 0.6 144.2 0.6 -71.2 0.6 28.9 0.6 -95.5 0.6 63 0.6 -55.6 0.6 70.8 0.6 -46.7 0.6 35 0.6 36.8 0.6 -63.3 0.6 51.5 0.6 105.1 0.6 -111.9 0.6 47.4 0.6 -70.9 0.6 -48.9 0.6 58.5 0.6 -11.4 0.6 72.2 0.6 -20.6 0.6 -8.6 0.6 -112.5 0.6 105.5 0.6 -24.9 0.6 93 0.6 -65.3 0.6 -22.7 0.6 9.1 0.6 5.4 0.6 -27.9 0.6 -2.6 0.6 68.2 0.6 6.3 0.6 -77.9 0.6 -12.1 0.6 91.5 0.6 -84.8 0.6 87 0.6 -51 0.6 -64.4 0.6 128.8 0.6 -69.2 0.6 7.8 0.6 37.1 0.6 -78 0.6 70.1 0.6 -10.8 0.6 19 0.6 -60.6 0.6 -5.4 0.6 -38.3 0.6 71.6 0.6 23.2 0.6 -99.5 0.6 91.9 0.6 -51.5 0.6 -44.8 0.6 40.4 0.6 118.2 0.6 -41.4 0.6 -11 0.6 -65.8 0.6 66.6 0.6 -62.2 0.6 25.8 0.6 2.5 0.6 7 0.6 28.8 0.6 -89.6 0.6 57.5 0.6 -62.8 0.6 104.6 0.6 43 0.6 -140.2 0.6 112 0.6 -52.5 0.6 18.6 0.6 -7.8 0.6 7.3 0.6 34.3 0.6 6 0.6 -58.6 0.6 36.3 0.6 -104.5 0.6 74.3 0.6 -57.8 0.6 79.7 0.6 -50.1 0.6 55.7 0.6 15.8 0.6 -29.7 0.6 -1.6 0.6 -126.2 0.6 177.9 0.6 -33.3 0.6 -54 0.6 34.4 0.6 -11.2 0.6 -26.5 0.6 36.7 0.6 22.9 0.6 31.4 0.6 -56.9 0.6 -23.4 0.6 13.7 0.6 -43.6 0.6 66.9 0.6 -25.1 0.6 43.4 0.6 61.6 0.6 -116.4 0.6 40.8 0.6 -42.5 0.6 50 0.6 47.7 0.6 -33.2 0.6 -25.2 0.6 16.7 0.6 -16 0.6 -30.1 0.6 21.4 0.6 -16.7 0.6 22.9 0.6 22.2 0.6 14.6 0.6 69 0.6 -131.3 0.6 -24.1 0.6 88.3 0.6 -1.7 0.6 -4.5 0.6 -47.5 0.6 8.8 0.6 12.2 0.6 -6.8 0.6 78.2 0.6 -75.5 0.6 2.1 0.6 -24.5 0.6 45.2 0.6 -8.1 0.6 -28.1 0.6 -115.1 0.6 144.7 0.6 -115.7 0.6 128 0.6 -38.9 0.6 37.5 0.6 -98.5 0.6 56.2 0.6 -3.1 0.6 -40.5 0.6 -14.2 0.6 82.9 0.6 -35.4 0.6 27.4 0.6 -73 0.6 145.4 0.6 -196.2 0.6 111.3 0.6 78.1 0.6 -102.8 0.6 44 0.6 -34.4 0.6 -5.4 0.6 -45.5 0.6 123.2 0.6 -93.4 0.6 -36.8 0.6 104.4 0.6 -86.9 0.6 -3.9 0.6 61.7 0.6 52.4 0.6 -85.5 0.6 28.9 0.6 -96.4 0.6 83.8 0.6 -44.7 0.6 16.1 0.6 6.9 0.6 59.2 0.6 -17.9 0.6 -38.6 0.6 8.4 0.6 0.8 0.6 -41.4 0.6 33.8 0.6 -31.4 0.6 29.3 0.6 -13.4 0.6 42.3 0.6 36.7 0.6 -100.3 0.6 -0.4 0.6 10.5 0.6 67.6 0.6 -88 0.6 47.3 0.6 -2.8 0.6 39.8 0.6 -7.7 0.6 7.4 0.6 -45.8 0.6 50 0.6 -29.7 0.6 25.1 0.6 27.2 0.6 -53.1 0.6 -2.4 0.6 3.5 0.6 134.7 0.6 -177.2 0.6 49.5 0.6 39.6 0.6 -126.4 0.6 88.5 0.6 -31.9 0.6 29.5 0.6 101.4 0.6 -148.2 0.6 100 0.6 -92.1 0.6 57.4 0.6 28.3 0.6 70.9 0.6 -81.6 0.6 18.9 0.6 -37.3 0.6 42.6 0.6 -71.6 0.6 54.1 0.6 -1.7 0.6 -107.5 0.6 56.3 0.6 60 0.6 -38.7 0.6 77.3 0.6 -32.8 0.6 -18 0.6 19.3 0.6 9.9 0.6 -62.8 0.6 50.1 0.6 7.8 0.6 -6.4 0.6 2.6 0.6 -56.1 0.6 23.7 0.6 67.8 0.6 -113.5 0.6 12.7 0.6 57.4 0.6 25.2 0.6 -33.6 0.6 20 0.6 -38.9 0.6 22.8 0.6 -55 0.6 117.7 0.6 -41.6 0.6 -28.7 0.6 25.7 0.6 -1.9 0.6 28.2 0.6 -122.6 0.6 87.9 0.6 -32.1 0.6 53.5 0.6 -11 0.6 -12.5 0.6 -71.1 0.6 12.4 0.6 -31.6 0.6 25.1 0.6 1.6 0.6 68.7 0.6 16.2 0.6 -77 0.6 77.7 0.6 -43.2 0.6 39.4 0.6 16.2 0.6 -38.1 0.6 31.7 0.6 -20.4 0.6 -44.9 0.6 41 0.6 -47.1 0.6 54.9 0.6 -26.4 0.6 45.6 0.6 -89.3 0.6 133.7 0.6 -88.4 0.6 -12.4 0.6 100.8 0.6 -19.2 0.6 -5.5 0.6 -51.4 0.6 5.4 0.6 2.4 0.6 -35.4 0.6 -73.5 0.6 131.5 0.6 -46.7 0.6 12.8 0.6 -44.8 0.6 124.4 0.6 -20.8 0.6 -22.1 0.6 0.5 0.6 -43.6 0.6 23.5 0.6 62.5 0.6 -53.1 0.6 34.3 0.6 -33 0.6 -17.6 0.6 19.1 0.6 -75.1 0.6 -44.7 0.6 77.2 0.6 74 0.6 -113.5 0.6 -28.5 0.6 94.5 0.6 -18.3 0.6 -30.7 0.6 39.1 0.6 -44.7 0.6 31.3 0.6 39.6 0.6 -3.4 0.6 -6.9 0.6 14.5 0.6 -73 0.6 43.4 0.6 15.7 0.6 -35 0.6 27.9 0.6 -36.6 0.6 -24.4 0.6 59.5 0.6 23.8 0.6 22.6 0.6 -110.7 0.6 59.5 0.6 30 0.6 -15.7 0.6 35.8 0.6 -90.2 0.6 42.9 0.6 19.8 0.6 42 0.6 -138.5 0.6 81.5 0.6 65.6 0.6 -45.2 0.6 -17.2 0.6 -5.7 0.6 39 0.6 -81.1 0.6 23.4 0.6 19.5 0.6 20.2 0.6 42.6 0.6 -50.1 0.6 -8 0.6 30.3 0.6 -48.9 0.6 -22.4 0.6 45.9 0.6 -2.6 0.6 -11.5 0.6 -72.5 0.6 9 0.6 113.8 0.6 -39.5 0.6 -125 0.6 118.9 0.6 -87.1 0.6 51.9 0.6 -33.2 0.6 66.5 0.6 -18.8 0.6 -20.3 0.6 22.7 0.6 0.8 0.6 -63.5 0.6 66.3 0.6 -63.4 0.6 78.3 0.6 -10.8 0.6 -44.4 0.6 8.4 0.6 -19.8 0.6 38.4 0.6 2.4 0.6 18.2 0.6 33.2 0.6 -36.4 0.6 -61 0.6 46.1 0.6 -11.5 0.6 -43.6 0.6 86.1 0.6 -48.5 0.6 38 0.6 -70.1 0.6 97 0.6 -34.7 0.6 7 0.6 -6.7 0.6 9.7 0.6 -100 0.6 87.2 0.6 -2.2 0.6 42.3 0.6 -3 0.6 -15.8 0.6 13.5 0.6 -60.4 0.6 43.7 0.6 -3 0.6 -11.6 0.6 25.3 0.6 11 0.6 -16.4 0.6 -30.6 0.6 13.7 0.6 23.6 0.6 -91.1 0.6 50.8 0.6 -11.3 0.6 -34.3 0.6 91.2 0.6 -65.8 0.6 29.5 0.6 -0.7 0.6 59.2 0.6 -22.4 0.6 -22.9 0.6 2.7 0.6 -63.6 0.6 73.6 0.6 -19.8 0.6 18.8 0.6 30.3 0.6 -28.5 0.6 -12.3 0.6 -65.2 0.6 20.6 0.6 64 0.6 11.1 0.6 -24.2 0.6 15.2 0.6 -111.8 0.6 65.2 0.6 33.5 0.6 13.6 0.6 16.7 0.6 -28.4 0.6 58.9 0.6 -50.5 0.6 2.1 0.6 -70.2 0.6 115.6 0.6 -90.7 0.6 42.4 0.6 -37.2 0.6 48.7 0.6 -34.2 0.6 -17.1 0.6 -67.9 0.6 120.8 0.6 -19.1 0.6 -0.8 0.6 13 0.6 -13.6 0.6 -3.3 0.6 9.5 0.6 45.1 0.6 -63.1 0.6 52.2 0.6 -41.2 0.6 -40.5 0.6 75.2 0.6 -33.5 0.6 -9.9 0.6 7.8 0.6 11.2 0.6 -12.5 0.6 -24.5 0.6 53.5 0.6 -23.5 0.6 -30.1 0.6 42.4 0.6 19 0.6 -61.5 0.6 3.4 0.6 -9.5 0.6 35.2 0.6 17.7 0.6 -72.5 0.6 11.5 0.6 17.8 0.6 41 0.6 -15.9 0.6 28.5 0.6 6.1 0.6 -32.7 0.6 -5.5 0.6 -7.7 0.6 14 0.6 -70.2 0.6 102.7 0.6 -73.6 0.6 56.3 0.6 -40.9 0.6 57.7 0.6 -105.6 0.6 29.7 0.6 98.9 0.6 -93.4 0.6 39 0.6 -23.4 0.6 28.3 0.6 3.6 0.6 41.4 0.6 -32.3 0.6 -12.7 0.6 49.5 0.6 -21.3 0.6 -30.3 0.6 -12.1 0.6 23.5 0.6 -62.2 0.6 62.5 0.6 -34.6 0.6 -27.9 0.6 67.7 0.6 -64.1 0.6 44.2 0.6 18.7 0.6 -84.8 0.6 -2.8 0.6 69.2 0.6 -50.6 0.6 1.4 0.6 37.1 0.6 -87.5 0.6 87.2 0.6 13.9 0.6 -23.6 0.6 3.3 0.6 10.4 0.6 -7.7 0.6 29 0.6 -67.4 0.6 65.2 0.6 -88 0.6 13.9 0.6 40.3 0.6 -1.9 0.6 8.9 0.6 -27.1 0.6 -69.2 0.6 53.8 0.6 28 0.6 -85.6 0.6 82.3 0.6 -2.8 0.6 -97.6 0.6 56.3 0.6 -21.2 0.6 21.7 0.6 2.8 0.6 -6.1 0.6 -3.4 0.6 -56.1 0.6 130.6 0.6 33.7 0.6 -68.1 0.6 42.9 0.6 -59.5 0.6 52.3 0.6 -47.1 0.6 -40.9 0.6 62.9 0.6 9.3 0.6 -58.8 0.6 60.3 0.6 -25.4 0.6 3 0.6 42 0.6 -82.8 0.6 78.7 0.6 -75.7 0.6 21 0.6 55.6 0.6 -25.9 0.6 -46.2 0.6 45.1 0.6 -95.8 0.6 123.1 0.6 -82.7 0.6 101.4 0.6 -43.8 0.6 -48.1 0.6 101 0.6 -71.6 0.6 49.7 0.6 6.3 0.6 -15.2"/><path d="M69.8 211.1l0.6 -21.8 0.6 -89.1 0.6 -55.5 0.6 186.5 0.6 44.7 0.6 -83.5 0.6 -35.4 0.6 12.5 0.6 18.1 0.6 27.6 0.6 -89.8 0.6 60.5 0.6 4.8 0.6 -26.5 0.6 -69.8 0.6 62.4 0.6 -119 0.6 140.7 0.6 -44.2 0.6 120.7 0.6 -65.7 0.6 -24.5 0.6 26.1 0.6 2.8 0.6 -7.9 0.6 14.8 0.6 -15.3 0.6 -26 0.6 -14.5 0.6 60.5 0.6 -31.1 0.6 21.9 0.6 -76.1 0.6 -40.2 0.6 76.8 0.6 -10.2 0.6 33.8 0.6 -35.8 0.6 35 0.6 39.9 0.6 -109.1 0.6 -48.6 0.6 81.4 0.6 32.6 0.6 -22.4 0.6 -58.2 0.6 101.1 0.6 -51.5 0.6 29.4 0.6 108.6 0.6 -85.8 0.6 -37.6 0.6 12.1 0.6 20.6 0.6 46.9 0.6 -57.8 0.6 4.1 0.6 -15.7 0.6 -60.6 0.6 83.9 0.6 -47 0.6 31.3 0.6 -111.8 0.6 112.9 0.6 -105.4 0.6 166.8 0.6 11.6 0.6 -68.9 0.6 23.2 0.6 -63.3 0.6 25.1 0.6 -0.5 0.6 65.9 0.6 -29.9 0.6 -36.9 0.6 57.7 0.6 -22.4 0.6 -54 0.6 55.7 0.6 -10.1 0.6 -47 0.6 37.6 0.6 81 0.6 -68.9 0.6 2.8 0.6 -12.5 0.6 -97.8 0.6 56.1 0.6 47.6 0.6 29.1 0.6 -65.2 0.6 31.6 0.6 -56.8 0.6 48.1 0.6 -35.1 0.6 77.9 0.6 -24 0.6 -10.2 0.6 32.4 0.6 -51.6 0.6 33.4 0.6 -1.2 0.6 11.3 0.6 -24.2 0.6 61.8 0.6 -113 0.6 23.2 0.6 -9 0.6 -34.8 0.6 47.6 0.6 27.7 0.6 -81.4 0.6 84.3 0.6 -27.3 0.6 101.4 0.6 -68.4 0.6 -24.8 0.6 -33.6 0.6 6.3 0.6 -21.8 0.6 74.5 0.6 0.1 0.6 -37.2 0.6 45.8 0.6 -15.6 0.6 -22.4 0.6 87.7 0.6 -18.7 0.6 -86.1 0.6 53.1 0.6 -69.9 0.6 60.9 0.6 20.5 0.6 -74.9 0.6 43 0.6 -30.9 0.6 49.9 0.6 4.6 0.6 -20.5 0.6 20 0.6 -27 0.6 35.2 0.6 -61.1 0.6 -21 0.6 15.4 0.6 77 0.6 -113.6 0.6 133.6 0.6 -82.8 0.6 5.8 0.6 -31.8 0.6 69.7 0.6 -6.8 0.6 -80.5 0.6 1.8 0.6 99.8 0.6 -29.4 0.6 22.3 0.6 83.6 0.6 -172.1 0.6 86.3 0.6 -32 0.6 -8.1 0.6 66.2 0.6 -95.5 0.6 74.4 0.6 31.4 0.6 -74 0.6 9.6 0.6 32.9 0.6 -19.4 0.6 -83.4 0.6 49.6 0.6 34.6 0.6 17.5 0.6 -103.6 0.6 108.1 0.6 67.1 0.6 -141.7 0.6 79.6 0.6 79.1 0.6 -41 0.6 -1 0.6 47 0.6 -70.8 0.6 -5.5 0.6 -100.6 0.6 83.2 0.6 18.2 0.6 -14.7 0.6 -15.7 0.6 -38.3 0.6 -15.4 0.6 148 0.6 -26 0.6 -58.4 0.6 -94 0.6 111.1 0.6 -72.1 0.6 73.5 0.6 -0.5 0.6 -11.4 0.6 -79.8 0.6 86.1 0.6 -25.2 0.6 -13.8 0.6 -29.7 0.6 39.7 0.6 -41.7 0.6 -40.3 0.6 41.5 0.6 54.5 0.6 -13.2 0.6 -21.7 0.6 24.5 0.6 34.7 0.6 -7.7 0.6 -17.5 0.6 54.9 0.6 -223.8 0.6 97.3 0.6 67.2 0.6 7.7 0.6 -95.3 0.6 120.5 0.6 -14 0.6 -99.2 0.6 53 0.6 -41.2 0.6 31.8 0.6 5.2 0.6 30.9 0.6 -53.5 0.6 12 0.6 1 0.6 32.2 0.6 -76.9 0.6 54.9 0.6 -24.3 0.6 83.8 0.6 18.3 0.6 -104.7 0.6 67.5 0.6 10.3 0.6 -56.1 0.6 -44.6 0.6 78 0.6 2.3 0.6 -33.5 0.6 -3.5 0.6 24.6 0.6 79.2 0.6 -109.1 0.6 73.8 0.6 -133 0.6 132.6 0.6 -40.9 0.6 14.6 0.6 -10.5 0.6 -107.7 0.6 132.2 0.6 -59.1 0.6 49.6 0.6 18.4 0.6 -51.4 0.6 21.5 0.6 25.9 0.6 30.8 0.6 -56.8 0.6 -139.7 0.6 168.4 0.6 -35 0.6 54.2 0.6 -185.8 0.6 219.3 0.6 -30.9 0.6 54.1 0.6 -107.2 0.6 26.2 0.6 -11.9 0.6 21.6 0.6 -73.1 0.6 9.6 0.6 10.5 0.6 163.8 0.6 -74.5 0.6 -36.8 0.6 -35.8 0.6 147.1 0.6 -178.8 0.6 59.5 0.6 -58.6 0.6 117.8 0.6 -15 0.6 11.1 0.6 -15 0.6 6 0.6 42.7 0.6 -128.5 0.6 36.3 0.6 53.9 0.6 59.5 0.6 -139.6 0.6 148.7 0.6 -53.8 0.6 8.1 0.6 -20.6 0.6 -43.4 0.6 -17.4 0.6 27 0.6 56.2 0.6 -99.5 0.6 6.6 0.6 20.5 0.6 -72.8 0.6 147.4 0.6 -11.6 0.6 1.5 0.6 -5.5 0.6 -45.4 0.6 18 0.6 21.6 0.6 -60.7 0.6 50.6 0.6 17.8 0.6 3.3 0.6 31.5 0.6 -45.5 0.6 25.6 0.6 -28.8 0.6 -15.7 0.6 -2.4 0.6 31.4 0.6 -96.1 0.6 126.6 0.6 -71.3 0.6 24.1 0.6 -8.4 0.6 34 0.6 4.1 0.6 -51 0.6 94 0.6 -76.5 0.6 65.6 0.6 10.9 0.6 -74.8 0.6 22.2 0.6 -102.4 0.6 155 0.6 -77.6 0.6 1.3 0.6 -2.2 0.6 21.3 0.6 51.5 0.6 -95 0.6 -0.5 0.6 16.1 0.6 3.8 0.6 -39.9 0.6 10.5 0.6 13.5 0.6 47.6 0.6 -61.1 0.6 71.6 0.6 -43.1 0.6 49.8 0.6 -31.2 0.6 -33.5 0.6 39.8 0.6 -45.3 0.6 52.7 0.6 -83.4 0.6 73.7 0.6 -114.2 0.6 86.7 0.6 25.8 0.6 44.3 0.6 -29.4 0.6 -93.8 0.6 132.3 0.6 7.9 0.6 -68.5 0.6 -36.5 0.6 60.4 0.6 20.4 0.6 -25.4 0.6 0 0.6 -47.5 0.6 -34 0.6 79.5 0.6 26.8 0.6 18 0.6 6.8 0.6 -54.1 0.6 54.1 0.6 -78.8 0.6 29.9 0.6 17.7 0.6 -80.9 0.6 112.1 0.6 -89.4 0.6 27.3 0.6 -5.3 0.6 7.8 0.6 41.8 0.6 -63.2 0.6 -27.8 0.6 108.8 0.6 -67.7 0.6 5.7 0.6 4.4 0.6 -24.1 0.6 18.7 0.6 5.1 0.6 -64.3 0.6 80.7 0.6 -19.9 0.6 -0.6 0.6 10.9 0.6 -10 0.6 -80.3 0.6 88 0.6 -139.8 0.6 164.4 0.6 28.8 0.6 -60.9 0.6 17.8 0.6 -99.4 0.6 34.1 0.6 56.8 0.6 -29 0.6 4.4 0.6 -130.9 0.6 109.8 0.6 -5.9 0.6 -12 0.6 13.4 0.6 10.2 0.6 31.7 0.6 -35.4 0.6 -4.8 0.6 56.1 0.6 -49.5 0.6 47.5 0.6 15.6 0.6 -54.1 0.6 -25.1 0.6 -17.4 0.6 62.8 0.6 30 0.6 -18.2 0.6 -18 0.6 -4.3 0.6 -24.2 0.6 29 0.6 -52 0.6 67.3 0.6 -38.8 0.6 -6.3 0.6 12.4 0.6 -5 0.6 57.6 0.6 -70.1 0.6 52.8 0.6 -9 0.6 27.8 0.6 -44.1 0.6 26.7 0.6 8.6 0.6 -45.7 0.6 50 0.6 -34.2 0.6 6.1 0.6 -11.9 0.6 16.8 0.6 43.9 0.6 -45.7 0.6 -5.9 0.6 -63.5 0.6 1.1 0.6 43 0.6 -3.9 0.6 91.9 0.6 -38.8 0.6 21.6 0.6 -56.2 0.6 3.3 0.6 0.2 0.6 -1.2 0.6 7.2 0.6 14.2 0.6 15.9 0.6 -41 0.6 22.3 0.6 -36.9 0.6 51.5 0.6 -5.5 0.6 18.1 0.6 -46.1 0.6 47.7 0.6 23.7 0.6 -24.1 0.6 -4.4 0.6 -22.6 0.6 11 0.6 -56.7 0.6 36.3 0.6 -23.5 0.6 -17.9 0.6 14.9 0.6 5.5 0.6 45.9 0.6 -27.7 0.6 15.8 0.6 -27.3 0.6 43.1 0.6 -38.3 0.6 35.5 0.6 -39.1 0.6 -20.2 0.6 -0.2 0.6 56.3 0.6 -60.3 0.6 98 0.6 -55.3 0.6 55.3 0.6 -50.9 0.6 42.6 0.6 -40.9 0.6 21.7 0.6 -68.4 0.6 -37.5 0.6 54.2 0.6 -7.2 0.6 22.1 0.6 15.5 0.6 3.9 0.6 33.3 0.6 -15.1 0.6 -51.7 0.6 38.4 0.6 -23.3 0.6 39.2 0.6 -117.8 0.6 38.4 0.6 52.4 0.6 -74.3 0.6 55.9 0.6 -24.5 0.6 44 0.6 8.5 0.6 -66.6 0.6 27.9 0.6 -3.9 0.6 -7.5 0.6 32.7 0.6 16.7 0.6 -24.2 0.6 66.4 0.6 -58 0.6 -39.2 0.6 47.8 0.6 -78.3 0.6 81.5 0.6 22.2 0.6 -51.8 0.6 24.5 0.6 -25.9 0.6 39.8 0.6 -37 0.6 15.3 0.6 -3.6 0.6 -27.6 0.6 57.2 0.6 -17.9 0.6 -45.1 0.6 -4.4 0.6 20.6 0.6 59.4 0.6 -39.8 0.6 16.9 0.6 -2.3 0.6 43.2 0.6 2.5 0.6 -89.1 0.6 7.2 0.6 76.1 0.6 -38.2 0.6 -11.5 0.6 18.2 0.6 -32.3 0.6 26.4 0.6 34.4 0.6 -33.8 0.6 -25.5 0.6 41 0.6 -53.6 0.6 -12.2 0.6 17.4 0.6 1.6 0.6 20.9 0.6 -20.9 0.6 38.9 0.6 35 0.6 -36.3 0.6 -75.1 0.6 16.4 0.6 69.8 0.6 -26 0.6 14.1 0.6 15.1 0.6 -27.1 0.6 -38.5 0.6 27.5 0.6 7.8 0.6 52.3 0.6 -145.6 0.6 119.7 0.6 -35 0.6 -31.4 0.6 24.9 0.6 -26.8 0.6 94.2 0.6 -37.9 0.6 -6.4 0.6 20.9 0.6 8.2 0.6 -84 0.6 71.9 0.6 -81.7 0.6 7.5 0.6 45.7 0.6 31 0.6 -24.8 0.6 3.4 0.6 -1.9 0.6 3.4 0.6 -24.4 0.6 11.1 0.6 -6.7 0.6 -1 0.6 -49.7 0.6 -31.3 0.6 79.9 0.6 4 0.6 2.3 0.6 -43.1 0.6 10.9 0.6 23.7 0.6 9 0.6 -26.7 0.6 -18.4 0.6 53.7 0.6 -28.2 0.6 75.4 0.6 -39.5 0.6 -36.1 0.6 67.9 0.6 -2.1 0.6 -54.7 0.6 68.7 0.6 -50.5 0.6 -88.8 0.6 69.8 0.6 -55.2 0.6 8.4 0.6 81.3 0.6 -15.8 0.6 -16.4 0.6 -28.5 0.6 -12.8 0.6 26.6 0.6 17.9 0.6 41.4 0.6 -69.5 0.6 54.1 0.6 -51.3 0.6 -13.9 0.6 96.3 0.6 -123.5 0.6 81.3 0.6 -44.1 0.6 5.2 0.6 -36.8 0.6 26.6 0.6 -18.3 0.6 31.4 0.6 52.1 0.6 -18 0.6 -29.6 0.6 -11.1"/></g>
<path d="M104 121.9l0.9 -21.8 0.9 -13.9 0.9 31.2 0.9 69 0.9 -76 0.9 -9.9 0.9 25.3 0.9 2 0.9 -15.4 0.9 -52.2 0.9 30.7 0.9 0.2 0.9 29.1 0.9 -31.1 0.9 8.5 0.9 -22 0.9 12.3 0.9 65.5 0.9 -32.9 0.9 -9.4 0.9 -30.3 0.9 -8.9 0.9 54.1 0.9 -24.7 0.9 14.8 0.9 -7 0.9 -4 0.9 -62.3 0.9 81.4 0.9 20.8 0.9 -40.3 0.9 -5.7 0.9 9.5 0.9 -11.1 0.9 -37.7 0.9 35.5 0.9 8.6 0.9 25.9 0.9 -48.8 0.9 16.2 0.9 8.9 0.9 11.6 0.9 36.3 0.9 -30.3 0.9 1.3 0.9 -43.6 0.9 68.1 0.9 -78.8 0.9 74.7 0.9 -10.6 0.9 -17.6 0.9 -26.8 0.9 39.1 0.9 -23.3 0.9 44.7 0.9 -101.9 0.9 73.3 0.9 -64.1 0.9 65.6 0.9 -8.4 0.9 28.6 0.9 -46.8 0.9 4.6 0.9 -27.5 0.9 41.9 0.9 15.7 0.9 -9.3 0.9 -16.6 0.9 18.8 0.9 19.6 0.9 -5.3 0.9 -53.8 0.9 36 0.9 -8.6 0.9 -44.6 0.9 82.1 0.9 -5.9 0.9 -32 0.9 38.5 0.9 -6 0.9 -16.7 0.9 19.8 0.9 -11.7 0.9 -10.6 0.9 42.1 0.9 -61.9 0.9 84.3 0.9 -39.1 0.9 -15.5 0.9 21 0.9 -32.1 0.9 13.4 0.9 58.5 0.9 -36 0.9 -14.5 0.9 0.8 0.9 26.6 0.9 0.7 0.9 -29.4 0.9 37.1 0.9 -28.3 0.9 0.1 0.9 20 0.9 -35.3 0.9 -19.1 0.9 34.5 0.9 25.5 0.9 -27.8 0.9 29 0.9 8.6 0.9 -36.9 0.9 9.1 0.9 -2.9 0.9 19.7 0.9 -3.4 0.9 -6.6 0.9 29 0.9 -22.8 0.9 -2.1 0.9 -23.9 0.9 20.1 0.9 31 0.9 -14.6 0.9 -13.6 0.9 -4.4 0.9 -19.5 0.9 5.5 0.9 42.7 0.9 -23.4 0.9 2 0.9 28.8 0.9 -39.9 0.9 -1.1 0.9 46.2 0.9 -18.6 0.9 -52.6 0.9 38.2 0.9 -17.9 0.9 7 0.9 7.1 0.9 -33.2 0.9 22.5 0.9 61.3 0.9 -48 0.9 -6 0.9 34.9 0.9 -55.2 0.9 27.7 0.9 36.9 0.9 -30.3 0.9 8.5 0.9 -12.9 0.9 14.1 0.9 8.9 0.9 -20.3 0.9 7 0.9 4 0.9 -51 0.9 67.8 0.9 22.2 0.9 -23.4 0.9 -13.4 0.9 -14 0.9 18.1 0.9 38.6 0.9 -10.7 0.9 -51.6 0.9 53.5 0.9 -52.5 0.9 1.8 0.9 12.5 0.9 18.9 0.9 -19.8 0.9 29.7 0.9 -15.9 0.9 30.7 0.9 -70 0.9 36.3 0.9 13.6 0.9 21.3 0.9 -85.8 0.9 44.6 0.9 -41 0.9 58 0.9 -23.1 0.9 21.7 0.9 16.7 0.9 -2.8 0.9 -25.1 0.9 20.1 0.9 59.7 0.9 -84.9 0.9 25.7 0.9 -24.7 0.9 32.3 0.9 -38.6 0.9 33.9 0.9 -49.1 0.9 40.4 0.9 55.8 0.9 -86.5 0.9 13.7 0.9 36.4 0.9 -47.6 0.9 -28.9 0.9 16.6 0.9 44.6 0.9 22.1 0.9 -23.5 0.9 -0.1 0.9 24.6 0.9 -26.1 0.9 33.4 0.9 3.9 0.9 -42.5 0.9 38.5 0.9 -13.1 0.9 -19.3 0.9 2.9 0.9 26.6 0.9 -54.8 0.9 -8.1 0.9 66.2 0.9 19.3 0.9 -39.6 0.9 18.5 0.9 -63.4 0.9 7.8 0.9 18.9 0.9 5 0.9 12.7 0.9 -14.8 0.9 10.1 0.9 -2.5 0.9 19.7 0.9 11.4 0.9 -4.2 0.9 12.8 0.9 -37.6 0.9 -6 0.9 -33.7 0.9 5.2 0.9 59.9 0.9 -7.4 0.9 -10.2 0.9 -8.1 0.9 -21.7 0.9 -22.7 0.9 39 0.9 8.3 0.9 -55.2 0.9 93.9 0.9 -47.6 0.9 27.1 0.9 21.3 0.9 5.2 0.9 -43.1 0.9 31.1 0.9 -1 0.9 -20.1 0.9 6.8 0.9 -28.5 0.9 27.9 0.9 -21.8 0.9 11 0.9 8.2 0.9 20.7 0.9 -28.1 0.9 -0.3 0.9 -3.2 0.9 76.5 0.9 -75.7 0.9 21.9 0.9 -47.3 0.9 38 0.9 -29.8 0.9 15.8 0.9 32 0.9 24.1 0.9 -37.1 0.9 10.9 0.9 -9.9 0.9 -14.6 0.9 13.1 0.9 21.9 0.9 -18.5 0.9 -14 0.9 -2.1 0.9 23.2 0.9 -19.4 0.9 30.4 0.9 -56.1 0.9 52.5 0.9 -37.9 0.9 18 0.9 53.1 0.9 -25.8 0.9 -37.4 0.9 3.3 0.9 31.1 0.9 1.2 0.9 -23.2 0.9 18.9 0.9 -28.1 0.9 -56.2 0.9 93.1 0.9 -38.2 0.9 26.5 0.9 -18.5 0.9 -2.6 0.9 -14.5 0.9 40.2 0.9 2 0.9 10.4 0.9 -13.4 0.9 -6.4 0.9 -22.9 0.9 13.9 0.9 9.4 0.9 -70.5 0.9 32.3 0.9 23.9 0.9 24.3 0.9 14.3 0.9 7.6 0.9 -59.6 0.9 20.1 0.9 -14 0.9 -7 0.9 11.2 0.9 11.5 0.9 17 0.9 -55.4 0.9 32.8 0.9 -20.8 0.9 58.3 0.9 7.5 0.9 -52.7 0.9 -5.6 0.9 32.3 0.9 8.4 0.9 -47.1 0.9 13.7 0.9 17.1 0.9 -31.9 0.9 61.9 0.9 -35.1 0.9 0.6 0.9 -29.6 0.9 58 0.9 -62.1 0.9 15.1 0.9 3.1 0.9 11.3 0.9 -31.6 0.9 16 0.9 33.2 0.9 -15.2 0.9 3.9 0.9 20.8 0.9 -12.7 0.9 13.6 0.9 -23.8 0.9 -22.1 0.9 61.8 0.9 -81.3 0.9 8 0.9 5.4 0.9 85.1 0.9 -55.2 0.9 24.3 0.9 -63.9 0.9 11.2 0.9 34.4 0.9 -18.8 0.9 14 0.9 11.9 0.9 -12.3 0.9 -0.1 0.9 3.1 0.9 -10.1 0.9 12.6 0.9 16 0.9 -45.8 0.9 29.2 0.9 14.8 0.9 -26 0.9 2.5 0.9 46.9 0.9 -17.4 0.9 28.3 0.9 -10.2 0.9 -53.1 0.9 -8.6 0.9 9.9 0.9 28 0.9 -103.5 0.9 83.8 0.9 28.1 0.9 -28 0.9 6.8 0.9 -13.4 0.9 -34.7 0.9 63.3 0.9 -29.7 0.9 18.4 0.9 -10.8 0.9 46.6 0.9 -35.7 0.9 -0.8 0.9 -12.7 0.9 -17.4 0.9 29.6 0.9 16.4 0.9 -25.9 0.9 -52.3 0.9 33.5 0.9 65.5 0.9 -60.2 0.9 18 0.9 -50.3 0.9 32.1" stroke="#8f8f50" stroke-opacity="0.27" stroke-width="0.7"/>
<path d="M190 180.6l0.9 40.4 0.9 -3.7 0.9 -1.5 0.9 11.6 0.9 -35.8 0.9 53 0.9 -46.4 0.9 28.4 0.9 29.1 0.9 -63.1 0.9 22 0.9 -11.6 0.9 6.4 0.9 4.6 0.9 -8.7 0.9 2.4 0.9 17.1 0.9 -48.6 0.9 14.5 0.9 6.2 0.9 -20.8 0.9 41.8 0.9 -18.9 0.9 -9.3 0.9 -11.8 0.9 11.8 0.9 32.3 0.9 -40.7 0.9 52.9 0.9 -6.5 0.9 -7.8 0.9 -47.2 0.9 22.5 0.9 43.9 0.9 -33.8 0.9 -8.9 0.9 1.3 0.9 26.9 0.9 -52.9 0.9 69.1 0.9 -18.7 0.9 -30 0.9 39.9 0.9 -79.6 0.9 35.9 0.9 37.5 0.9 28.9 0.9 -64.3 0.9 -5 0.9 32.8 0.9 4.2 0.9 -20.2 0.9 -0.4 0.9 56.8 0.9 -59.4 0.9 -16.3 0.9 29.4 0.9 41.7 0.9 -14.4 0.9 -17.2 0.9 -29.9 0.9 29.4 0.9 71.5 0.9 -54 0.9 11 0.9 -63.1 0.9 28.7 0.9 -3.2 0.9 55.5 0.9 -48.3 0.9 5.8 0.9 -9.9 0.9 -56.5 0.9 96.4 0.9 -72.7 0.9 32 0.9 -23.7 0.9 23.9 0.9 3.6 0.9 -0.8 0.9 47.5 0.9 -63.4 0.9 21.8 0.9 20.8 0.9 -22.6 0.9 -2.3 0.9 59.8 0.9 -27.7 0.9 -38.6 0.9 26.8 0.9 -27.6 0.9 33 0.9 -45 0.9 54.2 0.9 -10 0.9 -0.5 0.9 -7.9 0.9 5.8 0.9 -26 0.9 22.8 0.9 13.2 0.9 -3.5 0.9 -32.7 0.9 36.6 0.9 -42.3 0.9 11.7 0.9 -2.7 0.9 6.3 0.9 12 0.9 19.7 0.9 9.7 0.9 -14.5 0.9 -28.3 0.9 36.3 0.9 6 0.9 -41.8 0.9 -10 0.9 25.3 0.9 50.9 0.9 -53.7 0.9 3.4 0.9 21.6 0.9 -45.2 0.9 2.6 0.9 23.5 0.9 23.4 0.9 -27.5 0.9 -7.9 0.9 -24.5 0.9 78.8 0.9 -68.3 0.9 62.3 0.9 -48.7 0.9 45.1 0.9 13.8 0.9 -62.1 0.9 35.5 0.9 4 0.9 12.7 0.9 -37.5 0.9 37.6 0.9 -27.1 0.9 -26.5 0.9 48.7 0.9 6.6 0.9 -30.6 0.9 -2.4 0.9 21.9 0.9 22.3 0.9 -70.3 0.9 55.8 0.9 23.5 0.9 -69.9 0.9 35.4 0.9 -12.2 0.9 7.4 0.9 21.8 0.9 -68.4 0.9 26.4 0.9 -20.7 0.9 25.9 0.9 53 0.9 -70.2 0.9 14.2 0.9 -3.1 0.9 24.7 0.9 -17.2 0.9 -10.9 0.9 0.6 0.9 14.9 0.9 -25.5 0.9 -28.3 0.9 86.6 0.9 -24.8 0.9 -17.3 0.9 10.8 0.9 21.8 0.9 -38.2 0.9 21.7 0.9 -13.3 0.9 42.8 0.9 -88.1 0.9 25.1 0.9 68 0.9 -62.4 0.9 9.9 0.9 -10.2 0.9 -26.5 0.9 54.1 0.9 18.9 0.9 -8.9 0.9 -37.2 0.9 17.1 0.9 52.7 0.9 -44.1 0.9 -17.9 0.9 44.1 0.9 -28.5 0.9 -38 0.9 24.7 0.9 42.9 0.9 -26 0.9 1.8 0.9 17.9 0.9 -34.2 0.9 -17.3 0.9 35.9 0.9 -14.7 0.9 15.1 0.9 -17.3 0.9 -0.3 0.9 -16 0.9 41.2 0.9 40.1 0.9 -76.5 0.9 57.8 0.9 -11.3 0.9 -31.9 0.9 -8.8 0.9 37.7 0.9 -21.4 0.9 1.8 0.9 -4.1 0.9 57.3 0.9 -84.9 0.9 49.6 0.9 35.4 0.9 -41.7 0.9 48 0.9 -51.6 0.9 4.2 0.9 15 0.9 -36.2 0.9 18.3 0.9 13.3 0.9 -29.9 0.9 27.5 0.9 15.3 0.9 -54.4 0.9 25.4 0.9 12.6 0.9 -26.8 0.9 42 0.9 5.4 0.9 -43.2 0.9 19.7 0.9 -21 0.9 12.4 0.9 14.4 0.9 -14.9 0.9 8 0.9 -14.8 0.9 39.7 0.9 -6.1 0.9 -37.4 0.9 28.6 0.9 50.3 0.9 -74.8 0.9 44.6 0.9 31.2 0.9 -69.4 0.9 24.5 0.9 -72.4 0.9 86.3 0.9 -17.5 0.9 4.6 0.9 -15.5 0.9 18.8 0.9 3.6 0.9 -9.7 0.9 -23.8 0.9 2.7 0.9 4.9 0.9 -6.1 0.9 -14.8 0.9 -10.6 0.9 28.3 0.9 -19.8 0.9 13.4 0.9 -22 0.9 -2.1 0.9 22.9 0.9 4.5 0.9 58 0.9 -54.3 0.9 27.3 0.9 -13.2 0.9 -4.7 0.9 -14.5 0.9 22.8 0.9 -2.8 0.9 -46.5 0.9 50 0.9 -21.1 0.9 -33.5 0.9 19.8 0.9 35.7 0.9 5.7 0.9 -25.5 0.9 32.3 0.9 -10.3 0.9 -56.4 0.9 10.9 0.9 34.9 0.9 -30.1 0.9 6.6 0.9 22.3 0.9 -14.2 0.9 -9.7 0.9 -17.2 0.9 83.6 0.9 -83.3 0.9 23.3 0.9 36.8 0.9 -28.8 0.9 -20.5 0.9 -4.7 0.9 55.6 0.9 -9.1 0.9 -66.1 0.9 13.8 0.9 49 0.9 23.8 0.9 -52.4 0.9 36.3 0.9 -61.9 0.9 -1.8" stroke="#8f8f50" stroke-opacity="0.17" stroke-width="0.7"/>
<path d="M73.8 125.3l0.3 9.9 0.4 14.8 0.6 17 0.5 16.2 0.6 12.7 0.6 6.1 0.6 -2.5 0.6 -9.2 0.7 -12.8 0.6 -13.3 0.7 -10.7 0.6 -4.9 0.6 2.2 0.6 7.2 0.5 9.8 0.6 10.2 0.5 8.3 0.6 4.2 0.6 -0.9 0.6 -4.5 0.5 -6.3 0.6 -6.5 0.6 -5.2 0.6 -2.1 0.6 1.7 0.6 4.2 0.6 5.7 0.5 5.8 0.6 4.8 0.6 2.3 0.6 -0.6 0.5 -2.8 0.5 -3.9 0.6 -4 0.5 -3.1 0.6 -1.1 0.6 1.3 0.7 3 0.6 3.9 0.7 4 0.6 3.4 0.7 1.8 0.7 -0.1 0.6 -1.4 0.7 -2.1 0.6 -2.2 0.6 -1.6 0.6 -0.3 0.5 1.3 0.4 2.5 0.4 3.1 0.4 3.1 0.4 2.4 0.5 1.2 0.5 -0.5 0.5 -1.8 0.5 -2.5 0.6 -2.5 0.6 -1.8 0.6 -0.7 0.8 0.8 0.9 1.9 0.9 2.5 0.9 2.7 0.8 2.3 0.8 -0.1 0.9 5.3 0.9 1.5 0.9 3.1 0.9 -3.2 0.9 8.3 0.9 -3.7 0.9 8 0.9 -4.6 0.9 -4.6 0.9 4.6 0.9 -1.9 0.9 6.5 0.9 -3.8 0.9 -1.9 0.9 -10.5 0.9 1.3 0.9 8.6 0.9 5.7 0.9 3.1 0.9 9.3 0.9 2.2 0.9 -4.4 0.9 -0.3 0.9 0.3 0.9 3.4 0.9 -1.8 0.9 2.2 0.9 3 0.9 -3.6 0.9 1 0.9 -1.6 0.9 4 0.9 -6.6 0.9 -1 0.9 -2.7 0.9 2.3 0.9 -2.5 0.9 -0.8 0.9 10.9 0.9 0.6 0.9 3.3 0.9 -1.5 0.9 -1.1 0.9 -2 0.9 8.3 0.9 2.6 0.9 -5.1 0.9 2.8 0.9 1.8 0.9 -2 0.9 1.7 0.9 -2.5 0.9 -1.1 0.9 5.9 0.9 -10 0.9 7.6 0.9 -5.1 0.9 2.5 0.9 0.1 0.9 6 0.9 0.7 0.9 6.3 0.9 -4.4 0.9 1 0.9 3.1 0.9 2.4 0.9 -5.1 0.9 9.4 0.9 -8.2 0.9 3.9 0.9 -9.1 0.9 2.6 0.9 -0.1 0.9 -0.6 0.9 -1.4 0.9 4 0.9 -1.5 0.9 8.7 0.9 -6 0.9 2.5 0.9 -5.5 0.9 15.6 0.9 3.1 0.9 -9.4 0.9 -2 0.9 -1.1 0.9 5.7 0.9 -11.2 0.9 0 0.9 -3.1 0.9 5.7 0.9 0.9 0.9 -7 0.9 7.9 0.9 -3.5 0.9 -3.5 0.9 5.3 0.9 2.8 0.9 0.1 0.9 -2.6 0.9 4.6 0.9 -3.1 0.9 3 0.9 7.2 0.9 -5.2 0.9 -1 0.9 0 0.9 4.1 0.9 -3.6 0.9 5 0.9 0.7 0.9 5.2 0.9 -3.1 0.9 5.3 0.9 1 0.9 3.6 0.9 1.6 0.9 2.6 0.9 -6.3 0.9 -3.7 0.9 9.2 0.9 0.4 0.9 -1.4 0.9 6.6 0.9 6.2 0.9 -4.2 0.9 -1.3 0.9 4.3 0.9 -3.8 0.9 11.2 0.9 -12.3 0.9 0.7 0.9 7.9 0.9 -4.7 0.9 -4 0.9 8.4 0.9 0.9 0.9 -10.9 0.9 9.3 0.9 2.2 0.9 4.3 0.9 -4.5 0.9 2 0.9 -1.7 0.9 3.3 0.9 4.9 0.9 -4.6 0.9 -6.6 0.9 0.8 0.9 6.7 0.9 -14 0.9 2.9 0.9 1.6 0.9 9.6 0.9 -6.9 0.9 3.6 0.9 3.3 0.9 4.2 0.9 2.1 0.9 -7 0.9 -0.1 0.9 -1.3 0.9 10.3 0.9 -5.7 0.9 1.6 0.9 -0.8 0.9 -6.1 0.9 -0.8 0.9 2 0.9 12.1 0.9 -9.9 0.9 3.2 0.9 -6.7 0.9 14.3 0.9 -10.7 0.9 -7.2 0.9 3.9 0.9 4.4 0.9 4 0.9 -4.4 0.9 5.4 0.9 -0.4 0.9 0.9 0.9 -1.4 0.9 4 0.9 1.9 0.9 -5.7 0.9 -2.5 0.9 11.9 0.9 -9.8 0.9 -0.7 0.9 -8.2 0.9 11.1 0.9 -10.6 0.9 12.2 0.9 -3 0.9 -2.9 0.9 -0.3 0.9 4.2 0.9 -1.8 0.9 -5 0.9 12.4 0.9 -10.3 0.9 6.4 0.9 -0.7 0.9 9.2 0.9 -11.9 0.9 11.8 0.9 -1.1 0.9 -13.2 0.9 7.5 0.9 3.7 0.9 -0.9 0.9 6 0.9 2.1 0.9 2.7 0.9 -7 0.9 5.9 0.9 -2.6 0.9 3.9 0.9 -1.8 0.9 0.8 0.9 -0.7 0.9 4.3 0.9 -2.1 0.9 -5.1 0.9 -5.3 0.9 13 0.9 -1.5 0.9 -3.1 0.9 6.2 0.9 -4.6 0.9 0.5 0.9 -0.6 0.9 8.1 0.9 3.1 0.9 -8.1 0.9 -1.7 0.9 7.4 0.9 -0.6 0.9 -1 0.9 -8.9 0.9 7.7 0.9 -0.4 0.9 -1.9 0.9 3.3 0.9 -2.5 0.9 2 0.9 -2.2 0.9 -1.6 0.9 8.1 0.9 -8 0.9 2.4 0.9 1 0.9 -8.5 0.9 4 0.9 -2.4 0.9 3.6 0.9 -3.7 0.9 9.4 0.9 -3.1 0.9 -4.8 0.9 7.8 0.9 -6.2 0.9 -1.6 0.9 8.2 0.9 -1.4 0.9 -3.1 0.9 6.5 0.9 -0.9 0.9 -1 0.9 3.9 0.9 -2.9 0.9 4.3 0.9 -3.7 0.9 0.2 0.9 -13.4 0.9 10.9 0.9 10 0.9 -10.5 0.9 2.1 0.9 -1.1 0.9 -5.7 0.9 10.5 0.9 5.7 0.9 -0.8 0.9 -8.1 0.9 -2.7 0.9 1.6 0.9 4.7 0.9 -3.8 0.9 5.2 0.9 -2.1 0.9 -6.3 0.9 0.6 0.9 8.8 0.9 0.2 0.9 -3.3 0.9 6.5 0.9 -6.4 0.9 -0.8 0.9 1.3 0.9 2.8 0.9 -12 0.9 10.8 0.9 0.3 0.9 -3.9 0.9 0.2 0.9 9.4 0.9 -7.1 0.9 1.1 0.9 5.6 0.9 -9 0.9 16.2 0.9 -13.5 0.9 0.5 0.9 -3.8 0.9 3.4 0.9 -1.7 0.9 1.9 0.9 -3 0.9 -5.8 0.9 15.2 0.9 -2 0.9 -0.7 0.9 -0.6 0.9 0.2 0.9 -5.7 0.9 15.4 0.9 -15.1 0.9 -2.7 0.9 14 0.9 -10.6 0.9 1.8 0.9 -5 0.9 2.8 0.9 2.6 0.9 -1.1 0.9 -7.2 0.9 8 0.9 -6.8 0.9 -3.4 0.9 10.6 0.9 -2.6 0.9 -2.5 0.9 -2.4 0.9 6.6 0.9 -4.6 0.9 -1.8 0.9 5.4 0.9 -1.2 0.9 -6.4 0.9 10.6 0.9 -12.6 0.9 3.7 0.9 5.1 0.9 -1.9 0.9 3.8 0.9 -0.8 0.9 -12.6 0.9 16 0.9 -7.7 0.9 2.2 0.9 -3.2 0.9 -1.2 0.9 7.5 0.9 -0.6 0.9 -1.1 0.9 -4.1 0.9 9.4 0.9 -5.4 0.9 0.7 0.9 -2.4 0.9 0.7 0.9 3.5 0.9 -0.7 0.9 0.2 0.9 -4.2 0.9 0.2 0.9 -5.5 0.9 4.3 0.9 -1.5 0.9 -1 0.9 3.6 0.9 0.5 0.9 -3.3 0.9 -4.3 0.9 6.2 0.9 1.2 0.9 1.3 0.9 -5.2 0.9 -1.8 0.9 -2.3 0.9 7.9 0.9 -2.5 0.9 5 0.9 -8.8 0.9 11.8 0.9 -6.7 0.9 -0.2 0.9 1.4 0.9 2.3 0.9 0.3 0.9 -11.5 0.9 5.3 0.9 3.9 0.9 0.1 0.9 -2.1 0.9 -5.2 0.9 5.1 0.9 -3" stroke="#000" stroke-width="2.45"/>
</g>
<g stroke="rgba(0,0,0,0.11)" stroke-width="1"><line x1="152.5" y1="38" x2="152.5" y2="347"/><line x1="235.5" y1="38" x2="235.5" y2="347"/><line x1="318.5" y1="38" x2="318.5" y2="347"/><line x1="401.5" y1="38" x2="401.5" y2="347"/><line x1="69.5" y1="285.2" x2="484.5" y2="285.2"/><line x1="69.5" y1="223.4" x2="484.5" y2="223.4"/><line x1="69.5" y1="161.6" x2="484.5" y2="161.6"/><line x1="69.5" y1="99.8" x2="484.5" y2="99.8"/></g>
<g stroke="#868686" stroke-width="1.45"><line x1="69.5" y1="347" x2="69.5" y2="342.5"/><line x1="69.5" y1="38" x2="69.5" y2="42.5"/><line x1="152.5" y1="347" x2="152.5" y2="342.5"/><line x1="152.5" y1="38" x2="152.5" y2="42.5"/><line x1="235.5" y1="347" x2="235.5" y2="342.5"/><line x1="235.5" y1="38" x2="235.5" y2="42.5"/><line x1="318.5" y1="347" x2="318.5" y2="342.5"/><line x1="318.5" y1="38" x2="318.5" y2="42.5"/><line x1="401.5" y1="347" x2="401.5" y2="342.5"/><line x1="401.5" y1="38" x2="401.5" y2="42.5"/><line x1="484.5" y1="347" x2="484.5" y2="342.5"/><line x1="484.5" y1="38" x2="484.5" y2="42.5"/><line x1="69.5" y1="347" x2="74" y2="347"/><line x1="484.5" y1="347" x2="480" y2="347"/><line x1="69.5" y1="285.2" x2="74" y2="285.2"/><line x1="484.5" y1="285.2" x2="480" y2="285.2"/><line x1="69.5" y1="223.4" x2="74" y2="223.4"/><line x1="484.5" y1="223.4" x2="480" y2="223.4"/><line x1="69.5" y1="161.6" x2="74" y2="161.6"/><line x1="484.5" y1="161.6" x2="480" y2="161.6"/><line x1="69.5" y1="99.8" x2="74" y2="99.8"/><line x1="484.5" y1="99.8" x2="480" y2="99.8"/><line x1="69.5" y1="38" x2="74" y2="38"/><line x1="484.5" y1="38" x2="480" y2="38"/><rect x="69.5" y="38" width="415" height="309" fill="none"/></g>
<rect x="281.25" y="46.5" width="190.25" height="112.0" fill="#fff"/>
<defs><clipPath id="ci"><rect x="281.25" y="46.5" width="190.25" height="112.0"/></clipPath></defs>
<g clip-path="url(#ci)" fill="none" stroke-linejoin="round">
<g stroke="#eef020" stroke-opacity="0.3" stroke-width="1.1"><path d="M279.5 69.1l4.8 15.7 4.8 13.9 4.8 19.7 4.8 26.7 4.8 -83.7 4.8 21.6 4.8 5.9 4.8 22.7 4.8 19.3 4.8 16.1 4.8 -78.7 4.8 11.1 4.8 23.6 4.8 10.8 4.8 20.4 4.8 -81.7 4.8 15.5 4.8 21 4.8 17 4.8 13.1 4.8 16 4.8 -78.5 4.8 14.5 4.8 29.5 4.8 11.2 4.8 18.5 4.8 19.6 4.8 -86.8 4.8 12.4 4.8 23.4 4.8 15.5 4.8 16.8 4.8 18.1 4.8 -78 4.8 20.5 4.8 11 4.8 18.9 4.8 23.1 4.8 -91 4.8 27.4 4.8 19.4"/><path d="M277.1 75.6l4.8 17.5 4.8 19.9 4.8 15.3 4.8 23.1 4.8 -79 4.8 5.9 4.8 17.4 4.8 18.2 4.8 22.7 4.8 14.6 4.8 -79.9 4.8 12 4.8 27 4.8 12.2 4.8 20.8 4.8 -87.5 4.8 20.4 4.8 25 4.8 12.2 4.8 20.5 4.8 12.3 4.8 -84.5 4.8 25.8 4.8 11.6 4.8 23.5 4.8 15.9 4.8 -85.5 4.8 13.8 4.8 20.7 4.8 17.2 4.8 22.3 4.8 16.5 4.8 -85.8 4.8 19.6 4.8 17.9 4.8 16.9 4.8 13 4.8 19 4.8 -83.1 4.8 21.8 4.8 22.4"/><path d="M281 84.3l4.8 21.5 4.8 11.6 4.8 8.1 4.8 26.4 4.8 -83.4 4.8 18.6 4.8 17 4.8 23.7 4.8 11.7 4.8 -85 4.8 19.9 4.8 17.8 4.8 18.9 4.8 15.2 4.8 25 4.8 -79.6 4.8 12.1 4.8 16.1 4.8 15.4 4.8 23.1 4.8 14.3 4.8 -82.1 4.8 15 4.8 22.4 4.8 13.7 4.8 17.4 4.8 -79 4.8 17.4 4.8 19.1 4.8 18.8 4.8 17.6 4.8 19.6 4.8 -89.8 4.8 19 4.8 20 4.8 17 4.8 18.1 4.8 12.2 4.8 -80.5 4.8 22.5"/><path d="M279.7 88.4l4.8 18.9 4.8 13.7 4.8 21.2 4.8 -82 4.8 17.7 4.8 20.6 4.8 17.4 4.8 16.6 4.8 12.7 4.8 -82.5 4.8 16 4.8 14.3 4.8 20.8 4.8 28.4 4.8 -87.5 4.8 9.6 4.8 23.1 4.8 17 4.8 18.5 4.8 24 4.8 -89.8 4.8 20.1 4.8 21.1 4.8 12.6 4.8 12.8 4.8 25.1 4.8 -78.7 4.8 13.5 4.8 20.8 4.8 23.7 4.8 10.5 4.8 -86.3 4.8 23 4.8 14.6 4.8 18.1 4.8 19.1 4.8 17.6 4.8 -83.2 4.8 17.7 4.8 17.4 4.8 15.4"/><path d="M279.7 80.4l4.8 22.3 4.8 7.2 4.8 27 4.8 9.3 4.8 -76.3 4.8 17.7 4.8 15.6 4.8 19.7 4.8 20 4.8 -82.2 4.8 20.1 4.8 18 4.8 11 4.8 30.4 4.8 2.1 4.8 -80 4.8 22.7 4.8 10 4.8 17.4 4.8 20.8 4.8 -69.5 4.8 16.3 4.8 7.8 4.8 24.9 4.8 11.8 4.8 21 4.8 -86 4.8 20.6 4.8 16.7 4.8 24.3 4.8 11.6 4.8 -79.7 4.8 10.5 4.8 24.5 4.8 13.6 4.8 17.3 4.8 20.7 4.8 -80.3 4.8 14.2 4.8 18.9"/><path d="M279.1 85.4l4.8 10.7 4.8 19.6 4.8 14.3 4.8 17.2 4.8 -70.6 4.8 9.8 4.8 18.3 4.8 18.1 4.8 14.6 4.8 14 4.8 -74.7 4.8 17.6 4.8 14.9 4.8 17.5 4.8 21.2 4.8 -86.7 4.8 16 4.8 25.1 4.8 11.1 4.8 25.6 4.8 10 4.8 -74.5 4.8 17.7 4.8 19.8 4.8 13.9 4.8 16.9 4.8 -82.6 4.8 18.8 4.8 17.4 4.8 18.8 4.8 17.5 4.8 15.8 4.8 -80.2 4.8 15.2 4.8 22.6 4.8 18.8 4.8 9.9 4.8 -77 4.8 14.5 4.8 22.1 4.8 19.7"/><path d="M280.6 82.1l4.8 25.6 4.8 14.2 4.8 20.3 4.8 -84.8 4.8 22.9 4.8 9.1 4.8 21.2 4.8 20.4 4.8 13.1 4.8 -74 4.8 14.8 4.8 13.7 4.8 13.2 4.8 25.9 4.8 8.9 4.8 -80.5 4.8 25.8 4.8 12.5 4.8 15.5 4.8 26 4.8 -92.4 4.8 29.5 4.8 6.6 4.8 18.8 4.8 15.9 4.8 21 4.8 -80.8 4.8 25.1 4.8 5 4.8 22.1 4.8 17.1 4.8 -77.4 4.8 24.2 4.8 7.4 4.8 23.2 4.8 14.6 4.8 15.6 4.8 -75.8 4.8 11.1 4.8 22.6"/><path d="M279.4 64.9l4.8 26.4 4.8 14.5 4.8 16.6 4.8 13 4.8 -78.7 4.8 15 4.8 24.7 4.8 19.4 4.8 12.7 4.8 11.3 4.8 -78.9 4.8 21.5 4.8 18.6 4.8 10.3 4.8 20.6 4.8 -74.9 4.8 19.9 4.8 2.8 4.8 24.8 4.8 18.4 4.8 16.5 4.8 -81.2 4.8 18.1 4.8 17.6 4.8 25.3 4.8 11.5 4.8 18.4 4.8 -88.9 4.8 18.2 4.8 23.2 4.8 16.9 4.8 17 4.8 10.6 4.8 -79.4 4.8 24.6 4.8 9.7 4.8 27 4.8 9.9 4.8 -78.9 4.8 22.8 4.8 15"/><path d="M277.9 60.1l4.8 29.7 4.8 13 4.8 11.8 4.8 20.1 4.8 17.8 4.8 -83.5 4.8 17.5 4.8 15.8 4.8 24.4 4.8 25 4.8 -93.4 4.8 22.2 4.8 21.8 4.8 11.3 4.8 21 4.8 15.2 4.8 -75.3 4.8 8 4.8 20.1 4.8 16.9 4.8 21.5 4.8 -82.7 4.8 11.1 4.8 19.1 4.8 21.4 4.8 21.5 4.8 11.2 4.8 -79 4.8 12.7 4.8 23.8 4.8 14.5 4.8 17.2 4.8 -79.4 4.8 13.7 4.8 25.2 4.8 7.5 4.8 24.6 4.8 17.9 4.8 -83.9 4.8 18.6 4.8 19.2"/></g>
<path d="M280.9 83.4l17.3 61 4.8 -81.2 19.2 72.1 4.8 -83.2 23.7 89 4.8 -84.6 23.9 89.4 4.6 -83.1 23.7 88.9 5.1 -83.7 18.9 72.2 5.2 -84.7 23.6 88.9 4.8 -83.1 6.7 22.1" stroke="#000" stroke-width="2.15"/>
</g>
<g stroke="rgba(0,0,0,0.11)" stroke-width="1"><line x1="336.4" y1="46.5" x2="336.4" y2="158.5"/><line x1="400.4" y1="46.5" x2="400.4" y2="158.5"/><line x1="464.3" y1="46.5" x2="464.3" y2="158.5"/><line x1="281.2" y1="102.5" x2="471.5" y2="102.5"/></g>
<g stroke="#868686" stroke-width="1.45"><line x1="336.4" y1="158.5" x2="336.4" y2="156"/><line x1="336.4" y1="46.5" x2="336.4" y2="49"/><line x1="400.4" y1="158.5" x2="400.4" y2="156"/><line x1="400.4" y1="46.5" x2="400.4" y2="49"/><line x1="464.3" y1="158.5" x2="464.3" y2="156"/><line x1="464.3" y1="46.5" x2="464.3" y2="49"/><line x1="281.2" y1="158.5" x2="283.8" y2="158.5"/><line x1="471.5" y1="158.5" x2="469" y2="158.5"/><line x1="281.2" y1="102.5" x2="283.8" y2="102.5"/><line x1="471.5" y1="102.5" x2="469" y2="102.5"/><line x1="281.2" y1="46.5" x2="283.8" y2="46.5"/><line x1="471.5" y1="46.5" x2="469" y2="46.5"/><rect x="281.2" y="46.5" width="190.2" height="112" fill="none"/></g>
<defs><clipPath id="cb"><rect x="57.3" y="448.5" width="192.89999999999998" height="119.0"/></clipPath></defs>
<g clip-path="url(#cb)" fill="none" stroke-linejoin="round">
<g stroke="#eef020" stroke-opacity="0.14" stroke-width="1.4"><path d="M57 499l1.3 -2.1 1.3 -6.1 1.3 -4.4 1.3 7.7 1.3 5.5 1.3 -10.1 1.3 11 1.3 -3.8 1.3 6.1 1.3 0.4 1.3 7 1.3 3.8 1.3 7.8 1.3 -0.9 1.3 11.6 1.3 -15.5 1.3 6.7 1.3 -3 1.3 -17 1.3 -4.1 1.3 8.2 1.3 -13.7 1.3 0.5 1.3 -15 1.3 6.5 1.3 5.9 1.3 8.6 1.3 6.3 1.3 -8.1 1.3 15 1.3 -2.2 1.3 3.4 1.3 2.7 1.3 2.5 1.3 -3.6 1.3 8.4 1.3 -7.7 1.3 4.5 1.3 8.9 1.3 -23.1 1.3 9.4 1.3 -18.5 1.3 -1.2 1.3 3 1.3 -4.6 1.3 1.3 1.3 -1.2 1.3 -4.2 1.3 2.6 1.3 9.5 1.3 3.6 1.3 10.5 1.3 -14.2 1.3 20 1.3 0.2 1.3 -2.9 1.3 -1.6 1.3 1.1 1.3 -2.6 1.3 7.3 1.3 -12.1 1.3 -5.8 1.3 -2.7 1.3 -1.8 1.3 -3.4 1.3 -6.4 1.3 -0.9 1.3 -2.8 1.3 3.6 1.3 2.7 1.3 1.9 1.3 5.7 1.3 11.9 1.3 1.7 1.3 1.4 1.3 8.4 1.3 -1.6 1.3 4.1 1.3 -6.6 1.3 6.2 1.3 -5.9 1.3 -8.5 1.3 -8.7 1.3 2 1.3 -4.2 1.3 -10.3 1.3 0 1.3 -5.3 1.3 5.7 1.3 -6.2 1.3 7.6 1.3 12.5 1.3 -0.1 1.3 -0.3 1.3 12.2 1.3 -5.9 1.3 9.1 1.3 0.6 1.3 -0.4 1.3 3.7 1.3 6.9 1.3 -18 1.3 -2.3 1.3 9.1 1.3 -16.2 1.3 -2.2 1.3 -6.4 1.3 -4 1.3 3.5 1.3 -9.8 1.3 -0.1 1.3 6.4 1.3 6.3 1.3 6.9 1.3 -3.2 1.3 9.6 1.3 7.2 1.3 0.6 1.3 4.5 1.3 -3.7 1.3 -5.4 1.3 11.5 1.3 -13.6 1.3 4 1.3 -11 1.3 -5.7 1.3 1.2 1.3 -9.6 1.3 2.6 1.3 -2.4 1.3 -0.6 1.3 8 1.3 -3.9 1.3 -1.8 1.3 8.9 1.3 1.7 1.3 0.4 1.3 -0.3 1.3 7.7 1.3 17.8 1.3 -9.1 1.3 2.3 1.3 5.4 1.3 -12.2 1.3 4.4 1.3 -22.4 1.3 3 1.3 -10.1 1.3 7"/><path d="M57 497.9l1.3 13.4 1.3 -16.6 1.3 -1.3 1.3 -7.1 1.3 0.4 1.3 6.8 1.3 1.3 1.3 4.6 1.3 3.2 1.3 -2.8 1.3 15 1.3 3.8 1.3 6.2 1.3 1.5 1.3 4.8 1.3 -11.5 1.3 2.3 1.3 2.1 1.3 -12.9 1.3 3.2 1.3 -12.4 1.3 -3.5 1.3 -6.8 1.3 1 1.3 9.2 1.3 0.7 1.3 -6.7 1.3 4 1.3 7.6 1.3 -6.1 1.3 8 1.3 5.8 1.3 -5.7 1.3 7.9 1.3 3.4 1.3 3.4 1.3 -2.1 1.3 -12.8 1.3 10.7 1.3 -7.9 1.3 -0.2 1.3 -4.3 1.3 -8.8 1.3 5.8 1.3 -19.3 1.3 6.2 1.3 -1.5 1.3 9.9 1.3 -3.7 1.3 7 1.3 2.3 1.3 13.7 1.3 -7.2 1.3 1.8 1.3 5 1.3 5.5 1.3 5.9 1.3 -17.7 1.3 3.1 1.3 9.1 1.3 -13.4 1.3 -5.9 1.3 -2.9 1.3 -6.4 1.3 -5.2 1.3 2.7 1.3 -4.2 1.3 12.3 1.3 -20.9 1.3 17.8 1.3 -2 1.3 16 1.3 -9 1.3 11.3 1.3 9.5 1.3 -1.4 1.3 -2 1.3 1.4 1.3 1 1.3 5.4 1.3 -7.7 1.3 -2 1.3 -12.9 1.3 1.4 1.3 1.6 1.3 -11.8 1.3 -5.2 1.3 -3.4 1.3 9 1.3 -1.8 1.3 0.8 1.3 -2.8 1.3 -0.6 1.3 18.5 1.3 -2.9 1.3 9.9 1.3 1.5 1.3 -2.3 1.3 0.6 1.3 9.7 1.3 -17.4 1.3 -3.2 1.3 17.1 1.3 -15.1 1.3 0.3 1.3 -0.3 1.3 0.4 1.3 -18.2 1.3 1.6 1.3 2.9 1.3 -4.9 1.3 -1.5 1.3 11.2 1.3 -10.7 1.3 17 1.3 -0.1 1.3 5.1 1.3 1.5 1.3 5.1 1.3 7.9 1.3 -2.5 1.3 4.7 1.3 -6.9 1.3 -9 1.3 -3.6 1.3 -2.5 1.3 -6.4 1.3 5.3 1.3 -16.7 1.3 12.9 1.3 -12.5 1.3 -1.4 1.3 3.8 1.3 -3.3 1.3 18.3 1.3 3.6 1.3 2.9 1.3 6.3 1.3 2.1 1.3 -10.7 1.3 13.1 1.3 -7.2 1.3 7.7 1.3 -5.9 1.3 -4.9 1.3 -6.9 1.3 3 1.3 -1.9 1.3 -14.4"/><path d="M57 497.5l1.3 -5.7 1.3 1.7 1.3 -0.1 1.3 -3.1 1.3 -0.3 1.3 4.1 1.3 -2 1.3 7.3 1.3 5.2 1.3 0.7 1.3 14.2 1.3 11 1.3 6.1 1.3 -12 1.3 -2 1.3 -2.4 1.3 6.1 1.3 -9 1.3 0.8 1.3 -16.4 1.3 1 1.3 -8.2 1.3 -0.2 1.3 -6.8 1.3 -8.2 1.3 15.5 1.3 -1.5 1.3 3.5 1.3 4.6 1.3 1.6 1.3 10.8 1.3 8.7 1.3 7.5 1.3 -4 1.3 -0.6 1.3 9 1.3 -10.1 1.3 -3.3 1.3 -2.1 1.3 -1.8 1.3 -15.1 1.3 0.5 1.3 -6.8 1.3 -5.7 1.3 8 1.3 -18.6 1.3 6.5 1.3 5.8 1.3 4.7 1.3 11 1.3 -12.4 1.3 14.2 1.3 2.9 1.3 3 1.3 6.4 1.3 6.1 1.3 -2.2 1.3 12.1 1.3 -21.5 1.3 3.9 1.3 -5.5 1.3 -6.1 1.3 -2.7 1.3 -9.5 1.3 -1.5 1.3 -5.9 1.3 -1.2 1.3 -2.1 1.3 2.4 1.3 10.5 1.3 -0.8 1.3 11.1 1.3 0.6 1.3 5.7 1.3 11.2 1.3 -7.3 1.3 8.5 1.3 3.7 1.3 -2.7 1.3 -2.1 1.3 2.4 1.3 -14.3 1.3 -2.5 1.3 2.7 1.3 -19.5 1.3 3.3 1.3 -5 1.3 -4.1 1.3 2.2 1.3 -4.5 1.3 6.6 1.3 3.2 1.3 7.9 1.3 4.5 1.3 13.7 1.3 -0.2 1.3 9.3 1.3 -1.5 1.3 1.1 1.3 -0.9 1.3 0.2 1.3 -13.1 1.3 -6 1.3 -4.6 1.3 4.9 1.3 -11.1 1.3 -5 1.3 -1.1 1.3 0.2 1.3 -8.8 1.3 -0.8 1.3 4.6 1.3 9.1 1.3 -1.6 1.3 9.3 1.3 8.1 1.3 -0.2 1.3 3.3 1.3 0.3 1.3 5.2 1.3 -0.7 1.3 4.4 1.3 -12.5 1.3 2.1 1.3 -8 1.3 1 1.3 -14 1.3 0.9 1.3 -1.6 1.3 -11.9 1.3 8.9 1.3 -5 1.3 -1.9 1.3 1.7 1.3 12.1 1.3 1.4 1.3 6.1 1.3 11.1 1.3 -12.7 1.3 24.1 1.3 6.4 1.3 -11.6 1.3 -1.9 1.3 0.1 1.3 -0.6 1.3 2.1 1.3 -21.4 1.3 -16 1.3 12"/><path d="M57 499.3l1.3 -13.8 1.3 7.4 1.3 -7.5 1.3 4.8 1.3 -3.9 1.3 -0.2 1.3 -0.2 1.3 19.9 1.3 -2.8 1.3 6.8 1.3 10.9 1.3 0 1.3 3.8 1.3 -11.2 1.3 16.2 1.3 -2 1.3 -10.5 1.3 -5.7 1.3 4.5 1.3 -7.5 1.3 3 1.3 -17.7 1.3 2.1 1.3 -0.6 1.3 -3.3 1.3 -6.2 1.3 1.1 1.3 6.8 1.3 17.5 1.3 -9 1.3 7 1.3 11.9 1.3 0.9 1.3 7.4 1.3 -7.2 1.3 2.7 1.3 4.3 1.3 -8.1 1.3 -1.8 1.3 -8.4 1.3 -4.3 1.3 -5.6 1.3 -4.7 1.3 -5 1.3 -0.4 1.3 -2.4 1.3 4.7 1.3 6.4 1.3 -6 1.3 13.5 1.3 -0.7 1.3 -8.3 1.3 17.3 1.3 -3.2 1.3 16 1.3 -6.8 1.3 11.3 1.3 0.3 1.3 -11.2 1.3 -7.2 1.3 5.2 1.3 -14.3 1.3 -0.9 1.3 0.5 1.3 -10.2 1.3 0.3 1.3 6 1.3 -7.8 1.3 1.8 1.3 -3.5 1.3 -5.6 1.3 18.5 1.3 4 1.3 7 1.3 1.9 1.3 1.1 1.3 4.4 1.3 2.8 1.3 -5.7 1.3 -3.4 1.3 6.9 1.3 -6.1 1.3 -2 1.3 -10.2 1.3 -2.8 1.3 -8.5 1.3 -2.2 1.3 1.4 1.3 5.6 1.3 -8.2 1.3 5.1 1.3 -3 1.3 1.5 1.3 9.4 1.3 6.7 1.3 3.7 1.3 1.1 1.3 8.3 1.3 8.2 1.3 -8.1 1.3 2.1 1.3 -1.6 1.3 -0.4 1.3 -5.1 1.3 -3.6 1.3 -9.6 1.3 -11.8 1.3 -2.3 1.3 0.2 1.3 -5.3 1.3 0.2 1.3 5.5 1.3 3.5 1.3 0.9 1.3 7.6 1.3 13.2 1.3 -8.6 1.3 7.6 1.3 0.6 1.3 12.7 1.3 0.4 1.3 -9.8 1.3 4 1.3 -13.7 1.3 4 1.3 -6.3 1.3 -4.2 1.3 -13.2 1.3 5.1 1.3 -1.8 1.3 4.9 1.3 -6.3 1.3 -1.4 1.3 -0.2 1.3 10.1 1.3 5.5 1.3 3.9 1.3 5.9 1.3 0 1.3 -0.8 1.3 8.3 1.3 6.4 1.3 -1.3 1.3 -9.5 1.3 9.1 1.3 -8.3 1.3 -7.6 1.3 -13.8 1.3 4"/><path d="M57 489.7l1.3 -5.9 1.3 3.4 1.3 -0.4 1.3 -1.4 1.3 -4.5 1.3 5.4 1.3 10.4 1.3 7.2 1.3 8.7 1.3 -0.7 1.3 3 1.3 20.2 1.3 -3.7 1.3 -1.2 1.3 4.4 1.3 -12.6 1.3 1.8 1.3 -8.4 1.3 -2.9 1.3 -9.2 1.3 -2.6 1.3 -15.2 1.3 -1.6 1.3 -5.9 1.3 12.4 1.3 3.9 1.3 -2.8 1.3 9.5 1.3 3.2 1.3 5.5 1.3 17.3 1.3 -2.8 1.3 11.1 1.3 9.1 1.3 -13.2 1.3 4.3 1.3 -8.5 1.3 -0.6 1.3 -17.9 1.3 6.3 1.3 -14.8 1.3 -2.2 1.3 -6.1 1.3 -1.2 1.3 -7.2 1.3 -1.7 1.3 1 1.3 0.1 1.3 10.3 1.3 6.9 1.3 8 1.3 9.5 1.3 7.5 1.3 9.5 1.3 5.9 1.3 -13.1 1.3 7.3 1.3 -1 1.3 -10.1 1.3 -2.3 1.3 -21 1.3 7.4 1.3 -10.9 1.3 -14.9 1.3 2.3 1.3 10.6 1.3 -9.9 1.3 10.5 1.3 4.4 1.3 -2.7 1.3 3.7 1.3 11.4 1.3 10 1.3 7.8 1.3 -0.9 1.3 0.2 1.3 11.4 1.3 -17.8 1.3 6.3 1.3 0 1.3 -4.4 1.3 -12.2 1.3 -3.2 1.3 -3.1 1.3 -10.8 1.3 -10.9 1.3 1.2 1.3 -1.4 1.3 -3.4 1.3 3.4 1.3 16.4 1.3 -2.9 1.3 10.6 1.3 2.2 1.3 7.4 1.3 5.5 1.3 2.8 1.3 11.1 1.3 1.9 1.3 -4.6 1.3 -9.5 1.3 -4.6 1.3 -11.3 1.3 7.6 1.3 -14.2 1.3 -11.8 1.3 -4.4 1.3 5.6 1.3 -9.3 1.3 3.6 1.3 1 1.3 7.6 1.3 0.6 1.3 -9.9 1.3 28.4 1.3 -5.1 1.3 21.5 1.3 -1.5 1.3 -2.2 1.3 3.6 1.3 0 1.3 -0.8 1.3 -5.8 1.3 -15.7 1.3 -8.9 1.3 9.1 1.3 -10.6 1.3 -14.5 1.3 8.6 1.3 0.1 1.3 -4.3 1.3 -0.5 1.3 -1.4 1.3 -5.9 1.3 23.8 1.3 -1.5 1.3 21 1.3 -4.5 1.3 12.1 1.3 -4.6 1.3 -3.8 1.3 4.2 1.3 12.6 1.3 -15.8 1.3 -17 1.3 7.9 1.3 -6.4 1.3 -15.7 1.3 2.5"/><path d="M57 501.8l1.3 -12.7 1.3 5.3 1.3 1.7 1.3 -9.3 1.3 7.4 1.3 2.7 1.3 2.9 1.3 8.3 1.3 -3.3 1.3 0.6 1.3 12.3 1.3 3.3 1.3 -8.7 1.3 11.4 1.3 -4.7 1.3 1.2 1.3 1.7 1.3 3.2 1.3 -9.9 1.3 -9.8 1.3 -3.9 1.3 0.2 1.3 -2.8 1.3 7.9 1.3 -19.6 1.3 3.8 1.3 9.5 1.3 -4.6 1.3 7.4 1.3 -4.1 1.3 4.8 1.3 16.1 1.3 -5.8 1.3 11.4 1.3 -3.6 1.3 5.5 1.3 1.7 1.3 -12.5 1.3 -2.6 1.3 6.1 1.3 -10.6 1.3 -5.8 1.3 0.1 1.3 -13 1.3 2.6 1.3 -8.1 1.3 -2.4 1.3 13.5 1.3 6.7 1.3 -1.3 1.3 -4 1.3 11.2 1.3 6.9 1.3 2.8 1.3 8.7 1.3 -8.9 1.3 6.6 1.3 -2.3 1.3 -1.2 1.3 -5.7 1.3 -0.2 1.3 -12.8 1.3 0.2 1.3 -1.1 1.3 -1.8 1.3 -1.7 1.3 -4.4 1.3 4.7 1.3 0.7 1.3 -3.8 1.3 14.6 1.3 2.1 1.3 -4.8 1.3 4.8 1.3 2.2 1.3 5.7 1.3 6 1.3 -1.3 1.3 -4.3 1.3 3.5 1.3 2.2 1.3 -6 1.3 -5.6 1.3 -9.3 1.3 -4.2 1.3 5.5 1.3 -12.2 1.3 -7.6 1.3 9.7 1.3 5 1.3 -14.1 1.3 18.6 1.3 -8.5 1.3 13.7 1.3 0.7 1.3 0 1.3 1.6 1.3 2.8 1.3 2.1 1.3 3.5 1.3 4.6 1.3 -8.4 1.3 8.6 1.3 -14.3 1.3 -7 1.3 -1.3 1.3 3.4 1.3 -14.4 1.3 1 1.3 2.5 1.3 -7.4 1.3 7.5 1.3 -0.9 1.3 2.3 1.3 4.3 1.3 4.4 1.3 10 1.3 -6.5 1.3 4.1 1.3 5.4 1.3 -3.7 1.3 2.7 1.3 -5.5 1.3 1.1 1.3 -12 1.3 2.8 1.3 -5.7 1.3 4.3 1.3 -17 1.3 -1.4 1.3 -0.1 1.3 1.7 1.3 0.5 1.3 10.7 1.3 -3.2 1.3 6.7 1.3 4.3 1.3 8.1 1.3 -5 1.3 7.6 1.3 4.2 1.3 6.5 1.3 -10.2 1.3 -0.6 1.3 2.8 1.3 -7.7 1.3 -4.9 1.3 4.4 1.3 -16.1"/><path d="M57 491.4l1.3 7 1.3 -12.6 1.3 -2.1 1.3 5.4 1.3 -5.2 1.3 -7.6 1.3 19.4 1.3 3.8 1.3 -0.3 1.3 17.6 1.3 0.7 1.3 5.3 1.3 18.9 1.3 -6.1 1.3 1 1.3 0.2 1.3 -18.6 1.3 9 1.3 -20.8 1.3 -6.5 1.3 0.8 1.3 -8.9 1.3 4.6 1.3 -15.6 1.3 7.8 1.3 -0.5 1.3 -0.7 1.3 7.6 1.3 6.4 1.3 10.2 1.3 5.8 1.3 9.8 1.3 -1.7 1.3 6.7 1.3 10.5 1.3 -7.9 1.3 7.3 1.3 -17 1.3 -3 1.3 -5.8 1.3 -4.7 1.3 -9.4 1.3 -11.4 1.3 -3.8 1.3 -4.1 1.3 -1.1 1.3 -5.7 1.3 7.2 1.3 6.1 1.3 18.4 1.3 1.2 1.3 10.6 1.3 0.7 1.3 9.2 1.3 -4.2 1.3 -4.1 1.3 9.8 1.3 -1.7 1.3 -7.1 1.3 -10.3 1.3 3.2 1.3 -5.6 1.3 -7.6 1.3 -3.7 1.3 -15.8 1.3 6.5 1.3 -3.2 1.3 -2.1 1.3 4.5 1.3 1.6 1.3 9.3 1.3 7.8 1.3 -2.4 1.3 21.9 1.3 3.3 1.3 5 1.3 5.8 1.3 -6.5 1.3 -1.7 1.3 3.7 1.3 -15.5 1.3 -10.7 1.3 4.5 1.3 -12.3 1.3 -0.1 1.3 -8.2 1.3 -12.9 1.3 2.6 1.3 -2.9 1.3 7.6 1.3 1.5 1.3 11.6 1.3 12.1 1.3 -1.1 1.3 3.4 1.3 6.7 1.3 3.8 1.3 3 1.3 5.6 1.3 -10 1.3 -1.9 1.3 2 1.3 -0.3 1.3 -9.1 1.3 -11 1.3 -0.2 1.3 -9.2 1.3 3.1 1.3 -9.8 1.3 -5.7 1.3 -2.1 1.3 15.8 1.3 2.3 1.3 6.2 1.3 -1.9 1.3 4.9 1.3 19.4 1.3 -0.5 1.3 -9.7 1.3 17.3 1.3 -7.2 1.3 8 1.3 -7.9 1.3 -21.3 1.3 5.1 1.3 -7.7 1.3 -2.8 1.3 -14.9 1.3 -4.9 1.3 10.6 1.3 -14.8 1.3 8.4 1.3 4.9 1.3 7.1 1.3 3.6 1.3 15.2 1.3 1.4 1.3 0.4 1.3 7 1.3 0.7 1.3 4.2 1.3 9 1.3 -7.2 1.3 -7.8 1.3 -12.2 1.3 -13.1 1.3 5 1.3 -9.2 1.3 2.3"/><path d="M57 498.3l1.3 -1.9 1.3 -1 1.3 -9.4 1.3 -0.2 1.3 -3.6 1.3 5.8 1.3 -8 1.3 12.8 1.3 8.3 1.3 6.5 1.3 4 1.3 9.6 1.3 0.8 1.3 17.4 1.3 -14.4 1.3 -8.3 1.3 -1.6 1.3 0.6 1.3 4.4 1.3 -13.9 1.3 -4.5 1.3 5 1.3 -17 1.3 4.4 1.3 -0.8 1.3 -0.5 1.3 -2.3 1.3 -5.6 1.3 4.5 1.3 17.8 1.3 7 1.3 -3.7 1.3 12.5 1.3 2.8 1.3 -2.1 1.3 10.2 1.3 -7.2 1.3 3.9 1.3 -3.3 1.3 -7.2 1.3 -6.3 1.3 4 1.3 -18 1.3 -6.9 1.3 -7.5 1.3 3.1 1.3 -2.4 1.3 -5.7 1.3 13.9 1.3 0 1.3 7.2 1.3 -4.4 1.3 11.2 1.3 15.2 1.3 3.4 1.3 0.9 1.3 4.7 1.3 -0.8 1.3 -0.8 1.3 -2.4 1.3 -5.3 1.3 -9.9 1.3 5.1 1.3 -2.3 1.3 -16.6 1.3 -6.5 1.3 8 1.3 -9.4 1.3 0.6 1.3 -0.5 1.3 1.9 1.3 3.3 1.3 11 1.3 -5.8 1.3 17.7 1.3 7.3 1.3 -3.5 1.3 4.3 1.3 10.4 1.3 -11.8 1.3 -3.1 1.3 5.9 1.3 -15.7 1.3 -10.6 1.3 4.7 1.3 -8.1 1.3 -6.8 1.3 -5.2 1.3 -4.4 1.3 3.4 1.3 -8.1 1.3 17 1.3 -1.9 1.3 5.7 1.3 6.2 1.3 11.4 1.3 2 1.3 13.6 1.3 -17.6 1.3 19 1.3 0 1.3 -22.1 1.3 14.4 1.3 -6.3 1.3 -4.4 1.3 -5.5 1.3 -4 1.3 -10 1.3 -5.2 1.3 5.1 1.3 -8.1 1.3 3.8 1.3 12.4 1.3 -16.9 1.3 5.5 1.3 5.8 1.3 9.4 1.3 15.3 1.3 0.3 1.3 6.9 1.3 5.9 1.3 -17.5 1.3 8.4 1.3 -7.1 1.3 0.1 1.3 -12.7 1.3 8 1.3 -15.7 1.3 -6.4 1.3 -6.5 1.3 -3.1 1.3 5.7 1.3 -3.3 1.3 3.8 1.3 0 1.3 9.5 1.3 3.6 1.3 9.5 1.3 4.2 1.3 -0.4 1.3 14.9 1.3 -8.3 1.3 -2 1.3 8.6 1.3 -10.9 1.3 -2.5 1.3 -10.1 1.3 -5.7 1.3 3.1"/><path d="M57 505.4l1.3 -6.5 1.3 -11.4 1.3 -3.2 1.3 -2.7 1.3 6.7 1.3 -15.3 1.3 12.6 1.3 7 1.3 7.3 1.3 7.2 1.3 1.1 1.3 11.8 1.3 -2.1 1.3 18.2 1.3 -4.1 1.3 -3.4 1.3 5.3 1.3 -10.1 1.3 -11.3 1.3 4.5 1.3 -8.5 1.3 -8.5 1.3 -7.1 1.3 0.3 1.3 -3.4 1.3 -9.9 1.3 0.4 1.3 13.1 1.3 -5.6 1.3 18.8 1.3 7.9 1.3 -2.8 1.3 20.8 1.3 -9 1.3 4.7 1.3 3.7 1.3 4.2 1.3 -2 1.3 -6.3 1.3 -9.1 1.3 -3.7 1.3 -13.4 1.3 -4.7 1.3 -1.5 1.3 -5.8 1.3 -5.8 1.3 0.9 1.3 -7.1 1.3 9.2 1.3 6.1 1.3 10.3 1.3 6.4 1.3 -3.3 1.3 9.8 1.3 -0.1 1.3 22.2 1.3 -19.1 1.3 11.6 1.3 -5.9 1.3 3.3 1.3 -5.6 1.3 -4.4 1.3 -12.6 1.3 0.3 1.3 -13.3 1.3 -7.5 1.3 -2.7 1.3 0.1 1.3 12.2 1.3 -3.9 1.3 4 1.3 -7 1.3 15.8 1.3 9.9 1.3 -6.2 1.3 19.4 1.3 -4.4 1.3 9.9 1.3 0 1.3 -3.2 1.3 -0.9 1.3 -0.2 1.3 -3 1.3 -4.7 1.3 -7.2 1.3 -12.4 1.3 -17 1.3 -1.8 1.3 -1.1 1.3 7.6 1.3 4.8 1.3 -5.7 1.3 3.5 1.3 10.5 1.3 7.3 1.3 9.1 1.3 5.2 1.3 -0.1 1.3 -6.6 1.3 15 1.3 -14.9 1.3 10.8 1.3 11 1.3 -10.6 1.3 -9.9 1.3 2.4 1.3 -23.3 1.3 0.6 1.3 -3.2 1.3 -9.8 1.3 -3.2 1.3 7.2 1.3 1.5 1.3 -0.5 1.3 5.9 1.3 10.2 1.3 3 1.3 4.7 1.3 12.9 1.3 0.8 1.3 3.4 1.3 -4.3 1.3 4.5 1.3 -7.8 1.3 -11.6 1.3 8.7 1.3 -12.9 1.3 -5.3 1.3 -2.8 1.3 -3.2 1.3 -2.9 1.3 -9.3 1.3 3.8 1.3 -4.7 1.3 7.3 1.3 8.6 1.3 9.5 1.3 -5.2 1.3 16 1.3 5 1.3 -0.3 1.3 19.4 1.3 -15.4 1.3 6.2 1.3 -7.2 1.3 -4.5 1.3 -4.1 1.3 -10.8 1.3 -6.6"/><path d="M57 504.4l1.3 -16.7 1.3 -11.8 1.3 1.6 1.3 9.6 1.3 -3.9 1.3 3.1 1.3 18.3 1.3 -8.6 1.3 6 1.3 15.3 1.3 11.5 1.3 4.3 1.3 -10.3 1.3 8.7 1.3 -9.7 1.3 5.6 1.3 -22.9 1.3 3.1 1.3 2.3 1.3 -8.5 1.3 -2.2 1.3 -26.6 1.3 21.5 1.3 -3.4 1.3 8.7 1.3 -10.7 1.3 10.4 1.3 5 1.3 2.5 1.3 10.3 1.3 3.7 1.3 6.5 1.3 -0.8 1.3 4.9 1.3 -3 1.3 -1.9 1.3 -0.5 1.3 -3.1 1.3 -4.8 1.3 -4.2 1.3 -15 1.3 -7 1.3 -9.1 1.3 12.2 1.3 0.4 1.3 -9.9 1.3 6.6 1.3 -1.8 1.3 9.7 1.3 12.3 1.3 0.8 1.3 -2.5 1.3 14.9 1.3 1.6 1.3 5.8 1.3 5.2 1.3 -6.7 1.3 -2.1 1.3 -3.5 1.3 -15.3 1.3 -2.6 1.3 -13.2 1.3 3.8 1.3 -3.4 1.3 -4.9 1.3 0.5 1.3 -6.1 1.3 -0.4 1.3 15.7 1.3 2.6 1.3 0.6 1.3 10.6 1.3 -1.5 1.3 4.2 1.3 12.1 1.3 2 1.3 0.6 1.3 9.2 1.3 -11.1 1.3 -3.7 1.3 3.5 1.3 -20.3 1.3 -2.8 1.3 -7.5 1.3 -3.8 1.3 6.2 1.3 -25.2 1.3 18.1 1.3 -11.2 1.3 0.6 1.3 11.9 1.3 6.5 1.3 5.1 1.3 2.2 1.3 13.4 1.3 -5.5 1.3 14 1.3 15.5 1.3 -22.9 1.3 4.9 1.3 -3.7 1.3 -11.4 1.3 2.7 1.3 -1.6 1.3 -6.6 1.3 -7.5 1.3 -9.8 1.3 -1.2 1.3 -7.3 1.3 11.3 1.3 -6.3 1.3 1.7 1.3 5.8 1.3 17.4 1.3 -9.9 1.3 19.4 1.3 6.2 1.3 -3.6 1.3 5.8 1.3 -6.6 1.3 8.4 1.3 -5.4 1.3 -11.9 1.3 -1 1.3 -6.2 1.3 -2.7 1.3 -4.7 1.3 -3.5 1.3 -7 1.3 2.9 1.3 0.9 1.3 3.3 1.3 -2.8 1.3 2.2 1.3 4.2 1.3 8.4 1.3 -1.9 1.3 9.7 1.3 15.1 1.3 6.5 1.3 -3.6 1.3 -10.4 1.3 8.4 1.3 -10.5 1.3 -10.6 1.3 3.2 1.3 -8 1.3 -5 1.3 -1.9"/><path d="M57 494.8l1.3 -6.3 1.3 5.7 1.3 -2.2 1.3 2.4 1.3 -4.3 1.3 4.6 1.3 5.6 1.3 4.4 1.3 3.6 1.3 13.5 1.3 -1.2 1.3 -9.1 1.3 10.7 1.3 3.7 1.3 -1.2 1.3 -1.2 1.3 -5.6 1.3 4 1.3 -16.6 1.3 3.1 1.3 -3.2 1.3 -3.9 1.3 2.1 1.3 -17.2 1.3 3.3 1.3 7.3 1.3 2.9 1.3 5.3 1.3 -0.9 1.3 6.9 1.3 15 1.3 -1.7 1.3 2.9 1.3 3.7 1.3 6.8 1.3 -12.8 1.3 -0.6 1.3 -12.5 1.3 2.5 1.3 -2.2 1.3 -3.9 1.3 -12.4 1.3 -7.4 1.3 0.3 1.3 -8.6 1.3 2.9 1.3 8.5 1.3 7.4 1.3 9.2 1.3 -2 1.3 0.4 1.3 10 1.3 2.1 1.3 10.4 1.3 1.1 1.3 -12.7 1.3 8.1 1.3 9.2 1.3 -9.2 1.3 -11.9 1.3 -19.4 1.3 14.3 1.3 -6.3 1.3 -7.5 1.3 1.7 1.3 -2.7 1.3 1.5 1.3 -4.2 1.3 3.7 1.3 7.5 1.3 1 1.3 0.3 1.3 4.1 1.3 12 1.3 -1.3 1.3 4.1 1.3 -0.1 1.3 5.8 1.3 -15.1 1.3 -3.3 1.3 8.6 1.3 -6.9 1.3 3.7 1.3 -13.8 1.3 -10.6 1.3 4.1 1.3 -3.9 1.3 1.7 1.3 1.5 1.3 10.7 1.3 -9.5 1.3 8.8 1.3 2.8 1.3 -3.4 1.3 6.4 1.3 5 1.3 6.5 1.3 -0.9 1.3 12.5 1.3 -10.1 1.3 -6.9 1.3 -1.2 1.3 0.1 1.3 -8.6 1.3 -7.5 1.3 -6 1.3 3.1 1.3 6 1.3 -25.5 1.3 11.8 1.3 4.9 1.3 -1.6 1.3 18 1.3 -6 1.3 -3.9 1.3 15.3 1.3 -1.7 1.3 13 1.3 -2.3 1.3 7.5 1.3 -10.7 1.3 2 1.3 1.7 1.3 -14.2 1.3 -8.3 1.3 -1.1 1.3 -1.5 1.3 -7.3 1.3 2.7 1.3 3 1.3 -10.5 1.3 -4.2 1.3 6.8 1.3 0.5 1.3 8.3 1.3 7 1.3 -2.1 1.3 13.9 1.3 4.6 1.3 -7.3 1.3 5.6 1.3 -6.4 1.3 10.9 1.3 -9.2 1.3 -1.3 1.3 -0.3 1.3 -8.7 1.3 -7.4 1.3 0.7"/><path d="M57 508.5l1.3 -13.6 1.3 -2.5 1.3 -2.8 1.3 0.4 1.3 1.8 1.3 -9.6 1.3 7.4 1.3 6.4 1.3 6.1 1.3 6.1 1.3 4 1.3 3.4 1.3 0.2 1.3 2.8 1.3 -0.9 1.3 9.3 1.3 2.9 1.3 -13.7 1.3 -7.6 1.3 0.3 1.3 -2 1.3 -8.3 1.3 -2.6 1.3 0.4 1.3 -5.6 1.3 -3.1 1.3 -2 1.3 7.7 1.3 9.3 1.3 -8.3 1.3 21.3 1.3 -1.4 1.3 10.7 1.3 -7.8 1.3 2.2 1.3 0.2 1.3 7.2 1.3 -3.4 1.3 -4.6 1.3 -1.5 1.3 -3 1.3 -11.7 1.3 3 1.3 -17.9 1.3 2.6 1.3 1.8 1.3 -5.3 1.3 2.2 1.3 -4.3 1.3 10.4 1.3 5.5 1.3 -1.8 1.3 14.9 1.3 -3.9 1.3 7.1 1.3 -0.8 1.3 8.4 1.3 -3.7 1.3 7.6 1.3 -3.6 1.3 -10.7 1.3 -0.4 1.3 1.2 1.3 -21.6 1.3 -5.1 1.3 12.5 1.3 -14.3 1.3 18.5 1.3 -9.9 1.3 -15 1.3 20.3 1.3 -0.3 1.3 5.9 1.3 8.2 1.3 -2.7 1.3 5.7 1.3 6.6 1.3 -7.1 1.3 6 1.3 1.7 1.3 -2.2 1.3 -2.4 1.3 -5.5 1.3 -14.5 1.3 0.4 1.3 -9.9 1.3 6.5 1.3 -1.5 1.3 -5.5 1.3 -9.3 1.3 9.7 1.3 7.4 1.3 3.1 1.3 6.4 1.3 5.4 1.3 -4.6 1.3 10 1.3 3.9 1.3 -3 1.3 5 1.3 -0.2 1.3 7.8 1.3 -6.9 1.3 -7.5 1.3 -4.7 1.3 -13.4 1.3 2.8 1.3 0.4 1.3 -9.7 1.3 1.8 1.3 1.4 1.3 -6.2 1.3 -3.4 1.3 9.9 1.3 2.5 1.3 19.5 1.3 -8.3 1.3 5.5 1.3 10.8 1.3 -7 1.3 3.6 1.3 2.5 1.3 -2.7 1.3 -1.8 1.3 -5.8 1.3 -17 1.3 12.7 1.3 -12.2 1.3 1.4 1.3 -6.7 1.3 2 1.3 3.1 1.3 -8.1 1.3 -0.5 1.3 8.3 1.3 1.7 1.3 13.5 1.3 -5.1 1.3 3.4 1.3 17.9 1.3 -9.6 1.3 7 1.3 -7 1.3 5.9 1.3 2.7 1.3 -6 1.3 -13.8 1.3 -0.2 1.3 -1.4"/><path d="M57 505.1l1.3 -5.7 1.3 -14.8 1.3 -0.3 1.3 -8.2 1.3 1.4 1.3 10.7 1.3 -0.6 1.3 9.5 1.3 0.3 1.3 8.4 1.3 4.3 1.3 14.4 1.3 1.8 1.3 4.7 1.3 1.3 1.3 -5.6 1.3 0.9 1.3 5.4 1.3 -15.2 1.3 -1.3 1.3 -7 1.3 -8.6 1.3 -7.2 1.3 -16.2 1.3 8.7 1.3 -4.6 1.3 1.1 1.3 9.1 1.3 13.2 1.3 4.5 1.3 7.9 1.3 7.1 1.3 3.8 1.3 -5.2 1.3 3.7 1.3 8.1 1.3 0.8 1.3 -9.3 1.3 -7.5 1.3 -4.2 1.3 -7.2 1.3 -8.3 1.3 -9.6 1.3 7.9 1.3 -10.1 1.3 -12.2 1.3 6.1 1.3 7.3 1.3 7.3 1.3 -3.6 1.3 2 1.3 27.6 1.3 -11.1 1.3 6.3 1.3 12 1.3 6.1 1.3 0.9 1.3 -7.6 1.3 0.3 1.3 -10.3 1.3 -2.8 1.3 -9.9 1.3 9.5 1.3 -13 1.3 -13.3 1.3 -3.8 1.3 7.6 1.3 -10.4 1.3 2.2 1.3 3.7 1.3 8.7 1.3 14.7 1.3 -5.5 1.3 3 1.3 6.4 1.3 8.4 1.3 1.6 1.3 -0.7 1.3 0.6 1.3 5.3 1.3 -3.3 1.3 -9.6 1.3 -2.9 1.3 -8.2 1.3 -7.2 1.3 -10.2 1.3 2.1 1.3 -9.4 1.3 1.2 1.3 1.3 1.3 4.7 1.3 3.3 1.3 1.1 1.3 10 1.3 3.8 1.3 -3.6 1.3 12.9 1.3 24.2 1.3 -17 1.3 7.1 1.3 1 1.3 -8 1.3 -3 1.3 -9.8 1.3 -5.5 1.3 -7 1.3 -9.4 1.3 1.3 1.3 0.1 1.3 -2.4 1.3 4.1 1.3 -1.9 1.3 17.2 1.3 -11.8 1.3 -0.5 1.3 5.7 1.3 16.1 1.3 10.4 1.3 4.4 1.3 -2.4 1.3 8.8 1.3 -6.7 1.3 -8.5 1.3 -5.1 1.3 -5.1 1.3 -3.4 1.3 -15.1 1.3 -5.1 1.3 5.3 1.3 -9.4 1.3 7 1.3 -3.3 1.3 -2.5 1.3 9.5 1.3 -1.3 1.3 9.7 1.3 6.8 1.3 8.1 1.3 -3.1 1.3 11.6 1.3 8.2 1.3 -4.4 1.3 3 1.3 0.5 1.3 -17.3 1.3 -3.9 1.3 0.7 1.3 -11.3 1.3 -12.5"/><path d="M57 494.9l1.3 -4.6 1.3 1.6 1.3 -1.2 1.3 -9.3 1.3 0.8 1.3 7.7 1.3 6.4 1.3 4.3 1.3 1 1.3 11.5 1.3 -6.2 1.3 11.6 1.3 8.7 1.3 -0.9 1.3 -1.4 1.3 1.6 1.3 -3 1.3 -7.9 1.3 4.3 1.3 -13.9 1.3 8.7 1.3 -26.1 1.3 8.3 1.3 -15.3 1.3 -1.1 1.3 5.9 1.3 -7.4 1.3 15.7 1.3 8.1 1.3 1.3 1.3 8.7 1.3 9.2 1.3 -2.3 1.3 11.1 1.3 -5.3 1.3 12.5 1.3 -12.8 1.3 -9.9 1.3 7.1 1.3 -7.8 1.3 -14.9 1.3 11.3 1.3 -18.2 1.3 2 1.3 8.3 1.3 -19.6 1.3 -0.1 1.3 10.7 1.3 -9.6 1.3 22.3 1.3 -4.5 1.3 17.3 1.3 4.6 1.3 -6.2 1.3 0.6 1.3 14.2 1.3 -11.4 1.3 7.2 1.3 -3.1 1.3 -3.3 1.3 -9.5 1.3 -9.7 1.3 3.1 1.3 -7.1 1.3 -2.1 1.3 -12.1 1.3 13.1 1.3 -5.2 1.3 -3.6 1.3 9.9 1.3 1.6 1.3 -3.7 1.3 11.1 1.3 9.9 1.3 4.5 1.3 4.6 1.3 -2.9 1.3 -2.6 1.3 1.9 1.3 2 1.3 -4.8 1.3 -3.2 1.3 -10.6 1.3 -4.9 1.3 -5.3 1.3 -3.6 1.3 -6.8 1.3 1.2 1.3 -0.4 1.3 10.9 1.3 -8.7 1.3 4 1.3 12.6 1.3 11.8 1.3 -3.9 1.3 -1.4 1.3 13.9 1.3 -5.3 1.3 8 1.3 -3.8 1.3 -7.3 1.3 7.4 1.3 -5.1 1.3 -8 1.3 -3.6 1.3 -13.2 1.3 -0.4 1.3 0 1.3 -1.2 1.3 -16.1 1.3 14.2 1.3 -4.6 1.3 -2.4 1.3 17.9 1.3 7.6 1.3 -4.7 1.3 15.4 1.3 2.1 1.3 5.5 1.3 7.4 1.3 -1.5 1.3 -8.3 1.3 -11.9 1.3 -3 1.3 -3.1 1.3 -6.4 1.3 0.1 1.3 -3.6 1.3 2.3 1.3 -4 1.3 -13.1 1.3 18.6 1.3 -11.8 1.3 2.5 1.3 -2.3 1.3 14.3 1.3 16.4 1.3 -6 1.3 8.6 1.3 3.4 1.3 2.9 1.3 -9.4 1.3 -0.7 1.3 5.3 1.3 -4 1.3 -13.8 1.3 -0.1 1.3 -2 1.3 -6.7"/><path d="M57 505.1l1.3 -8.4 1.3 -10.8 1.3 -11 1.3 4 1.3 2.3 1.3 -4.3 1.3 16.3 1.3 -5.5 1.3 20.8 1.3 -4 1.3 5.2 1.3 9.8 1.3 11.3 1.3 6.8 1.3 -12 1.3 8 1.3 -6.7 1.3 -8.3 1.3 -5.9 1.3 5.3 1.3 -20 1.3 -2.6 1.3 -2.3 1.3 1.7 1.3 -24.4 1.3 14.6 1.3 3.1 1.3 -6.5 1.3 11.8 1.3 8.2 1.3 12.2 1.3 3.1 1.3 4 1.3 7.9 1.3 8.5 1.3 -8.2 1.3 4.7 1.3 -5.6 1.3 -3.3 1.3 0.9 1.3 -15.4 1.3 -12.4 1.3 -1.3 1.3 -13.3 1.3 11.8 1.3 -4.5 1.3 -15.9 1.3 7.4 1.3 -2.4 1.3 13.5 1.3 4.5 1.3 19.5 1.3 -0.1 1.3 5.9 1.3 11.3 1.3 -6.2 1.3 7.1 1.3 -5.5 1.3 0 1.3 6.2 1.3 -31.3 1.3 10.8 1.3 -13.8 1.3 1.9 1.3 -15.5 1.3 -1.9 1.3 -8.3 1.3 12.6 1.3 -9.5 1.3 -1.6 1.3 -2.5 1.3 13.8 1.3 19.7 1.3 -3.8 1.3 5.9 1.3 13.1 1.3 5.1 1.3 3 1.3 -3.7 1.3 9.6 1.3 -17 1.3 -2.8 1.3 -4.7 1.3 -2.7 1.3 -2 1.3 -14.2 1.3 -2.6 1.3 -8.7 1.3 12.8 1.3 -16.6 1.3 12.8 1.3 -4.8 1.3 8.6 1.3 9.5 1.3 10.1 1.3 -3.7 1.3 7.8 1.3 0.8 1.3 -4.1 1.3 27.4 1.3 -13.7 1.3 -4.6 1.3 -7.4 1.3 -0.8 1.3 -4.3 1.3 -2.9 1.3 -12.3 1.3 -6.4 1.3 -10.3 1.3 -1.6 1.3 -0.1 1.3 -5.9 1.3 11 1.3 6.7 1.3 12.7 1.3 -9.5 1.3 9.8 1.3 19 1.3 -10.3 1.3 26.6 1.3 -8.2 1.3 5.9 1.3 -6.9 1.3 -18.5 1.3 5.3 1.3 -14.6 1.3 -2.4 1.3 -5.1 1.3 -5.1 1.3 -1.2 1.3 -4.6 1.3 4.9 1.3 -5.1 1.3 -2.1 1.3 11.1 1.3 1.3 1.3 12.3 1.3 0.9 1.3 7.6 1.3 14.1 1.3 -10.7 1.3 11.4 1.3 -5.3 1.3 5.8 1.3 -4.4 1.3 -15.2 1.3 0.2 1.3 -1.2 1.3 -16.5"/><path d="M57 482.1l1.3 1.7 1.3 5.9 1.3 -10.6 1.3 0 1.3 -3.3 1.3 -2.5 1.3 24.4 1.3 5.8 1.3 10 1.3 3.8 1.3 -0.7 1.3 2.8 1.3 14.7 1.3 5.2 1.3 -6.5 1.3 -0.3 1.3 1.8 1.3 -18.7 1.3 -5.4 1.3 -1.2 1.3 -13.5 1.3 -7.7 1.3 -4.3 1.3 0.4 1.3 -4.3 1.3 5.2 1.3 6.4 1.3 0.1 1.3 9.5 1.3 11.8 1.3 8.1 1.3 -0.3 1.3 5.4 1.3 11.8 1.3 -2.9 1.3 -0.8 1.3 -4.9 1.3 -7 1.3 2.6 1.3 -13.2 1.3 -15.6 1.3 9.3 1.3 -17.4 1.3 -1.3 1.3 -2.5 1.3 -7.2 1.3 -0.7 1.3 7.1 1.3 8 1.3 12.9 1.3 2.3 1.3 11.6 1.3 -7 1.3 13.3 1.3 7.3 1.3 -4.7 1.3 11.1 1.3 -6.1 1.3 -7.5 1.3 -10.7 1.3 -2.9 1.3 -13.7 1.3 5.3 1.3 -10.1 1.3 -10 1.3 -4 1.3 7.8 1.3 -6.6 1.3 12.3 1.3 5.1 1.3 -0.3 1.3 9.5 1.3 16.7 1.3 0.6 1.3 8.2 1.3 -1.4 1.3 7.5 1.3 -12.1 1.3 8.4 1.3 0.1 1.3 -12 1.3 -3.7 1.3 -11.4 1.3 -6.5 1.3 -4.3 1.3 -5.9 1.3 -8.3 1.3 1.8 1.3 -5.2 1.3 -0.1 1.3 12.9 1.3 -7.1 1.3 11.2 1.3 9 1.3 17 1.3 4.8 1.3 17.4 1.3 -11.9 1.3 1.5 1.3 -2.5 1.3 -10 1.3 8.5 1.3 -14 1.3 -7.1 1.3 -2.7 1.3 -11.3 1.3 -0.3 1.3 -2.9 1.3 -3.9 1.3 -6.9 1.3 -0.2 1.3 8.3 1.3 -1.5 1.3 2.9 1.3 7.8 1.3 21.3 1.3 -4.1 1.3 19.2 1.3 -3.8 1.3 0.9 1.3 4.5 1.3 1.6 1.3 -22.3 1.3 2.7 1.3 -11.4 1.3 -9.4 1.3 -11.8 1.3 -0.7 1.3 -3.8 1.3 4.3 1.3 3.5 1.3 -3.2 1.3 -0.4 1.3 16.2 1.3 -5.8 1.3 9.5 1.3 5.5 1.3 12.7 1.3 6.7 1.3 0.7 1.3 2.8 1.3 -2 1.3 -5.2 1.3 3.4 1.3 -14.7 1.3 -8 1.3 -0.5 1.3 -12.4 1.3 -0.4"/><path d="M57 483l1.3 -0.3 1.3 7.6 1.3 -3.4 1.3 -1.8 1.3 13.1 1.3 -6.4 1.3 19.8 1.3 5.9 1.3 7.9 1.3 -8.8 1.3 14.7 1.3 6.1 1.3 -8.6 1.3 -3.9 1.3 5.7 1.3 -19.6 1.3 1 1.3 -3 1.3 -10 1.3 -2.2 1.3 -0.4 1.3 -5.3 1.3 -3.8 1.3 -3.3 1.3 0.8 1.3 6.7 1.3 8.3 1.3 5.1 1.3 24.5 1.3 -10.3 1.3 3.8 1.3 7.3 1.3 -6.4 1.3 3.4 1.3 2.5 1.3 -10.1 1.3 5.2 1.3 -13.8 1.3 -2.2 1.3 -0.3 1.3 -8.3 1.3 -8.5 1.3 -2.6 1.3 0.3 1.3 -6.2 1.3 1.6 1.3 15.5 1.3 5.8 1.3 1.5 1.3 3.4 1.3 1.5 1.3 8.5 1.3 3.5 1.3 4.3 1.3 4.2 1.3 -2.6 1.3 -3.9 1.3 -14.2 1.3 1.4 1.3 -0.5 1.3 -14.8 1.3 -11.7 1.3 7.3 1.3 2.2 1.3 -3.8 1.3 -6.1 1.3 5.8 1.3 -8 1.3 16.4 1.3 1.4 1.3 14.8 1.3 -5.5 1.3 20.4 1.3 7 1.3 0.4 1.3 -6 1.3 -9.9 1.3 1 1.3 3.1 1.3 -8.7 1.3 -10.8 1.3 -3.8 1.3 -8.5 1.3 0.6 1.3 -7.9 1.3 4.5 1.3 -1 1.3 -3.5 1.3 10.5 1.3 -13.2 1.3 10.3 1.3 10.2 1.3 11.3 1.3 11 1.3 -1.3 1.3 1.7 1.3 2.2 1.3 -11.7 1.3 3 1.3 5.5 1.3 -6.7 1.3 -10.2 1.3 -3.4 1.3 -9.3 1.3 -11.7 1.3 5.2 1.3 -5.5 1.3 -6.3 1.3 7.4 1.3 2.6 1.3 5.6 1.3 2.6 1.3 7 1.3 4.5 1.3 3.9 1.3 9.7 1.3 2.5 1.3 6.8 1.3 -2.7 1.3 -6.3 1.3 2 1.3 -9.7 1.3 -1.3 1.3 1.5 1.3 -11.9 1.3 -15.6 1.3 -2.8 1.3 6.5 1.3 -11.5 1.3 5.3 1.3 4 1.3 1.3 1.3 3.1 1.3 8.9 1.3 4 1.3 5.4 1.3 11.3 1.3 -1.2 1.3 1.8 1.3 7.1 1.3 -2.2 1.3 -6.1 1.3 -7 1.3 -3.7 1.3 -6 1.3 -13.1 1.3 -1.4 1.3 9.4 1.3 -10.4"/><path d="M57 491l1.3 -7.1 1.3 2.8 1.3 3.2 1.3 -1.6 1.3 9.3 1.3 0.7 1.3 -0.7 1.3 11.1 1.3 6.9 1.3 1.6 1.3 1.8 1.3 4.8 1.3 5.9 1.3 -8.1 1.3 12.5 1.3 -7.5 1.3 -18.3 1.3 -2 1.3 0.2 1.3 -11.8 1.3 0.8 1.3 0.6 1.3 -6 1.3 -7.1 1.3 11.6 1.3 3.6 1.3 -4.5 1.3 12.9 1.3 -0.1 1.3 2.6 1.3 17.1 1.3 3.1 1.3 -7.1 1.3 -5.2 1.3 17.2 1.3 -11.5 1.3 1.5 1.3 -11.8 1.3 3.3 1.3 -3.4 1.3 -11 1.3 -3.1 1.3 -5.5 1.3 0.7 1.3 -10.2 1.3 0.4 1.3 -2 1.3 12.4 1.3 5.6 1.3 1.5 1.3 16.7 1.3 -0.6 1.3 22.1 1.3 -10.5 1.3 -5.8 1.3 5.3 1.3 4.2 1.3 -3.8 1.3 -3.5 1.3 -15.3 1.3 1.8 1.3 -10.7 1.3 -0.5 1.3 -10.8 1.3 -0.7 1.3 1.9 1.3 -4.9 1.3 4.2 1.3 7.4 1.3 -5.7 1.3 11.8 1.3 5.5 1.3 12.5 1.3 0.6 1.3 4.2 1.3 -1.7 1.3 4.7 1.3 -4.9 1.3 5.2 1.3 -9.9 1.3 -4.5 1.3 -2.4 1.3 -6.2 1.3 -15.5 1.3 3.4 1.3 -6.7 1.3 -10.3 1.3 4.9 1.3 12.7 1.3 -1.3 1.3 1.6 1.3 12.8 1.3 -7.5 1.3 20.9 1.3 -5.7 1.3 14.4 1.3 -5.4 1.3 2.2 1.3 1.2 1.3 -5.5 1.3 3.6 1.3 -4 1.3 -11.6 1.3 -5.2 1.3 -5.1 1.3 3.8 1.3 -12 1.3 2 1.3 -8.5 1.3 -1.1 1.3 -0.9 1.3 12.5 1.3 4.5 1.3 5.2 1.3 11.5 1.3 3.6 1.3 11.4 1.3 -4.2 1.3 -5.8 1.3 12.1 1.3 -14.4 1.3 -0.8 1.3 -11.1 1.3 5.7 1.3 -2.5 1.3 -19 1.3 -2.7 1.3 -3 1.3 -6.6 1.3 8.2 1.3 -1.4 1.3 -4.4 1.3 0.2 1.3 8.7 1.3 13.5 1.3 -3.4 1.3 13.6 1.3 7.1 1.3 6.2 1.3 -4.2 1.3 1.2 1.3 6 1.3 -13 1.3 -2.7 1.3 0.5 1.3 -17.9 1.3 3.8 1.3 -19.5 1.3 4.9"/></g>
<path d="M57 500.7l3.1 -11.2 4 -0.4 5.1 16.6 5 19.3 5.1 -2.7 5.1 -18.6 4.6 -14.2 4.5 7.1 5 20.3 5.1 11.1 5 -11.1 5.1 -21.3 4.5 -7.7 4.6 14.8 5.1 19.6 5 4.1 5.1 -18.6 4.4 -15.8 4.7 0 5.1 18 4.9 16.1 5.1 -4 4.4 -16.2 4.7 -16.7 4.7 5.5 4.8 18.3 5.3 14.2 5.5 -10.2 4.6 -18.2 4.5 -9.6 5.1 10.6 5.1 21.3 4.4 5.4 4.7 -16.6 5 -16.6 5.1 -2.1 4.7 14.7 4.4 17.2 5.1 -1 5.1 -19.3 1.6 -4.8" stroke="#000" stroke-width="2.2"/>
</g>
<g stroke="rgba(0,0,0,0.11)" stroke-width="1"><line x1="113.5" y1="448.5" x2="113.5" y2="567.5"/><line x1="177.9" y1="448.5" x2="177.9" y2="567.5"/><line x1="242.3" y1="448.5" x2="242.3" y2="567.5"/><line x1="57.3" y1="537.8" x2="250.2" y2="537.8"/><line x1="57.3" y1="508" x2="250.2" y2="508"/><line x1="57.3" y1="478.2" x2="250.2" y2="478.2"/></g>
<g stroke="#868686" stroke-width="1.45"><line x1="113.5" y1="567.5" x2="113.5" y2="565"/><line x1="113.5" y1="448.5" x2="113.5" y2="451"/><line x1="177.9" y1="567.5" x2="177.9" y2="565"/><line x1="177.9" y1="448.5" x2="177.9" y2="451"/><line x1="242.3" y1="567.5" x2="242.3" y2="565"/><line x1="242.3" y1="448.5" x2="242.3" y2="451"/><line x1="57.3" y1="567.5" x2="59.8" y2="567.5"/><line x1="250.2" y1="567.5" x2="247.7" y2="567.5"/><line x1="57.3" y1="537.8" x2="59.8" y2="537.8"/><line x1="250.2" y1="537.8" x2="247.7" y2="537.8"/><line x1="57.3" y1="508" x2="59.8" y2="508"/><line x1="250.2" y1="508" x2="247.7" y2="508"/><line x1="57.3" y1="478.2" x2="59.8" y2="478.2"/><line x1="250.2" y1="478.2" x2="247.7" y2="478.2"/><line x1="57.3" y1="448.5" x2="59.8" y2="448.5"/><line x1="250.2" y1="448.5" x2="247.7" y2="448.5"/><rect x="57.3" y="448.5" width="192.9" height="119" fill="none"/></g>
<g stroke="rgba(0,0,0,0.11)" stroke-width="1"><line x1="368.2" y1="436.5" x2="368.2" y2="567.3"/><line x1="415" y1="436.5" x2="415" y2="567.3"/><line x1="461.8" y1="436.5" x2="461.8" y2="567.3"/><line x1="508.5" y1="436.5" x2="508.5" y2="567.3"/><line x1="330.8" y1="501.9" x2="513.2" y2="501.9"/></g>
<path d="M330.9 437l4.7 63.4 4.7 22.3 5.8 10.6 9.4 9.4 6.5 5.8 6.4 3.1 4.7 -1.9 5.9 2.3 3.5 0.5 4.7 3.1 4.7 -1.2 5.9 2.4 9.4 1.2 3.5 1.1 4.7 -1.1 3.4 1.2 3.9 0.6 11.5 0.6 8.7 -0.6 4.8 1.9 8.6 -1.9 4.9 1.5 5.7 -0.1 9.6 1.5 5.8 0 6.7 -1 4.8 1 9.7 0 3.8 1 5.3 0.3" fill="none" stroke="#000" stroke-width="2.4" stroke-linejoin="round"/>
<g stroke="#868686" stroke-width="1.45"><line x1="368.2" y1="567.3" x2="368.2" y2="564.8"/><line x1="368.2" y1="436.5" x2="368.2" y2="439"/><line x1="415" y1="567.3" x2="415" y2="564.8"/><line x1="415" y1="436.5" x2="415" y2="439"/><line x1="461.8" y1="567.3" x2="461.8" y2="564.8"/><line x1="461.8" y1="436.5" x2="461.8" y2="439"/><line x1="508.5" y1="567.3" x2="508.5" y2="564.8"/><line x1="508.5" y1="436.5" x2="508.5" y2="439"/><line x1="330.8" y1="567.3" x2="333.3" y2="567.3"/><line x1="513.2" y1="567.3" x2="510.7" y2="567.3"/><line x1="330.8" y1="501.9" x2="333.3" y2="501.9"/><line x1="513.2" y1="501.9" x2="510.7" y2="501.9"/><line x1="330.8" y1="436.5" x2="333.3" y2="436.5"/><line x1="513.2" y1="436.5" x2="510.7" y2="436.5"/><rect x="330.8" y="436.5" width="182.4" height="130.8" fill="none"/></g>
<g font-family='"Liberation Serif", "DejaVu Serif", serif' fill="#141414"><text x="69.5" y="370" font-size="21.5" text-anchor="middle" textLength="11.1" lengthAdjust="spacingAndGlyphs">0</text><text x="152.5" y="370" font-size="21.5" text-anchor="middle" textLength="11.1" lengthAdjust="spacingAndGlyphs">2</text><text x="235.5" y="370" font-size="21.5" text-anchor="middle" textLength="11.1" lengthAdjust="spacingAndGlyphs">4</text><text x="318.5" y="370" font-size="21.5" text-anchor="middle" textLength="11.1" lengthAdjust="spacingAndGlyphs">6</text><text x="401.5" y="370" font-size="21.5" text-anchor="middle" textLength="11.1" lengthAdjust="spacingAndGlyphs">8</text><text x="484.5" y="370" font-size="21.5" text-anchor="middle" textLength="22.2" lengthAdjust="spacingAndGlyphs">10</text><text x="64.6" y="354.3" font-size="21.5" text-anchor="end" textLength="28.2" lengthAdjust="spacingAndGlyphs">0.0</text><text x="64.6" y="292.5" font-size="21.5" text-anchor="end" textLength="28.2" lengthAdjust="spacingAndGlyphs">0.5</text><text x="64.6" y="230.7" font-size="21.5" text-anchor="end" textLength="28.2" lengthAdjust="spacingAndGlyphs">1.0</text><text x="64.6" y="168.9" font-size="21.5" text-anchor="end" textLength="28.2" lengthAdjust="spacingAndGlyphs">1.5</text><text x="64.6" y="107.1" font-size="21.5" text-anchor="end" textLength="28.2" lengthAdjust="spacingAndGlyphs">2.0</text><text x="64.6" y="45.3" font-size="21.5" text-anchor="end" textLength="28.2" lengthAdjust="spacingAndGlyphs">2.5</text><text x="8" y="20.2" font-size="24.5">(a)</text><text x="70.2" y="35.9" font-size="28">×</text><text x="84.6" y="32.5" font-size="22.5" textLength="23" lengthAdjust="spacingAndGlyphs">10</text><text x="107.6" y="23.5" font-size="14.5">-7</text><text x="245.1" y="391.5" font-size="22" font-style="italic">r</text><text x="261" y="392.3" font-size="24.5">(</text><text x="267.2" y="391.5" font-size="22" textLength="37.6" lengthAdjust="spacingAndGlyphs">mm</text><text x="304" y="392.3" font-size="24.5">)</text><g transform="translate(19.5,266) rotate(-90)"><text x="1.8" y="0" font-size="24">|</text><text x="9" y="0" font-size="22" font-style="italic">ũ</text><text x="24" y="0" font-size="24">|</text><text x="37" y="1.4" font-size="24">×</text><text x="58" y="4" font-size="25">√</text><line x1="70.8" y1="-15.6" x2="81.8" y2="-15.6" stroke="#141414" stroke-width="1.1"/><text x="73.6" y="0" font-size="22" font-style="italic">r</text><text x="88.3" y="0.8" font-size="24.5">(</text><text x="96" y="0" font-size="22" textLength="34.6" lengthAdjust="spacingAndGlyphs">a.u.</text><text x="131.4" y="0.8" font-size="24.5">)</text></g><text x="336.41" y="177.7" font-size="21.5" text-anchor="middle" textLength="28.2" lengthAdjust="spacingAndGlyphs">0.6</text><text x="400.36" y="177.7" font-size="21.5" text-anchor="middle" textLength="28.2" lengthAdjust="spacingAndGlyphs">0.8</text><text x="464.31" y="177.7" font-size="21.5" text-anchor="middle" textLength="28.2" lengthAdjust="spacingAndGlyphs">1.0</text><text x="276.6" y="166.7" font-size="21.5" text-anchor="end" textLength="40.3" lengthAdjust="spacingAndGlyphs">-200</text><text x="276.6" y="110.7" font-size="21.5" text-anchor="end" textLength="11.1" lengthAdjust="spacingAndGlyphs">0</text><text x="276.6" y="54.7" font-size="21.5" text-anchor="end" textLength="33.3" lengthAdjust="spacingAndGlyphs">200</text><text x="345.9" y="193.5" font-size="22" font-style="italic">r</text><text x="361.8" y="194.3" font-size="24.5">(</text><text x="368" y="193.5" font-size="22" textLength="37.6" lengthAdjust="spacingAndGlyphs">mm</text><text x="404.8" y="194.3" font-size="24.5">)</text><g transform="translate(233,142.6) rotate(-90)"><text x="0" y="0" font-size="22" textLength="53.2" lengthAdjust="spacingAndGlyphs">phase</text><text x="61.6" y="0.8" font-size="24.5">(</text><text x="69.6" y="0" font-size="22">°</text><text x="75.6" y="0.8" font-size="24.5">)</text></g><text x="113.5" y="589.4" font-size="21.5" text-anchor="middle" textLength="28.2" lengthAdjust="spacingAndGlyphs">0.6</text><text x="177.9" y="589.4" font-size="21.5" text-anchor="middle" textLength="28.2" lengthAdjust="spacingAndGlyphs">0.8</text><text x="242.31" y="589.4" font-size="21.5" text-anchor="middle" textLength="28.2" lengthAdjust="spacingAndGlyphs">1.0</text><text x="49.4" y="574.8" font-size="21.5" text-anchor="end" textLength="18.1" lengthAdjust="spacingAndGlyphs">-4</text><text x="49.4" y="545.05" font-size="21.5" text-anchor="end" textLength="18.1" lengthAdjust="spacingAndGlyphs">-2</text><text x="49.4" y="515.3" font-size="21.5" text-anchor="end" textLength="11.1" lengthAdjust="spacingAndGlyphs">0</text><text x="49.4" y="485.55" font-size="21.5" text-anchor="end" textLength="11.1" lengthAdjust="spacingAndGlyphs">2</text><text x="49.4" y="455.8" font-size="21.5" text-anchor="end" textLength="11.1" lengthAdjust="spacingAndGlyphs">4</text><text x="41.8" y="421.2" font-size="24.5">(b)</text><text x="56.2" y="447.7" font-size="28">×</text><text x="70.6" y="444.3" font-size="22.5" textLength="23" lengthAdjust="spacingAndGlyphs">10</text><text x="93.6" y="435.3" font-size="14.5">-7</text><text x="125.9" y="610" font-size="22" font-style="italic">r</text><text x="141.8" y="610.8" font-size="24.5">(</text><text x="148" y="610" font-size="22" textLength="37.6" lengthAdjust="spacingAndGlyphs">mm</text><text x="184.8" y="610.8" font-size="24.5">)</text><g transform="translate(18.4,586.4) rotate(-90)"><text x="0" y="0" font-size="22" textLength="25.6" lengthAdjust="spacingAndGlyphs">Re</text><text x="25.6" y="0.8" font-size="24.5">(</text><text x="33.4" y="0" font-size="22" font-style="italic">ũ</text><text x="44.8" y="0.8" font-size="24.5">)</text><text x="56.6" y="1.4" font-size="24">×</text><text x="75.6" y="4" font-size="25">√</text><line x1="88.4" y1="-15.6" x2="99.4" y2="-15.6" stroke="#141414" stroke-width="1.1"/><text x="90.2" y="0" font-size="22" font-style="italic">r</text><text x="107.6" y="0.8" font-size="24.5">(</text><text x="115.4" y="0" font-size="22" textLength="34.6" lengthAdjust="spacingAndGlyphs">a.u.</text><text x="150.8" y="0.8" font-size="24.5">)</text></g><text x="368.22" y="589.4" font-size="21.5" text-anchor="middle" textLength="22.2" lengthAdjust="spacingAndGlyphs">10</text><text x="414.98" y="589.4" font-size="21.5" text-anchor="middle" textLength="22.2" lengthAdjust="spacingAndGlyphs">20</text><text x="461.75" y="589.4" font-size="21.5" text-anchor="middle" textLength="22.2" lengthAdjust="spacingAndGlyphs">30</text><text x="508.52" y="589.4" font-size="21.5" text-anchor="middle" textLength="22.2" lengthAdjust="spacingAndGlyphs">40</text><text x="325.2" y="574.6" font-size="21.5" text-anchor="end" textLength="28.2" lengthAdjust="spacingAndGlyphs">0.0</text><text x="325.2" y="509.2" font-size="21.5" text-anchor="end" textLength="28.2" lengthAdjust="spacingAndGlyphs">0.5</text><text x="325.2" y="443.8" font-size="21.5" text-anchor="end" textLength="28.2" lengthAdjust="spacingAndGlyphs">1.0</text><text x="326.4" y="421.2" font-size="24.5">(c)</text><text x="403.8" y="610.2" font-size="22" textLength="17.2" lengthAdjust="spacingAndGlyphs">m</text><text x="430.3" y="611" font-size="24.5">(</text><text x="439" y="610.2" font-size="22">1</text><text x="447" y="611" font-size="24.5">)</text><g transform="translate(284,535) rotate(-90)"><text x="-0.8" y="0" font-size="22" font-style="italic">D</text><text x="15.8" y="5.9" font-size="22" textLength="17.2" lengthAdjust="spacingAndGlyphs">m</text><text x="42" y="0.8" font-size="24.5">(</text><text x="50.6" y="0" font-size="22">1</text><text x="58.6" y="0.8" font-size="24.5">)</text></g></g>
</svg>
</body></html>
